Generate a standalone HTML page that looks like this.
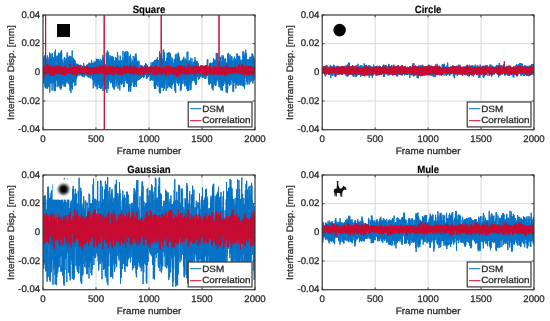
<!DOCTYPE html><html><head><meta charset="utf-8"><style>html,body{margin:0;padding:0;background:#fff;width:550px;height:321px;overflow:hidden}svg{display:block}text{font-family:'Liberation Sans', Arial, Helvetica, sans-serif;stroke-width:0.28px;paint-order:stroke;text-rendering:geometricPrecision}</style></head><body>
<svg width="550" height="321" viewBox="0 0 550 321">
<rect width="550" height="321" fill="#fff"/>
<defs>
<clipPath id="cS1"><rect x="43.0" y="15.0" width="212.0" height="114.7"/></clipPath>
<clipPath id="cS2"><rect x="322.2" y="15.0" width="211.8" height="114.7"/></clipPath>
<clipPath id="cS3"><rect x="43.0" y="175.0" width="212.0" height="114.7"/></clipPath>
<clipPath id="cS4"><rect x="322.2" y="175.0" width="211.8" height="114.7"/></clipPath>
<radialGradient id="gblob"><stop offset="0" stop-color="#000"/><stop offset="0.3" stop-color="#030303"/><stop offset="0.55" stop-color="#5a5a5a"/><stop offset="0.8" stop-color="#dedede"/><stop offset="1" stop-color="#fff"/></radialGradient>
</defs>
<line x1="96.00" y1="15.00" x2="96.00" y2="129.70" stroke="#d9d9d9" stroke-width="1.0"/><line x1="149.00" y1="15.00" x2="149.00" y2="129.70" stroke="#d9d9d9" stroke-width="1.0"/><line x1="202.00" y1="15.00" x2="202.00" y2="129.70" stroke="#d9d9d9" stroke-width="1.0"/><line x1="43.00" y1="101.02" x2="255.00" y2="101.02" stroke="#d9d9d9" stroke-width="1.0"/><line x1="43.00" y1="72.35" x2="255.00" y2="72.35" stroke="#d9d9d9" stroke-width="1.0"/><line x1="43.00" y1="43.67" x2="255.00" y2="43.67" stroke="#d9d9d9" stroke-width="1.0"/>
<g clip-path="url(#cS1)"><g fill="none" stroke-width="1.0" stroke-linejoin="round">
<path stroke="#0873c6" d="M43.0 57.1L43.1 68.9 43.2 82.7 43.3 83.5 43.4 59.8 43.5 79.1 43.6 80.4 43.7 79.5 43.8 79.2 44.0 56.5 44.1 82.9 44.2 79.5 44.3 57.7 44.4 57.2 44.5 60.0 44.6 78.7 44.7 55.4 44.8 70.0 44.9 83.5 45.0 86.7 45.1 79.2 45.2 84.2 45.3 88.2 45.4 80.7 45.5 59.3 45.6 82.3 45.8 61.2 45.9 58.1 46.0 83.9 46.1 80.3 46.2 86.0 46.3 59.9 46.4 80.8 46.5 59.5 46.6 88.6 46.7 76.4 46.8 64.6 46.9 61.5 47.0 81.3 47.1 86.4 47.2 67.7 47.3 55.4 47.5 88.5 47.6 60.6 47.7 64.9 47.8 76.4 47.9 57.0 48.0 58.8 48.1 60.9 48.2 81.0 48.3 67.6 48.4 86.3 48.5 79.2 48.6 80.2 48.7 79.6 48.8 59.2 48.9 80.6 49.0 77.0 49.1 87.4 49.3 80.5 49.4 61.1 49.5 52.4 49.6 56.5 49.7 92.6 49.8 92.2 49.9 87.8 50.0 80.3 50.1 59.2 50.2 53.4 50.3 78.2 50.4 80.4 50.5 75.8 50.6 58.9 50.7 83.6 50.8 58.2 51.0 62.4 51.1 75.6 51.2 81.1 51.3 59.0 51.4 82.3 51.5 71.9 51.6 79.9 51.7 57.1 51.8 57.6 51.9 56.1 52.0 54.2 52.1 90.6 52.2 57.1 52.3 53.2 52.4 84.1 52.5 77.6 52.6 77.9 52.8 59.1 52.9 75.7 53.0 61.5 53.1 62.3 53.2 75.7 53.3 82.9 53.4 57.3 53.5 77.7 53.6 66.8 53.7 81.4 53.8 77.1 53.9 59.6 54.0 57.7 54.1 90.6 54.2 82.9 54.3 86.3 54.4 77.3 54.6 58.2 54.7 91.1 54.8 63.0 54.9 52.4 55.0 56.7 55.1 87.0 55.2 50.7 55.3 91.1 55.4 85.1 55.5 49.6 55.6 59.7 55.7 67.0 55.8 64.1 55.9 64.2 56.0 80.2 56.1 66.2 56.2 65.2 56.4 80.4 56.5 69.8 56.6 74.5 56.7 68.0 56.8 55.7 56.9 57.9 57.0 61.8 57.1 58.4 57.2 87.2 57.3 66.0 57.4 78.8 57.5 61.6 57.6 59.8 57.7 61.1 57.8 55.6 57.9 83.8 58.1 76.0 58.2 80.0 58.3 83.4 58.4 86.1 58.5 56.5 58.6 52.7 58.7 80.3 58.8 56.6 58.9 53.0 59.0 81.9 59.1 77.7 59.2 62.4 59.3 59.5 59.4 64.7 59.5 58.4 59.6 86.8 59.7 53.8 59.9 62.4 60.0 88.4 60.1 85.3 60.2 68.1 60.3 62.0 60.4 62.5 60.5 62.0 60.6 65.4 60.7 52.5 60.8 55.3 60.9 89.7 61.0 63.5 61.1 55.4 61.2 51.0 61.3 62.4 61.4 87.8 61.5 50.1 61.7 52.4 61.8 53.6 61.9 78.2 62.0 85.5 62.1 67.1 62.2 80.2 62.3 67.8 62.4 61.1 62.5 84.0 62.6 60.8 62.7 64.1 62.8 59.5 62.9 84.0 63.0 63.8 63.1 62.8 63.2 64.6 63.4 81.2 63.5 74.9 63.6 81.2 63.7 67.0 63.8 79.1 63.9 86.5 64.0 75.4 64.1 79.6 64.2 62.2 64.3 57.8 64.4 66.3 64.5 86.0 64.6 58.7 64.7 57.2 64.8 57.9 64.9 62.3 65.0 68.6 65.2 87.0 65.3 83.9 65.4 78.1 65.5 59.8 65.6 66.6 65.7 66.1 65.8 84.2 65.9 61.2 66.0 64.3 66.1 59.2 66.2 58.4 66.3 58.3 66.4 79.1 66.5 58.4 66.6 68.8 66.7 82.2 66.8 79.8 67.0 55.1 67.1 55.6 67.2 52.5 67.3 57.0 67.4 78.0 67.5 81.1 67.6 64.4 67.7 58.7 67.8 57.3 67.9 81.1 68.0 83.2 68.1 65.1 68.2 56.6 68.3 83.9 68.4 83.3 68.5 77.7 68.7 75.4 68.8 61.0 68.9 76.6 69.0 60.2 69.1 77.2 69.2 60.0 69.3 61.1 69.4 82.1 69.5 55.7 69.6 61.0 69.7 67.6 69.8 86.6 69.9 64.7 70.0 62.5 70.1 90.6 70.2 71.8 70.3 90.5 70.5 86.8 70.6 56.3 70.7 84.1 70.8 83.5 70.9 92.9 71.0 92.2 71.1 56.6 71.2 82.4 71.3 64.7 71.4 76.2 71.5 60.4 71.6 87.3 71.7 60.7 71.8 60.7 71.9 84.9 72.0 87.7 72.2 50.5 72.3 89.6 72.4 85.4 72.5 58.2 72.6 78.6 72.7 76.2 72.8 58.4 72.9 76.2 73.0 83.1 73.1 76.1 73.2 58.0 73.3 67.5 73.4 61.3 73.5 65.9 73.6 81.9 73.7 60.2 73.8 73.4 74.0 79.0 74.1 67.0 74.2 65.0 74.3 64.2 74.4 59.5 74.5 79.1 74.6 81.9 74.7 77.9 74.8 77.5 74.9 79.1 75.0 85.9 75.1 61.8 75.2 82.7 75.3 66.2 75.4 60.6 75.5 84.1 75.6 62.6 75.8 85.3 75.9 66.3 76.0 64.6 76.1 65.4 76.2 65.5 76.3 65.8 76.4 68.5 76.5 79.1 76.6 75.9 76.7 77.9 76.8 63.6 76.9 76.0 77.0 69.4 77.1 76.5 77.2 64.2 77.3 65.1 77.5 75.8 77.6 73.0 77.7 66.4 77.8 72.6 77.9 65.8 78.0 75.7 78.1 63.9 78.2 66.4 78.3 74.4 78.4 73.5 78.5 69.7 78.6 65.2 78.7 66.5 78.8 74.9 78.9 75.2 79.0 67.1 79.1 75.6 79.3 74.5 79.4 66.4 79.5 65.3 79.6 73.9 79.7 65.6 79.8 67.8 79.9 65.5 80.0 66.1 80.1 64.8 80.2 66.7 80.3 65.6 80.4 72.5 80.5 75.2 80.6 67.1 80.7 68.5 80.8 66.1 80.9 68.8 81.1 74.7 81.2 75.1 81.3 72.7 81.4 74.8 81.5 72.9 81.6 75.8 81.7 73.6 81.8 74.9 81.9 75.9 82.0 67.7 82.1 72.1 82.2 75.7 82.3 76.8 82.4 76.6 82.5 65.9 82.6 69.7 82.8 69.5 82.9 68.0 83.0 76.0 83.1 66.4 83.2 69.1 83.3 72.4 83.4 66.7 83.5 76.1 83.6 72.8 83.7 63.1 83.8 69.5 83.9 65.5 84.0 75.0 84.1 77.3 84.2 65.8 84.3 74.2 84.4 77.0 84.6 75.8 84.7 67.9 84.8 73.6 84.9 76.1 85.0 72.9 85.1 74.9 85.2 66.0 85.3 74.8 85.4 74.7 85.5 68.9 85.6 70.5 85.7 66.2 85.8 67.4 85.9 74.4 86.0 69.1 86.1 68.9 86.2 73.0 86.4 65.9 86.5 73.2 86.6 68.4 86.7 65.4 86.8 66.6 86.9 76.2 87.0 75.2 87.1 75.5 87.2 66.6 87.3 75.2 87.4 66.2 87.5 75.5 87.6 76.8 87.7 64.8 87.8 64.9 87.9 64.6 88.0 72.1 88.2 74.3 88.3 75.3 88.4 77.5 88.5 63.5 88.6 76.6 88.7 75.5 88.8 63.6 88.9 65.6 89.0 76.9 89.1 62.7 89.2 64.2 89.3 65.2 89.4 63.7 89.5 77.4 89.6 75.7 89.7 63.5 89.9 69.8 90.0 65.7 90.1 67.2 90.2 77.2 90.3 75.0 90.4 76.7 90.5 65.7 90.6 78.4 90.7 63.7 90.8 73.5 90.9 63.3 91.0 63.9 91.1 68.5 91.2 63.7 91.3 62.8 91.4 75.7 91.5 59.9 91.7 74.3 91.8 76.0 91.9 76.8 92.0 76.5 92.1 74.8 92.2 79.3 92.3 72.4 92.4 64.3 92.5 75.9 92.6 62.7 92.7 67.1 92.8 65.6 92.9 80.1 93.0 66.0 93.1 68.3 93.2 88.4 93.3 87.8 93.5 73.6 93.6 69.6 93.7 63.3 93.8 66.2 93.9 65.3 94.0 80.2 94.1 61.4 94.2 75.8 94.3 79.2 94.4 82.8 94.5 63.2 94.6 79.4 94.7 63.7 94.8 73.9 94.9 79.3 95.0 85.5 95.2 69.6 95.3 62.0 95.4 78.5 95.5 65.5 95.6 63.9 95.7 65.0 95.8 77.2 95.9 80.7 96.0 86.8 96.1 60.8 96.2 86.9 96.3 58.7 96.4 60.5 96.5 65.5 96.6 83.2 96.7 81.9 96.8 60.2 97.0 86.5 97.1 86.6 97.2 89.3 97.3 65.1 97.4 81.4 97.5 82.8 97.6 58.9 97.7 69.9 97.8 84.8 97.9 64.4 98.0 79.4 98.1 60.5 98.2 84.8 98.3 67.9 98.4 62.1 98.5 59.2 98.7 81.3 98.8 82.3 98.9 59.9 99.0 60.7 99.1 73.0 99.2 88.1 99.3 64.7 99.4 62.6 99.5 87.6 99.6 81.8 99.7 83.1 99.8 61.0 99.9 63.5 100.0 80.7 100.1 84.1 100.2 78.9 100.3 58.9 100.5 62.2 100.6 64.4 100.7 88.8 100.8 87.5 100.9 88.7 101.0 82.8 101.1 61.2 101.2 88.2 101.3 63.4 101.4 61.1 101.5 84.3 101.6 64.1 101.7 60.4 101.8 85.9 101.9 84.0 102.0 62.3 102.1 77.5 102.3 86.1 102.4 59.8 102.5 82.9 102.6 85.1 102.7 84.9 102.8 65.7 102.9 55.3 103.0 91.0 103.1 58.2 103.2 82.5 103.3 63.6 103.4 81.4 103.5 66.6 103.6 80.2 103.7 63.4 103.8 65.6 104.0 84.7 104.1 84.9 104.2 83.9 104.3 59.6 104.4 59.6 104.5 84.1 104.6 81.6 104.7 65.5 104.8 74.8 104.9 80.4 105.0 67.1 105.1 76.4 105.2 64.5 105.3 79.9 105.4 89.4 105.5 78.2 105.6 85.7 105.8 67.8 105.9 88.1 106.0 64.6 106.1 82.7 106.2 84.1 106.3 53.3 106.4 57.3 106.5 65.3 106.6 91.0 106.7 66.2 106.8 93.0 106.9 62.1 107.0 74.8 107.1 60.1 107.2 52.0 107.3 62.0 107.4 50.7 107.6 84.2 107.7 50.8 107.8 56.4 107.9 58.1 108.0 83.5 108.1 88.5 108.2 53.1 108.3 52.5 108.4 88.8 108.5 63.4 108.6 74.5 108.7 78.9 108.8 79.3 108.9 63.9 109.0 81.7 109.1 78.5 109.2 59.5 109.4 79.8 109.5 77.2 109.6 60.8 109.7 79.7 109.8 59.0 109.9 76.8 110.0 60.2 110.1 55.2 110.2 75.9 110.3 56.4 110.4 63.1 110.5 64.2 110.6 82.9 110.7 79.7 110.8 83.2 110.9 69.9 111.1 62.0 111.2 67.9 111.3 80.1 111.4 60.4 111.5 76.0 111.6 65.5 111.7 56.4 111.8 82.7 111.9 81.3 112.0 58.9 112.1 64.1 112.2 80.8 112.3 55.9 112.4 60.6 112.5 68.1 112.6 59.3 112.7 86.4 112.9 76.0 113.0 63.3 113.1 66.5 113.2 87.4 113.3 61.3 113.4 87.8 113.5 84.5 113.6 56.9 113.7 76.6 113.8 80.6 113.9 88.6 114.0 60.2 114.1 89.7 114.2 62.5 114.3 70.7 114.4 84.5 114.5 78.5 114.7 65.6 114.8 61.2 114.9 75.3 115.0 77.1 115.1 78.0 115.2 79.3 115.3 67.6 115.4 73.5 115.5 58.4 115.6 57.1 115.7 64.4 115.8 79.1 115.9 79.1 116.0 86.7 116.1 59.9 116.2 67.7 116.4 57.9 116.5 61.9 116.6 58.7 116.7 84.5 116.8 63.8 116.9 61.4 117.0 66.4 117.1 67.0 117.2 58.6 117.3 82.6 117.4 52.5 117.5 52.1 117.6 79.0 117.7 82.9 117.8 54.8 117.9 60.6 118.0 88.7 118.2 80.3 118.3 80.0 118.4 85.0 118.5 84.9 118.6 60.3 118.7 66.9 118.8 64.0 118.9 64.3 119.0 63.3 119.1 62.5 119.2 84.1 119.3 60.5 119.4 83.8 119.5 85.6 119.6 78.1 119.7 85.1 119.8 90.4 120.0 83.4 120.1 69.6 120.2 55.7 120.3 59.6 120.4 82.9 120.5 63.7 120.6 67.3 120.7 83.4 120.8 80.3 120.9 63.3 121.0 63.3 121.1 61.6 121.2 77.9 121.3 64.4 121.4 60.5 121.5 84.7 121.7 60.1 121.8 61.1 121.9 76.9 122.0 70.2 122.1 84.2 122.2 82.7 122.3 82.8 122.4 76.5 122.5 67.8 122.6 79.8 122.7 56.5 122.8 55.6 122.9 52.7 123.0 50.9 123.1 55.9 123.2 82.1 123.3 72.6 123.5 62.5 123.6 61.8 123.7 59.4 123.8 87.2 123.9 63.3 124.0 87.0 124.1 78.2 124.2 78.1 124.3 59.8 124.4 57.0 124.5 52.0 124.6 55.3 124.7 76.9 124.8 75.4 124.9 55.6 125.0 53.1 125.2 57.5 125.3 76.3 125.4 77.0 125.5 78.3 125.6 81.0 125.7 51.5 125.8 64.6 125.9 65.8 126.0 77.6 126.1 70.6 126.2 58.2 126.3 82.8 126.4 55.5 126.5 61.2 126.6 73.0 126.7 56.7 126.8 82.6 127.0 50.9 127.1 83.5 127.2 82.5 127.3 55.0 127.4 79.4 127.5 78.8 127.6 51.8 127.7 81.5 127.8 83.9 127.9 52.1 128.0 60.7 128.1 63.8 128.2 72.6 128.3 65.2 128.4 79.2 128.5 91.6 128.6 83.4 128.8 75.0 128.9 90.7 129.0 58.6 129.1 57.6 129.2 56.2 129.3 65.4 129.4 87.2 129.5 61.8 129.6 62.6 129.7 68.4 129.8 59.0 129.9 76.0 130.0 66.1 130.1 57.7 130.2 88.8 130.3 91.8 130.4 54.4 130.6 58.9 130.7 91.3 130.8 80.7 130.9 58.3 131.0 59.2 131.1 75.3 131.2 85.2 131.3 77.6 131.4 68.7 131.5 62.1 131.6 85.9 131.7 64.1 131.8 78.8 131.9 80.1 132.0 65.3 132.1 82.6 132.3 67.2 132.4 76.2 132.5 60.5 132.6 76.7 132.7 61.2 132.8 63.1 132.9 75.1 133.0 63.9 133.1 76.7 133.2 57.1 133.3 56.0 133.4 84.4 133.5 82.5 133.6 86.9 133.7 64.2 133.8 66.7 133.9 78.6 134.1 82.4 134.2 85.0 134.3 76.2 134.4 86.7 134.5 82.5 134.6 85.5 134.7 57.8 134.8 65.4 134.9 82.7 135.0 78.6 135.1 56.7 135.2 55.7 135.3 59.7 135.4 61.4 135.5 58.7 135.6 54.6 135.8 85.1 135.9 57.4 136.0 53.4 136.1 62.7 136.2 87.0 136.3 81.7 136.4 68.5 136.5 57.4 136.6 78.8 136.7 65.5 136.8 63.3 136.9 62.3 137.0 61.0 137.1 69.4 137.2 79.0 137.3 81.0 137.4 77.1 137.6 61.8 137.7 65.7 137.8 63.1 137.9 65.3 138.0 60.6 138.1 80.0 138.2 66.4 138.3 75.7 138.4 62.4 138.5 75.3 138.6 80.1 138.7 61.9 138.8 74.0 138.9 60.9 139.0 79.2 139.1 79.3 139.2 72.1 139.4 74.1 139.5 74.8 139.6 73.9 139.7 78.1 139.8 79.4 139.9 78.2 140.0 69.3 140.1 78.6 140.2 75.8 140.3 76.4 140.4 64.9 140.5 76.8 140.6 78.7 140.7 74.8 140.8 68.9 140.9 69.5 141.1 68.9 141.2 67.9 141.3 69.8 141.4 78.0 141.5 65.1 141.6 76.6 141.7 77.2 141.8 75.8 141.9 76.3 142.0 67.7 142.1 77.0 142.2 76.8 142.3 65.9 142.4 68.4 142.5 68.8 142.6 69.3 142.7 69.8 142.9 77.0 143.0 68.7 143.1 68.2 143.2 69.2 143.3 75.0 143.4 75.9 143.5 68.8 143.6 77.9 143.7 69.4 143.8 68.2 143.9 75.4 144.0 66.6 144.1 65.6 144.2 77.2 144.3 75.6 144.4 72.5 144.5 65.8 144.7 73.8 144.8 64.9 144.9 75.0 145.0 74.3 145.1 74.9 145.2 65.8 145.3 72.6 145.4 65.8 145.5 74.8 145.6 73.3 145.7 63.0 145.8 68.1 145.9 64.2 146.0 74.8 146.1 67.2 146.2 64.0 146.3 78.6 146.5 68.7 146.6 69.0 146.7 75.6 146.8 76.7 146.9 78.5 147.0 75.7 147.1 66.8 147.2 67.3 147.3 67.8 147.4 77.6 147.5 65.4 147.6 73.3 147.7 67.1 147.8 74.5 147.9 76.7 148.0 67.0 148.2 67.8 148.3 73.2 148.4 76.6 148.5 73.4 148.6 75.5 148.7 76.5 148.8 76.0 148.9 76.1 149.0 68.4 149.1 76.0 149.2 68.3 149.3 68.6 149.4 67.7 149.5 74.5 149.6 73.7 149.7 69.9 149.8 70.0 150.0 66.5 150.1 68.3 150.2 81.0 150.3 69.0 150.4 67.0 150.5 80.8 150.6 66.1 150.7 73.0 150.8 65.7 150.9 77.4 151.0 66.7 151.1 62.3 151.2 63.8 151.3 66.4 151.4 78.0 151.5 79.9 151.7 65.2 151.8 71.8 151.9 79.0 152.0 77.7 152.1 67.6 152.2 80.4 152.3 68.3 152.4 74.9 152.5 63.6 152.6 63.3 152.7 62.3 152.8 76.1 152.9 78.6 153.0 62.2 153.1 80.3 153.2 80.6 153.3 79.5 153.5 65.3 153.6 77.8 153.7 76.3 153.8 64.1 153.9 75.3 154.0 61.3 154.1 75.4 154.2 86.7 154.3 82.7 154.4 83.2 154.5 89.0 154.6 61.4 154.7 75.3 154.8 60.3 154.9 85.8 155.0 60.3 155.1 85.1 155.3 85.7 155.4 60.2 155.5 61.4 155.6 66.6 155.7 89.0 155.8 82.8 155.9 80.5 156.0 61.4 156.1 78.7 156.2 59.3 156.3 83.3 156.4 84.7 156.5 75.5 156.6 59.8 156.7 63.5 156.8 84.4 156.9 68.6 157.1 79.8 157.2 81.7 157.3 57.8 157.4 78.1 157.5 57.3 157.6 76.2 157.7 83.4 157.8 86.7 157.9 84.1 158.0 84.7 158.1 85.5 158.2 61.6 158.3 60.1 158.4 79.7 158.5 78.0 158.6 77.5 158.8 82.2 158.9 71.8 159.0 77.1 159.1 75.6 159.2 78.4 159.3 92.0 159.4 54.6 159.5 51.0 159.6 78.0 159.7 93.2 159.8 91.5 159.9 92.1 160.0 86.1 160.1 64.6 160.2 53.4 160.3 64.7 160.4 93.3 160.6 79.8 160.7 86.6 160.8 86.2 160.9 63.5 161.0 64.0 161.1 58.7 161.2 78.2 161.3 80.1 161.4 56.9 161.5 55.0 161.6 80.7 161.7 58.4 161.8 85.9 161.9 87.3 162.0 81.2 162.1 88.0 162.2 87.3 162.4 60.5 162.5 64.4 162.6 63.9 162.7 60.4 162.8 75.9 162.9 58.7 163.0 84.0 163.1 63.5 163.2 53.9 163.3 49.5 163.4 91.0 163.5 65.6 163.6 55.3 163.7 83.3 163.8 50.4 163.9 88.3 164.1 52.4 164.2 67.7 164.3 55.4 164.4 61.1 164.5 84.5 164.6 86.0 164.7 88.6 164.8 85.1 164.9 61.8 165.0 84.6 165.1 66.1 165.2 64.0 165.3 61.5 165.4 61.0 165.5 78.9 165.6 80.3 165.7 68.5 165.9 79.8 166.0 61.5 166.1 90.0 166.2 90.9 166.3 90.6 166.4 78.0 166.5 59.8 166.6 60.6 166.7 58.1 166.8 66.1 166.9 79.7 167.0 79.0 167.1 80.1 167.2 53.1 167.3 52.9 167.4 82.3 167.6 65.5 167.7 88.3 167.8 78.3 167.9 53.2 168.0 77.2 168.1 58.6 168.2 61.1 168.3 61.6 168.4 57.7 168.5 57.6 168.6 85.5 168.7 56.9 168.8 52.0 168.9 55.2 169.0 56.8 169.1 86.0 169.2 87.0 169.4 62.6 169.5 86.8 169.6 52.7 169.7 84.6 169.8 84.0 169.9 59.2 170.0 56.2 170.1 57.6 170.2 58.0 170.3 87.7 170.4 54.5 170.5 53.6 170.6 59.8 170.7 56.4 170.8 66.1 170.9 60.2 171.0 63.4 171.2 64.7 171.3 62.0 171.4 84.7 171.5 62.9 171.6 86.1 171.7 88.9 171.8 85.0 171.9 68.8 172.0 57.4 172.1 57.8 172.2 62.3 172.3 84.3 172.4 59.4 172.5 84.2 172.6 85.1 172.7 77.0 172.8 79.7 173.0 83.9 173.1 82.9 173.2 81.9 173.3 67.4 173.4 66.8 173.5 81.6 173.6 62.9 173.7 64.4 173.8 65.2 173.9 67.6 174.0 76.2 174.1 79.8 174.2 58.8 174.3 77.6 174.4 61.6 174.5 86.2 174.7 85.0 174.8 85.7 174.9 88.2 175.0 90.7 175.1 87.0 175.2 85.2 175.3 90.6 175.4 54.9 175.5 83.9 175.6 88.8 175.7 92.9 175.8 77.4 175.9 57.8 176.0 80.3 176.1 53.8 176.2 78.6 176.3 63.3 176.5 63.7 176.6 79.2 176.7 78.1 176.8 67.2 176.9 62.2 177.0 82.7 177.1 59.5 177.2 59.4 177.3 76.8 177.4 59.9 177.5 57.6 177.6 76.3 177.7 83.5 177.8 53.8 177.9 58.6 178.0 62.8 178.2 60.1 178.3 52.6 178.4 83.6 178.5 85.8 178.6 53.4 178.7 83.2 178.8 55.7 178.9 81.4 179.0 60.1 179.1 82.3 179.2 81.2 179.3 57.1 179.4 57.8 179.5 82.2 179.6 82.8 179.7 77.6 179.8 63.6 180.0 83.3 180.1 78.9 180.2 62.4 180.3 69.0 180.4 90.7 180.5 60.7 180.6 89.5 180.7 78.5 180.8 79.1 180.9 63.6 181.0 90.5 181.1 76.8 181.2 76.7 181.3 89.1 181.4 60.7 181.5 62.8 181.6 63.0 181.8 66.4 181.9 75.8 182.0 66.8 182.1 76.5 182.2 60.3 182.3 79.2 182.4 79.4 182.5 81.5 182.6 64.6 182.7 81.3 182.8 84.2 182.9 58.7 183.0 78.9 183.1 64.4 183.2 79.9 183.3 62.3 183.4 65.8 183.6 62.3 183.7 78.4 183.8 56.8 183.9 77.1 184.0 81.5 184.1 83.8 184.2 79.2 184.3 77.8 184.4 61.4 184.5 80.9 184.6 81.9 184.7 67.5 184.8 86.3 184.9 65.4 185.0 84.5 185.1 58.8 185.3 64.3 185.4 58.7 185.5 80.2 185.6 62.6 185.7 62.6 185.8 63.9 185.9 79.2 186.0 78.0 186.1 85.7 186.2 79.7 186.3 81.4 186.4 63.1 186.5 60.7 186.6 66.1 186.7 85.9 186.8 63.5 186.9 89.1 187.1 52.0 187.2 83.1 187.3 60.4 187.4 91.1 187.5 89.4 187.6 80.1 187.7 80.8 187.8 51.5 187.9 61.8 188.0 63.8 188.1 62.2 188.2 85.2 188.3 70.3 188.4 65.9 188.5 66.5 188.6 91.0 188.8 67.3 188.9 85.3 189.0 60.3 189.1 65.5 189.2 80.9 189.3 62.1 189.4 82.8 189.5 83.1 189.6 82.9 189.7 62.8 189.8 83.1 189.9 68.5 190.0 69.4 190.1 90.1 190.2 60.7 190.3 85.2 190.4 60.1 190.6 58.9 190.7 57.8 190.8 89.5 190.9 89.9 191.0 89.1 191.1 86.2 191.2 86.3 191.3 65.0 191.4 80.5 191.5 62.4 191.6 72.9 191.7 82.4 191.8 80.1 191.9 80.5 192.0 58.4 192.1 63.5 192.2 77.4 192.4 81.0 192.5 76.2 192.6 77.3 192.7 80.6 192.8 63.7 192.9 65.7 193.0 65.1 193.1 64.9 193.2 66.2 193.3 70.1 193.4 69.2 193.5 80.0 193.6 80.3 193.7 62.2 193.8 78.7 193.9 63.9 194.1 61.7 194.2 79.6 194.3 80.3 194.4 61.5 194.5 63.6 194.6 81.1 194.7 63.8 194.8 62.1 194.9 59.5 195.0 57.0 195.1 82.8 195.2 77.8 195.3 60.2 195.4 78.3 195.5 84.1 195.6 85.1 195.7 84.7 195.9 62.7 196.0 63.3 196.1 84.5 196.2 67.2 196.3 61.6 196.4 77.6 196.5 67.5 196.6 83.7 196.7 67.5 196.8 65.3 196.9 63.2 197.0 74.4 197.1 60.9 197.2 77.3 197.3 69.2 197.4 61.0 197.5 64.4 197.7 75.8 197.8 75.1 197.9 74.8 198.0 74.8 198.1 62.9 198.2 75.9 198.3 65.0 198.4 79.7 198.5 68.9 198.6 72.5 198.7 76.4 198.8 68.6 198.9 74.3 199.0 66.4 199.1 73.8 199.2 75.9 199.3 75.6 199.5 66.7 199.6 78.7 199.7 75.8 199.8 75.2 199.9 74.8 200.0 75.7 200.1 74.6 200.2 76.3 200.3 69.9 200.4 76.7 200.5 65.5 200.6 74.2 200.7 71.9 200.8 65.9 200.9 73.9 201.0 67.1 201.2 67.6 201.3 75.5 201.4 65.3 201.5 75.7 201.6 65.9 201.7 66.5 201.8 73.7 201.9 77.4 202.0 65.6 202.1 76.2 202.2 67.3 202.3 65.8 202.4 77.3 202.5 68.2 202.6 65.4 202.7 78.1 202.8 77.7 203.0 68.8 203.1 66.4 203.2 67.0 203.3 72.3 203.4 66.7 203.5 75.2 203.6 71.9 203.7 69.3 203.8 74.0 203.9 77.5 204.0 74.0 204.1 68.6 204.2 73.7 204.3 76.8 204.4 68.9 204.5 75.0 204.7 65.9 204.8 78.3 204.9 68.4 205.0 78.9 205.1 76.0 205.2 69.0 205.3 66.3 205.4 66.9 205.5 76.8 205.6 78.9 205.7 75.8 205.8 66.7 205.9 68.6 206.0 78.1 206.1 66.3 206.2 67.6 206.3 71.7 206.5 65.3 206.6 73.7 206.7 75.9 206.8 65.9 206.9 66.8 207.0 75.3 207.1 75.9 207.2 68.4 207.3 59.9 207.4 65.9 207.5 75.4 207.6 75.0 207.7 59.0 207.8 59.5 207.9 66.0 208.0 67.3 208.1 68.0 208.3 79.2 208.4 66.9 208.5 83.6 208.6 77.9 208.7 66.7 208.8 67.5 208.9 83.6 209.0 81.8 209.1 68.2 209.2 72.7 209.3 85.2 209.4 80.7 209.5 81.6 209.6 66.3 209.7 64.2 209.8 68.2 209.9 62.9 210.1 82.7 210.2 66.1 210.3 64.3 210.4 76.5 210.5 64.4 210.6 62.7 210.7 83.3 210.8 83.5 210.9 83.7 211.0 67.6 211.1 79.0 211.2 63.8 211.3 77.1 211.4 66.3 211.5 69.5 211.6 67.3 211.8 63.7 211.9 62.8 212.0 88.6 212.1 87.8 212.2 63.0 212.3 87.7 212.4 88.0 212.5 63.6 212.6 84.2 212.7 63.2 212.8 62.9 212.9 76.9 213.0 90.5 213.1 61.7 213.2 87.0 213.3 85.1 213.4 66.2 213.6 58.3 213.7 60.9 213.8 64.9 213.9 63.5 214.0 79.8 214.1 76.7 214.2 61.3 214.3 62.5 214.4 59.8 214.5 59.7 214.6 84.3 214.7 81.9 214.8 60.9 214.9 79.6 215.0 63.4 215.1 67.0 215.2 85.7 215.4 80.4 215.5 62.5 215.6 61.8 215.7 86.0 215.8 59.8 215.9 85.1 216.0 65.4 216.1 65.3 216.2 66.5 216.3 52.9 216.4 81.5 216.5 79.9 216.6 58.0 216.7 56.0 216.8 54.5 216.9 81.4 217.1 55.1 217.2 68.5 217.3 63.8 217.4 53.1 217.5 54.1 217.6 79.6 217.7 64.9 217.8 76.1 217.9 75.5 218.0 64.5 218.1 75.5 218.2 62.1 218.3 63.4 218.4 65.1 218.5 82.9 218.6 66.7 218.7 77.2 218.9 65.8 219.0 87.0 219.1 77.7 219.2 75.9 219.3 61.2 219.4 61.1 219.5 80.0 219.6 61.7 219.7 82.3 219.8 86.6 219.9 85.0 220.0 87.6 220.1 56.8 220.2 65.4 220.3 81.6 220.4 84.6 220.6 57.2 220.7 78.5 220.8 78.7 220.9 72.1 221.0 85.4 221.1 90.4 221.2 74.0 221.3 74.1 221.4 90.1 221.5 63.0 221.6 65.5 221.7 88.0 221.8 61.3 221.9 90.3 222.0 55.3 222.1 70.7 222.2 90.2 222.4 90.5 222.5 82.8 222.6 57.3 222.7 61.0 222.8 62.2 222.9 83.1 223.0 84.8 223.1 86.0 223.2 55.4 223.3 77.0 223.4 57.2 223.5 58.7 223.6 84.8 223.7 85.4 223.8 76.4 223.9 84.2 224.0 63.5 224.2 81.1 224.3 75.3 224.4 58.7 224.5 81.0 224.6 81.5 224.7 62.9 224.8 63.8 224.9 77.4 225.0 64.9 225.1 79.3 225.2 59.5 225.3 76.0 225.4 83.5 225.5 73.3 225.6 58.4 225.7 82.7 225.8 62.4 226.0 62.5 226.1 62.8 226.2 92.5 226.3 67.6 226.4 90.1 226.5 76.4 226.6 84.5 226.7 62.9 226.8 63.8 226.9 87.0 227.0 69.0 227.1 62.9 227.2 66.8 227.3 64.2 227.4 93.1 227.5 56.1 227.7 89.5 227.8 84.9 227.9 53.8 228.0 64.1 228.1 78.4 228.2 63.0 228.3 52.9 228.4 61.5 228.5 61.6 228.6 53.8 228.7 84.0 228.8 57.6 228.9 77.4 229.0 76.6 229.1 58.9 229.2 78.8 229.3 64.2 229.5 67.8 229.6 86.0 229.7 58.3 229.8 81.5 229.9 83.1 230.0 54.5 230.1 57.2 230.2 83.5 230.3 80.1 230.4 60.4 230.5 76.4 230.6 79.2 230.7 80.8 230.8 61.3 230.9 84.9 231.0 75.9 231.2 56.2 231.3 59.5 231.4 79.7 231.5 78.0 231.6 76.1 231.7 66.1 231.8 74.1 231.9 63.4 232.0 56.6 232.1 66.1 232.2 74.1 232.3 60.4 232.4 81.0 232.5 62.0 232.6 74.7 232.7 82.4 232.8 81.7 233.0 91.8 233.1 91.5 233.2 84.4 233.3 91.1 233.4 87.0 233.5 79.8 233.6 91.7 233.7 84.3 233.8 85.8 233.9 58.4 234.0 80.8 234.1 60.6 234.2 63.8 234.3 63.7 234.4 83.1 234.5 56.6 234.6 58.9 234.8 61.7 234.9 81.4 235.0 62.8 235.1 66.3 235.2 58.9 235.3 81.9 235.4 62.1 235.5 67.1 235.6 58.7 235.7 83.7 235.8 88.6 235.9 67.0 236.0 64.6 236.1 61.0 236.2 82.4 236.3 59.5 236.4 84.7 236.6 84.9 236.7 84.4 236.8 73.6 236.9 53.4 237.0 64.3 237.1 79.9 237.2 82.1 237.3 53.9 237.4 79.4 237.5 68.2 237.6 76.2 237.7 84.4 237.8 63.0 237.9 56.2 238.0 56.0 238.1 85.6 238.3 85.9 238.4 63.7 238.5 56.9 238.6 61.5 238.7 78.9 238.8 62.2 238.9 64.2 239.0 55.6 239.1 73.2 239.2 56.8 239.3 84.9 239.4 83.5 239.5 63.9 239.6 62.4 239.7 56.0 239.8 59.8 239.9 66.9 240.1 62.9 240.2 85.3 240.3 73.9 240.4 62.0 240.5 60.4 240.6 78.7 240.7 80.5 240.8 85.2 240.9 82.6 241.0 59.6 241.1 83.3 241.2 78.2 241.3 66.5 241.4 83.7 241.5 64.3 241.6 75.5 241.8 68.4 241.9 85.5 242.0 60.8 242.1 60.0 242.2 73.2 242.3 83.6 242.4 77.5 242.5 59.7 242.6 83.8 242.7 74.5 242.8 86.1 242.9 78.9 243.0 51.1 243.1 80.1 243.2 53.0 243.3 56.6 243.4 57.1 243.6 79.6 243.7 86.4 243.8 51.9 243.9 86.4 244.0 65.1 244.1 55.2 244.2 58.5 244.3 61.5 244.4 57.1 244.5 88.7 244.6 55.7 244.7 56.8 244.8 82.0 244.9 84.8 245.0 69.8 245.1 60.2 245.2 53.7 245.4 53.6 245.5 74.8 245.6 77.1 245.7 49.7 245.8 75.9 245.9 75.2 246.0 55.7 246.1 77.2 246.2 78.3 246.3 65.7 246.4 53.2 246.5 77.5 246.6 74.3 246.7 81.6 246.8 82.2 246.9 79.3 247.1 78.2 247.2 84.7 247.3 60.6 247.4 63.8 247.5 59.4 247.6 62.8 247.7 81.1 247.8 66.2 247.9 79.1 248.0 79.8 248.1 59.2 248.2 65.0 248.3 62.2 248.4 78.3 248.5 60.5 248.6 66.5 248.7 62.6 248.9 78.5 249.0 83.1 249.1 84.5 249.2 59.0 249.3 61.0 249.4 72.4 249.5 83.2 249.6 60.8 249.7 83.8 249.8 57.3 249.9 65.0 250.0 82.0 250.1 63.1 250.2 56.8 250.3 65.6 250.4 74.5 250.5 62.8 250.7 66.3 250.8 77.5 250.9 75.6 251.0 81.4 251.1 80.8 251.2 56.7 251.3 79.5 251.4 63.8 251.5 68.2 251.6 75.5 251.7 61.1 251.8 61.0 251.9 78.5 252.0 53.5 252.1 54.8 252.2 81.3 252.3 79.9 252.5 61.9 252.6 56.6 252.7 61.6 252.8 54.3 252.9 83.6 253.0 57.5 253.1 73.9 253.2 55.9 253.3 62.8 253.4 81.0 253.5 67.1 253.6 58.7 253.7 80.0 253.8 68.2 253.9 57.8 254.0 64.3 254.2 58.3 254.3 58.0 254.4 78.5 254.5 78.8 254.6 58.0 254.7 65.9 254.8 78.8 254.9 63.1 255.0 69.4"/>
<path stroke="#c80d33" d="M43.0 75.9L43.1 66.7 43.2 68.9 43.3 74.5 43.4 67.1 43.5 68.4 43.6 69.0 43.7 75.9 43.8 66.6 44.0 72.5 44.1 76.4 44.2 67.2 44.3 68.6 44.4 68.2 44.5 66.5 44.6 66.8 44.7 68.7 44.8 67.1 44.9 68.7 45.0 67.3 45.1 67.6 45.2 67.8 45.3 71.7 45.4 67.2 45.5 66.2 45.6 -7.7 45.8 74.1 45.9 68.8 46.0 65.9 46.1 72.2 46.2 74.3 46.3 67.1 46.4 69.1 46.5 68.2 46.6 74.1 46.7 71.5 46.8 68.1 46.9 70.6 47.0 73.0 47.1 66.5 47.2 64.2 47.3 70.8 47.5 73.4 47.6 73.5 47.7 73.4 47.8 64.1 47.9 64.9 48.0 73.8 48.1 71.4 48.2 67.8 48.3 65.7 48.4 65.2 48.5 68.0 48.6 71.9 48.7 72.2 48.8 71.4 48.9 70.6 49.0 66.6 49.1 67.3 49.3 67.1 49.4 68.4 49.5 65.6 49.6 68.7 49.7 72.1 49.8 66.2 49.9 72.8 50.0 66.9 50.1 71.0 50.2 75.8 50.3 66.5 50.4 75.9 50.5 69.8 50.6 72.8 50.7 66.3 50.8 72.1 51.0 73.1 51.1 68.4 51.2 74.2 51.3 67.1 51.4 65.9 51.5 71.1 51.6 73.3 51.7 65.4 51.8 67.6 51.9 72.6 52.0 68.1 52.1 73.3 52.2 72.0 52.3 75.6 52.4 73.2 52.5 73.9 52.6 73.2 52.8 73.9 52.9 68.2 53.0 66.4 53.1 73.2 53.2 68.3 53.3 75.4 53.4 75.9 53.5 73.1 53.6 75.6 53.7 68.9 53.8 71.0 53.9 67.1 54.0 75.8 54.1 67.9 54.2 75.4 54.3 68.2 54.4 71.0 54.6 72.2 54.7 67.0 54.8 72.9 54.9 72.2 55.0 66.4 55.1 67.5 55.2 68.6 55.3 71.1 55.4 69.8 55.5 72.6 55.6 71.4 55.7 72.4 55.8 68.0 55.9 67.0 56.0 66.0 56.1 66.2 56.2 73.4 56.4 67.4 56.5 66.7 56.6 74.0 56.7 73.3 56.8 73.2 56.9 68.0 57.0 74.1 57.1 69.7 57.2 70.8 57.3 74.1 57.4 68.3 57.5 72.7 57.6 67.1 57.7 66.7 57.8 67.8 57.9 66.9 58.1 65.9 58.2 72.2 58.3 65.9 58.4 68.0 58.5 72.5 58.6 67.1 58.7 73.8 58.8 71.5 58.9 73.7 59.0 67.5 59.1 68.8 59.2 69.2 59.3 69.4 59.4 72.1 59.5 69.8 59.6 66.5 59.7 68.5 59.9 72.5 60.0 65.9 60.1 73.1 60.2 73.4 60.3 73.1 60.4 67.3 60.5 73.9 60.6 68.1 60.7 66.0 60.8 68.6 60.9 69.2 61.0 68.5 61.1 73.7 61.2 74.6 61.3 73.5 61.4 67.4 61.5 72.6 61.7 74.8 61.8 68.5 61.9 73.3 62.0 74.1 62.1 74.8 62.2 67.5 62.3 72.5 62.4 71.2 62.5 72.9 62.6 73.1 62.7 67.6 62.8 69.2 62.9 66.8 63.0 68.1 63.1 71.2 63.2 66.9 63.4 67.2 63.5 73.4 63.6 73.9 63.7 72.5 63.8 74.2 63.9 68.0 64.0 72.4 64.1 74.7 64.2 68.0 64.3 66.5 64.4 73.3 64.5 66.2 64.6 74.4 64.7 69.0 64.8 66.6 64.9 74.8 65.0 74.7 65.2 73.2 65.3 66.2 65.4 69.3 65.5 67.1 65.6 76.1 65.7 68.3 65.8 67.5 65.9 73.5 66.0 67.4 66.1 69.4 66.2 68.6 66.3 67.3 66.4 74.8 66.5 69.9 66.6 68.0 66.7 68.0 66.8 72.2 67.0 69.3 67.1 68.1 67.2 71.6 67.3 68.5 67.4 73.2 67.5 69.5 67.6 68.1 67.7 72.1 67.8 73.2 67.9 69.2 68.0 68.7 68.1 68.7 68.2 68.6 68.3 68.8 68.4 72.2 68.5 69.3 68.7 71.4 68.8 68.3 68.9 69.9 69.0 68.3 69.1 72.4 69.2 68.6 69.3 69.0 69.4 72.8 69.5 72.3 69.6 73.6 69.7 68.9 69.8 64.0 69.9 73.5 70.0 72.9 70.1 64.6 70.2 71.4 70.3 65.7 70.5 68.0 70.6 67.9 70.7 68.0 70.8 72.9 70.9 68.9 71.0 69.1 71.1 68.2 71.2 69.8 71.3 69.9 71.4 71.5 71.5 71.6 71.6 68.5 71.7 68.3 71.8 73.4 71.9 73.0 72.0 67.9 72.2 74.5 72.3 72.9 72.4 67.9 72.5 67.2 72.6 73.1 72.7 72.9 72.8 73.6 72.9 74.5 73.0 71.9 73.1 73.0 73.2 68.7 73.3 68.4 73.4 68.9 73.5 73.6 73.6 74.0 73.7 74.5 73.8 67.9 74.0 65.6 74.1 73.1 74.2 64.9 74.3 69.4 74.4 66.8 74.5 64.9 74.6 66.9 74.7 66.9 74.8 74.1 74.9 74.3 75.0 66.9 75.1 73.1 75.2 75.1 75.3 67.0 75.4 74.5 75.5 70.2 75.6 67.7 75.8 73.2 75.9 66.2 76.0 75.5 76.1 67.3 76.2 74.7 76.3 75.5 76.4 68.3 76.5 74.7 76.6 67.5 76.7 73.6 76.8 67.6 76.9 74.0 77.0 71.8 77.1 73.9 77.2 71.4 77.3 68.0 77.5 73.6 77.6 72.2 77.7 68.2 77.8 67.7 77.9 67.5 78.0 73.3 78.1 68.9 78.2 68.5 78.3 70.7 78.4 65.4 78.5 72.6 78.6 65.5 78.7 67.4 78.8 72.1 78.9 71.6 79.0 65.1 79.1 66.2 79.3 72.7 79.4 68.6 79.5 67.4 79.6 72.9 79.7 71.0 79.8 73.2 79.9 72.1 80.0 72.5 80.1 67.9 80.2 73.7 80.3 71.6 80.4 72.5 80.5 73.3 80.6 67.6 80.7 72.0 80.8 68.8 80.9 64.9 81.1 67.2 81.2 71.4 81.3 72.5 81.4 67.7 81.5 68.3 81.6 73.1 81.7 74.1 81.8 68.7 81.9 70.7 82.0 68.8 82.1 72.3 82.2 71.6 82.3 72.9 82.4 73.7 82.5 68.4 82.6 68.7 82.8 74.1 82.9 73.6 83.0 74.0 83.1 67.7 83.2 69.1 83.3 67.2 83.4 73.9 83.5 67.0 83.6 72.7 83.7 68.8 83.8 74.1 83.9 73.5 84.0 71.5 84.1 73.7 84.2 66.6 84.3 71.4 84.4 71.9 84.6 68.8 84.7 72.2 84.8 67.6 84.9 71.6 85.0 71.5 85.1 72.0 85.2 72.6 85.3 67.8 85.4 72.2 85.5 69.8 85.6 71.9 85.7 71.5 85.8 70.6 85.9 71.8 86.0 73.1 86.1 73.2 86.2 71.9 86.4 73.4 86.5 74.2 86.6 65.9 86.7 73.0 86.8 67.5 86.9 69.1 87.0 64.6 87.1 64.7 87.2 73.0 87.3 72.1 87.4 67.6 87.5 72.2 87.6 74.8 87.7 73.7 87.8 72.1 87.9 68.1 88.0 67.7 88.2 68.5 88.3 74.1 88.4 74.2 88.5 69.1 88.6 69.1 88.7 72.1 88.8 74.5 88.9 74.5 89.0 72.3 89.1 67.0 89.2 74.1 89.3 71.3 89.4 66.9 89.5 69.6 89.6 71.6 89.7 67.1 89.9 72.1 90.0 73.7 90.1 68.4 90.2 73.7 90.3 73.7 90.4 73.4 90.5 67.4 90.6 68.0 90.7 73.5 90.8 68.4 90.9 74.4 91.0 74.5 91.1 74.3 91.2 68.6 91.3 67.4 91.4 68.3 91.5 68.3 91.7 75.0 91.8 69.1 91.9 71.8 92.0 71.5 92.1 72.1 92.2 72.8 92.3 67.2 92.4 72.7 92.5 67.4 92.6 72.2 92.7 73.7 92.8 68.6 92.9 67.1 93.0 72.9 93.1 67.7 93.2 73.3 93.3 67.5 93.5 71.3 93.6 74.7 93.7 67.5 93.8 74.0 93.9 71.6 94.0 72.1 94.1 73.3 94.2 68.3 94.3 67.9 94.4 67.1 94.5 73.1 94.6 70.2 94.7 69.1 94.8 67.1 94.9 73.8 95.0 72.2 95.2 67.3 95.3 67.2 95.4 73.3 95.5 74.0 95.6 67.8 95.7 68.8 95.8 72.8 95.9 67.1 96.0 66.8 96.1 73.4 96.2 73.1 96.3 73.9 96.4 69.6 96.5 67.2 96.6 66.4 96.7 73.1 96.8 73.6 97.0 67.5 97.1 68.4 97.2 74.0 97.3 74.1 97.4 69.8 97.5 71.7 97.6 69.2 97.7 73.7 97.8 72.7 97.9 68.1 98.0 73.6 98.1 68.3 98.2 68.3 98.3 69.7 98.4 67.5 98.5 67.6 98.7 68.0 98.8 71.1 98.9 73.1 99.0 67.5 99.1 67.6 99.2 70.8 99.3 68.4 99.4 73.4 99.5 73.8 99.6 70.3 99.7 66.7 99.8 71.1 99.9 66.3 100.0 72.9 100.1 73.0 100.2 68.0 100.3 67.7 100.5 74.2 100.6 66.4 100.7 66.4 100.8 72.1 100.9 65.5 101.0 67.3 101.1 73.0 101.2 66.2 101.3 72.4 101.4 67.6 101.5 67.5 101.6 69.8 101.7 72.4 101.8 72.4 101.9 73.1 102.0 68.2 102.1 65.9 102.3 66.3 102.4 68.1 102.5 73.6 102.6 73.7 102.7 71.4 102.8 72.6 102.9 71.7 103.0 67.0 103.1 70.2 103.2 67.8 103.3 66.4 103.4 73.5 103.5 73.5 103.6 69.3 103.7 66.8 103.8 65.5 104.0 67.3 104.1 66.6 104.2 -7.7 104.3 152.3 104.4 66.3 104.5 65.8 104.6 73.0 104.7 69.4 104.8 67.6 104.9 71.0 105.0 67.4 105.1 69.8 105.2 68.5 105.3 73.4 105.4 67.2 105.5 72.9 105.6 73.1 105.8 67.3 105.9 73.6 106.0 74.9 106.1 65.3 106.2 74.0 106.3 74.7 106.4 73.1 106.5 70.0 106.6 73.7 106.7 75.0 106.8 72.8 106.9 73.7 107.0 67.0 107.1 74.6 107.2 74.7 107.3 73.9 107.4 73.4 107.6 69.7 107.7 71.7 107.8 67.4 107.9 68.2 108.0 67.5 108.1 67.7 108.2 73.6 108.3 74.3 108.4 74.2 108.5 71.4 108.6 68.0 108.7 67.7 108.8 65.8 108.9 73.2 109.0 72.1 109.1 67.5 109.2 68.0 109.4 66.8 109.5 67.0 109.6 66.0 109.7 72.9 109.8 74.4 109.9 66.0 110.0 67.9 110.1 66.9 110.2 73.3 110.3 67.6 110.4 72.6 110.5 73.5 110.6 73.4 110.7 68.3 110.8 68.4 110.9 72.3 111.1 73.1 111.2 67.6 111.3 67.8 111.4 68.8 111.5 68.1 111.6 73.3 111.7 66.5 111.8 74.3 111.9 72.4 112.0 68.4 112.1 66.0 112.2 74.1 112.3 73.2 112.4 66.1 112.5 74.2 112.6 74.0 112.7 73.3 112.9 72.3 113.0 66.9 113.1 72.7 113.2 67.1 113.3 68.3 113.4 68.0 113.5 72.3 113.6 66.7 113.7 68.4 113.8 67.6 113.9 75.3 114.0 67.0 114.1 67.5 114.2 74.7 114.3 73.9 114.4 74.2 114.5 67.3 114.7 75.0 114.8 67.1 114.9 70.7 115.0 68.6 115.1 72.6 115.2 67.3 115.3 67.0 115.4 66.9 115.5 68.8 115.6 68.5 115.7 73.5 115.8 73.6 115.9 69.3 116.0 68.6 116.1 73.2 116.2 67.3 116.4 67.3 116.5 68.6 116.6 68.3 116.7 68.0 116.8 67.3 116.9 71.8 117.0 67.8 117.1 65.5 117.2 67.2 117.3 68.2 117.4 72.3 117.5 69.7 117.6 65.2 117.7 72.6 117.8 73.6 117.9 74.6 118.0 68.6 118.2 73.7 118.3 69.2 118.4 73.9 118.5 73.4 118.6 67.3 118.7 67.2 118.8 74.7 118.9 68.2 119.0 74.1 119.1 69.2 119.2 74.6 119.3 71.4 119.4 68.4 119.5 74.4 119.6 74.2 119.7 67.0 119.8 72.1 120.0 70.0 120.1 72.0 120.2 73.7 120.3 67.3 120.4 73.7 120.5 68.5 120.6 67.5 120.7 73.4 120.8 67.0 120.9 74.2 121.0 72.3 121.1 72.6 121.2 72.4 121.3 71.9 121.4 66.3 121.5 69.6 121.7 72.3 121.8 72.2 121.9 72.3 122.0 74.7 122.1 68.5 122.2 75.3 122.3 68.9 122.4 75.2 122.5 73.3 122.6 68.1 122.7 69.0 122.8 74.6 122.9 68.3 123.0 72.9 123.1 68.9 123.2 68.1 123.3 73.6 123.5 65.5 123.6 73.6 123.7 74.1 123.8 70.5 123.9 66.8 124.0 74.1 124.1 66.2 124.2 71.4 124.3 66.9 124.4 72.2 124.5 71.9 124.6 66.9 124.7 66.7 124.8 72.2 124.9 69.5 125.0 68.0 125.2 66.9 125.3 67.7 125.4 72.6 125.5 73.6 125.6 72.6 125.7 73.3 125.8 67.8 125.9 73.5 126.0 67.9 126.1 72.2 126.2 67.2 126.3 73.3 126.4 67.0 126.5 72.4 126.6 66.4 126.7 66.6 126.8 68.7 127.0 71.5 127.1 67.8 127.2 72.9 127.3 67.7 127.4 66.2 127.5 72.6 127.6 73.0 127.7 68.6 127.8 67.2 127.9 67.6 128.0 66.8 128.1 67.8 128.2 72.4 128.3 67.8 128.4 67.7 128.5 72.6 128.6 71.8 128.8 72.6 128.9 68.2 129.0 67.9 129.1 68.8 129.2 71.6 129.3 71.8 129.4 68.2 129.5 74.4 129.6 73.9 129.7 64.5 129.8 65.3 129.9 65.1 130.0 72.2 130.1 67.6 130.2 67.6 130.3 73.4 130.4 73.4 130.6 71.8 130.7 72.6 130.8 66.3 130.9 67.0 131.0 67.4 131.1 65.9 131.2 73.5 131.3 73.8 131.4 69.9 131.5 66.3 131.6 67.3 131.7 72.9 131.8 69.5 131.9 66.9 132.0 73.7 132.1 73.4 132.3 73.1 132.4 72.2 132.5 72.9 132.6 73.7 132.7 67.6 132.8 73.2 132.9 72.8 133.0 73.9 133.1 72.2 133.2 74.5 133.3 74.7 133.4 73.7 133.5 71.8 133.6 75.0 133.7 66.9 133.8 68.1 133.9 66.2 134.1 71.7 134.2 65.9 134.3 72.8 134.4 72.1 134.5 68.5 134.6 73.1 134.7 67.2 134.8 66.9 134.9 74.4 135.0 65.4 135.1 65.8 135.2 67.2 135.3 66.1 135.4 72.5 135.5 72.4 135.6 68.7 135.8 72.0 135.9 73.4 136.0 72.3 136.1 71.5 136.2 67.1 136.3 72.7 136.4 68.0 136.5 73.2 136.6 70.8 136.7 72.5 136.8 73.4 136.9 67.9 137.0 73.0 137.1 73.8 137.2 68.4 137.3 67.6 137.4 68.9 137.6 68.6 137.7 72.7 137.8 69.9 137.9 72.2 138.0 72.2 138.1 74.1 138.2 68.2 138.3 73.8 138.4 68.4 138.5 68.0 138.6 74.8 138.7 73.1 138.8 72.2 138.9 69.3 139.0 69.1 139.1 71.7 139.2 69.8 139.4 69.2 139.5 72.5 139.6 73.1 139.7 69.2 139.8 72.5 139.9 72.0 140.0 67.9 140.1 69.5 140.2 74.1 140.3 67.3 140.4 75.2 140.5 75.4 140.6 68.7 140.7 69.7 140.8 67.7 140.9 67.4 141.1 67.5 141.2 68.6 141.3 67.1 141.4 70.6 141.5 73.2 141.6 68.1 141.7 68.5 141.8 71.6 141.9 73.3 142.0 72.0 142.1 66.5 142.2 72.6 142.3 73.7 142.4 66.0 142.5 72.4 142.6 71.8 142.7 68.6 142.9 71.3 143.0 67.4 143.1 73.5 143.2 71.0 143.3 72.3 143.4 74.2 143.5 74.7 143.6 76.1 143.7 67.5 143.8 75.4 143.9 73.2 144.0 68.2 144.1 68.3 144.2 68.0 144.3 67.7 144.4 73.3 144.5 72.3 144.7 73.7 144.8 68.2 144.9 73.8 145.0 74.4 145.1 74.4 145.2 72.2 145.3 72.5 145.4 68.1 145.5 67.4 145.6 72.2 145.7 73.0 145.8 73.0 145.9 65.9 146.0 67.9 146.1 72.4 146.2 66.6 146.3 72.7 146.5 73.0 146.6 72.0 146.7 67.8 146.8 67.6 146.9 67.0 147.0 67.2 147.1 68.2 147.2 67.9 147.3 67.7 147.4 73.6 147.5 72.7 147.6 66.8 147.7 74.3 147.8 66.8 147.9 67.5 148.0 68.7 148.2 71.6 148.3 68.3 148.4 71.8 148.5 73.6 148.6 67.3 148.7 66.9 148.8 67.7 148.9 74.2 149.0 68.2 149.1 67.8 149.2 72.7 149.3 67.3 149.4 72.5 149.5 67.8 149.6 67.4 149.7 67.4 149.8 72.4 150.0 71.5 150.1 73.5 150.2 72.5 150.3 71.2 150.4 66.4 150.5 73.2 150.6 67.8 150.7 68.0 150.8 72.6 150.9 66.8 151.0 72.5 151.1 73.0 151.2 67.9 151.3 68.6 151.4 67.1 151.5 72.6 151.7 73.3 151.8 69.7 151.9 72.0 152.0 68.2 152.1 68.3 152.2 69.3 152.3 68.4 152.4 68.2 152.5 67.8 152.6 68.7 152.7 68.6 152.8 67.4 152.9 68.4 153.0 71.9 153.1 74.1 153.2 74.5 153.3 70.9 153.5 68.2 153.6 73.9 153.7 74.8 153.8 69.4 153.9 67.0 154.0 67.4 154.1 67.3 154.2 70.1 154.3 74.8 154.4 67.7 154.5 68.0 154.6 68.0 154.7 66.3 154.8 69.3 154.9 67.5 155.0 73.5 155.1 71.3 155.3 71.9 155.4 67.5 155.5 65.4 155.6 73.8 155.7 68.1 155.8 68.5 155.9 66.0 156.0 66.0 156.1 74.3 156.2 65.4 156.3 66.7 156.4 68.6 156.5 73.3 156.6 69.7 156.7 73.9 156.8 74.4 156.9 68.6 157.1 69.3 157.2 69.2 157.3 74.4 157.4 68.7 157.5 73.6 157.6 68.4 157.7 73.9 157.8 73.1 157.9 72.8 158.0 67.2 158.1 73.9 158.2 72.6 158.3 70.0 158.4 74.2 158.5 67.3 158.6 66.6 158.8 72.1 158.9 69.1 159.0 73.6 159.1 67.0 159.2 67.4 159.3 73.8 159.4 68.5 159.5 69.5 159.6 67.4 159.7 67.8 159.8 69.0 159.9 68.5 160.0 72.6 160.1 69.2 160.2 72.0 160.3 71.5 160.4 69.3 160.6 68.3 160.7 69.0 160.8 68.0 160.9 71.9 161.0 74.6 161.1 69.4 161.2 -7.7 161.3 73.5 161.4 71.7 161.5 67.6 161.6 73.5 161.7 73.7 161.8 73.8 161.9 73.1 162.0 73.4 162.1 72.5 162.2 68.6 162.4 73.5 162.5 69.5 162.6 74.2 162.7 73.3 162.8 72.1 162.9 68.4 163.0 68.4 163.1 69.6 163.2 68.4 163.3 73.6 163.4 67.8 163.5 73.5 163.6 66.7 163.7 69.0 163.8 72.8 163.9 67.7 164.1 69.3 164.2 73.2 164.3 72.2 164.4 73.0 164.5 66.6 164.6 73.6 164.7 66.8 164.8 72.5 164.9 73.4 165.0 73.6 165.1 73.0 165.2 72.9 165.3 73.3 165.4 69.3 165.5 71.5 165.6 68.8 165.7 73.2 165.9 69.0 166.0 76.2 166.1 67.3 166.2 76.0 166.3 65.1 166.4 65.9 166.5 75.5 166.6 73.0 166.7 68.6 166.8 69.9 166.9 71.4 167.0 72.7 167.1 69.4 167.2 71.3 167.3 66.6 167.4 66.3 167.6 71.7 167.7 65.9 167.8 71.4 167.9 66.3 168.0 68.0 168.1 73.2 168.2 65.9 168.3 73.3 168.4 72.4 168.5 75.0 168.6 74.7 168.7 75.3 168.8 74.0 168.9 66.2 169.0 72.1 169.1 71.3 169.2 69.7 169.4 71.3 169.5 71.5 169.6 68.3 169.7 68.3 169.8 72.7 169.9 69.4 170.0 72.5 170.1 68.5 170.2 72.3 170.3 69.4 170.4 71.1 170.5 72.2 170.6 66.1 170.7 67.1 170.8 67.0 170.9 73.7 171.0 68.2 171.2 74.2 171.3 68.3 171.4 67.5 171.5 67.5 171.6 74.3 171.7 74.2 171.8 73.3 171.9 69.2 172.0 71.7 172.1 69.0 172.2 67.3 172.3 73.4 172.4 72.4 172.5 68.8 172.6 67.0 172.7 73.9 172.8 71.5 173.0 67.6 173.1 67.1 173.2 73.2 173.3 73.8 173.4 71.0 173.5 73.0 173.6 68.5 173.7 74.9 173.8 67.9 173.9 74.7 174.0 74.0 174.1 67.6 174.2 67.5 174.3 74.7 174.4 68.6 174.5 67.5 174.7 73.0 174.8 72.0 174.9 73.8 175.0 74.4 175.1 74.9 175.2 67.6 175.3 72.7 175.4 72.4 175.5 73.8 175.6 72.7 175.7 66.5 175.8 73.5 175.9 68.3 176.0 68.0 176.1 67.7 176.2 68.5 176.3 69.4 176.5 68.5 176.6 76.7 176.7 67.9 176.8 68.0 176.9 73.1 177.0 73.5 177.1 67.8 177.2 74.6 177.3 75.6 177.4 74.6 177.5 74.8 177.6 65.7 177.7 66.5 177.8 73.6 177.9 66.5 178.0 75.2 178.2 74.8 178.3 68.4 178.4 76.4 178.5 74.3 178.6 67.3 178.7 72.2 178.8 65.8 178.9 75.3 179.0 65.8 179.1 65.7 179.2 73.1 179.3 68.5 179.4 66.8 179.5 73.4 179.6 72.5 179.7 73.6 179.8 72.0 180.0 67.8 180.1 66.9 180.2 74.6 180.3 71.6 180.4 65.5 180.5 71.4 180.6 74.4 180.7 73.2 180.8 73.4 180.9 69.1 181.0 73.7 181.1 65.3 181.2 73.1 181.3 68.5 181.4 73.4 181.5 65.8 181.6 66.9 181.8 72.6 181.9 72.9 182.0 65.2 182.1 65.8 182.2 70.0 182.3 71.4 182.4 71.7 182.5 73.4 182.6 72.6 182.7 73.0 182.8 72.4 182.9 72.3 183.0 68.0 183.1 73.9 183.2 67.1 183.3 73.9 183.4 72.2 183.6 73.8 183.7 73.9 183.8 72.7 183.9 68.8 184.0 68.7 184.1 68.6 184.2 67.8 184.3 66.7 184.4 73.3 184.5 67.2 184.6 73.7 184.7 74.1 184.8 66.8 184.9 67.7 185.0 68.0 185.1 72.2 185.3 68.5 185.4 74.8 185.5 66.8 185.6 72.6 185.7 68.1 185.8 68.3 185.9 68.2 186.0 67.6 186.1 69.7 186.2 74.5 186.3 71.3 186.4 68.5 186.5 67.5 186.6 68.3 186.7 74.2 186.8 73.8 186.9 72.4 187.1 73.5 187.2 73.9 187.3 71.8 187.4 72.9 187.5 65.9 187.6 72.6 187.7 72.7 187.8 73.3 187.9 73.9 188.0 66.3 188.1 66.2 188.2 71.5 188.3 74.0 188.4 72.8 188.5 68.3 188.6 64.1 188.8 74.3 188.9 74.2 189.0 65.3 189.1 67.7 189.2 66.5 189.3 66.2 189.4 74.7 189.5 72.0 189.6 72.0 189.7 66.4 189.8 67.1 189.9 72.9 190.0 74.3 190.1 73.1 190.2 70.9 190.3 68.7 190.4 72.3 190.6 71.6 190.7 72.4 190.8 67.9 190.9 71.9 191.0 67.5 191.1 71.6 191.2 73.2 191.3 72.7 191.4 67.5 191.5 66.8 191.6 66.4 191.7 66.3 191.8 66.5 191.9 71.6 192.0 72.5 192.1 72.4 192.2 67.2 192.4 66.9 192.5 72.2 192.6 73.7 192.7 72.8 192.8 73.5 192.9 66.6 193.0 70.1 193.1 70.8 193.2 73.6 193.3 67.4 193.4 73.1 193.5 72.6 193.6 67.3 193.7 66.3 193.8 66.3 193.9 69.0 194.1 71.4 194.2 68.6 194.3 71.7 194.4 66.9 194.5 67.0 194.6 67.2 194.7 68.1 194.8 72.6 194.9 73.3 195.0 66.6 195.1 67.4 195.2 74.9 195.3 73.0 195.4 74.8 195.5 75.2 195.6 75.8 195.7 66.0 195.9 73.0 196.0 65.9 196.1 65.7 196.2 66.3 196.3 72.8 196.4 72.4 196.5 66.5 196.6 72.7 196.7 72.7 196.8 69.3 196.9 73.8 197.0 68.8 197.1 67.0 197.2 67.9 197.3 67.3 197.4 68.0 197.5 67.4 197.7 68.0 197.8 67.0 197.9 72.6 198.0 68.0 198.1 67.2 198.2 67.0 198.3 73.0 198.4 64.8 198.5 73.2 198.6 67.2 198.7 66.6 198.8 66.0 198.9 68.0 199.0 67.6 199.1 73.6 199.2 67.8 199.3 68.4 199.5 73.2 199.6 69.4 199.7 68.8 199.8 71.3 199.9 72.2 200.0 73.1 200.1 68.3 200.2 72.0 200.3 72.5 200.4 73.1 200.5 67.4 200.6 66.4 200.7 72.9 200.8 72.8 200.9 68.0 201.0 66.5 201.2 68.5 201.3 72.6 201.4 68.0 201.5 72.8 201.6 72.1 201.7 68.9 201.8 69.7 201.9 73.2 202.0 73.9 202.1 72.8 202.2 68.1 202.3 72.6 202.4 65.9 202.5 74.4 202.6 69.7 202.7 72.2 202.8 68.9 203.0 67.1 203.1 66.4 203.2 66.4 203.3 73.4 203.4 73.0 203.5 66.4 203.6 68.4 203.7 66.0 203.8 69.1 203.9 75.7 204.0 75.6 204.1 66.9 204.2 65.7 204.3 73.9 204.4 68.4 204.5 68.4 204.7 72.2 204.8 73.8 204.9 71.9 205.0 66.6 205.1 73.3 205.2 73.3 205.3 72.8 205.4 73.9 205.5 69.2 205.6 66.8 205.7 65.7 205.8 65.9 205.9 65.1 206.0 69.3 206.1 75.0 206.2 69.1 206.3 74.8 206.5 65.9 206.6 74.1 206.7 65.7 206.8 73.2 206.9 72.4 207.0 72.4 207.1 75.3 207.2 69.4 207.3 73.1 207.4 71.9 207.5 73.0 207.6 73.5 207.7 68.3 207.8 73.8 207.9 68.3 208.0 70.1 208.1 69.3 208.3 73.5 208.4 68.5 208.5 68.7 208.6 72.4 208.7 66.5 208.8 71.7 208.9 66.7 209.0 72.9 209.1 72.2 209.2 68.6 209.3 66.1 209.4 65.7 209.5 72.8 209.6 67.1 209.7 72.8 209.8 70.9 209.9 69.2 210.1 71.4 210.2 65.5 210.3 74.7 210.4 71.6 210.5 68.1 210.6 74.6 210.7 74.8 210.8 73.8 210.9 73.6 211.0 70.2 211.1 71.1 211.2 68.1 211.3 68.7 211.4 71.1 211.5 68.0 211.6 68.5 211.8 68.3 211.9 68.8 212.0 71.8 212.1 72.2 212.2 72.6 212.3 68.0 212.4 69.7 212.5 73.2 212.6 68.2 212.7 72.1 212.8 68.0 212.9 69.0 213.0 73.6 213.1 71.0 213.2 69.4 213.3 74.4 213.4 75.0 213.6 73.4 213.7 74.3 213.8 66.4 213.9 66.0 214.0 68.4 214.1 75.2 214.2 65.8 214.3 74.6 214.4 73.3 214.5 71.1 214.6 67.9 214.7 72.1 214.8 68.9 214.9 69.0 215.0 72.6 215.1 68.1 215.2 71.8 215.4 73.2 215.5 72.9 215.6 67.0 215.7 67.3 215.8 72.1 215.9 72.6 216.0 74.0 216.1 73.1 216.2 66.9 216.3 68.2 216.4 66.9 216.5 67.3 216.6 67.2 216.7 66.5 216.8 67.9 216.9 74.4 217.1 74.7 217.2 73.9 217.3 72.8 217.4 72.6 217.5 70.2 217.6 68.6 217.7 74.1 217.8 68.9 217.9 74.9 218.0 68.4 218.1 68.7 218.2 73.7 218.3 72.8 218.4 75.1 218.5 68.3 218.6 68.5 218.7 72.2 218.9 73.5 219.0 -7.7 219.1 73.7 219.2 68.3 219.3 67.9 219.4 68.8 219.5 68.1 219.6 73.5 219.7 67.6 219.8 73.2 219.9 74.1 220.0 73.1 220.1 73.1 220.2 71.3 220.3 68.1 220.4 74.6 220.6 66.8 220.7 73.6 220.8 66.7 220.9 68.3 221.0 67.6 221.1 67.0 221.2 67.7 221.3 67.8 221.4 68.3 221.5 74.4 221.6 71.3 221.7 74.3 221.8 74.4 221.9 67.6 222.0 68.1 222.1 68.7 222.2 67.1 222.4 74.6 222.5 67.1 222.6 67.1 222.7 71.2 222.8 69.2 222.9 69.1 223.0 68.3 223.1 68.7 223.2 72.6 223.3 71.2 223.4 67.5 223.5 66.6 223.6 68.2 223.7 66.5 223.8 67.7 223.9 71.3 224.0 73.3 224.2 73.3 224.3 70.3 224.4 72.7 224.5 69.7 224.6 72.9 224.7 75.3 224.8 67.5 224.9 72.4 225.0 66.9 225.1 66.6 225.2 66.6 225.3 73.1 225.4 74.4 225.5 66.9 225.6 73.1 225.7 74.8 225.8 75.4 226.0 73.6 226.1 75.3 226.2 72.6 226.3 72.3 226.4 72.6 226.5 72.4 226.6 73.2 226.7 66.4 226.8 64.8 226.9 64.6 227.0 71.2 227.1 72.6 227.2 66.1 227.3 66.8 227.4 72.4 227.5 73.9 227.7 71.5 227.8 67.5 227.9 66.5 228.0 72.2 228.1 72.5 228.2 73.9 228.3 69.0 228.4 74.3 228.5 72.4 228.6 69.1 228.7 73.2 228.8 69.2 228.9 72.0 229.0 67.5 229.1 68.3 229.2 71.6 229.3 66.8 229.5 73.1 229.6 67.4 229.7 72.1 229.8 68.8 229.9 72.5 230.0 67.8 230.1 73.3 230.2 73.3 230.3 72.5 230.4 73.4 230.5 67.5 230.6 67.9 230.7 67.8 230.8 72.4 230.9 71.7 231.0 74.0 231.2 72.5 231.3 71.9 231.4 73.1 231.5 67.3 231.6 73.2 231.7 74.2 231.8 72.8 231.9 73.3 232.0 68.2 232.1 66.8 232.2 72.4 232.3 67.8 232.4 68.7 232.5 69.1 232.6 72.7 232.7 67.9 232.8 73.1 233.0 68.4 233.1 68.2 233.2 71.7 233.3 67.6 233.4 72.8 233.5 68.9 233.6 73.0 233.7 67.9 233.8 74.1 233.9 68.2 234.0 68.3 234.1 73.2 234.2 73.2 234.3 66.8 234.4 69.2 234.5 66.4 234.6 68.9 234.8 69.6 234.9 67.9 235.0 71.7 235.1 68.5 235.2 69.2 235.3 69.0 235.4 71.8 235.5 72.0 235.6 73.0 235.7 67.7 235.8 72.9 235.9 67.2 236.0 67.9 236.1 71.2 236.2 72.8 236.3 67.8 236.4 67.8 236.6 71.6 236.7 72.2 236.8 72.1 236.9 67.2 237.0 67.0 237.1 72.4 237.2 72.3 237.3 67.3 237.4 73.2 237.5 73.3 237.6 67.8 237.7 73.1 237.8 68.8 237.9 68.6 238.0 68.4 238.1 67.2 238.3 68.3 238.4 71.8 238.5 67.4 238.6 71.8 238.7 73.4 238.8 64.6 238.9 73.6 239.0 73.2 239.1 66.2 239.2 67.8 239.3 65.8 239.4 71.7 239.5 65.3 239.6 68.9 239.7 72.8 239.8 73.0 239.9 72.8 240.1 67.3 240.2 66.9 240.3 66.8 240.4 72.1 240.5 73.2 240.6 67.0 240.7 73.5 240.8 68.9 240.9 73.6 241.0 66.8 241.1 66.3 241.2 72.1 241.3 71.3 241.4 73.7 241.5 72.9 241.6 67.3 241.8 64.8 241.9 68.6 242.0 64.3 242.1 71.8 242.2 64.7 242.3 64.5 242.4 64.5 242.5 67.0 242.6 72.8 242.7 70.3 242.8 69.0 242.9 67.0 243.0 68.5 243.1 68.2 243.2 75.2 243.3 66.5 243.4 66.7 243.6 72.4 243.7 75.2 243.8 67.0 243.9 67.8 244.0 66.9 244.1 66.4 244.2 66.9 244.3 72.1 244.4 67.8 244.5 74.5 244.6 68.8 244.7 67.9 244.8 67.5 244.9 66.8 245.0 67.7 245.1 67.0 245.2 70.1 245.4 73.3 245.5 66.4 245.6 67.7 245.7 73.4 245.8 72.2 245.9 73.1 246.0 71.8 246.1 73.6 246.2 68.3 246.3 72.2 246.4 74.4 246.5 70.9 246.6 69.2 246.7 65.7 246.8 67.7 246.9 68.1 247.1 75.1 247.2 69.6 247.3 68.6 247.4 68.1 247.5 74.5 247.6 74.7 247.7 74.5 247.8 68.0 247.9 67.7 248.0 72.9 248.1 68.2 248.2 68.8 248.3 67.5 248.4 67.7 248.5 67.6 248.6 73.8 248.7 71.7 248.9 74.9 249.0 73.1 249.1 66.1 249.2 74.2 249.3 65.8 249.4 74.0 249.5 65.7 249.6 72.9 249.7 73.7 249.8 72.7 249.9 72.1 250.0 68.1 250.1 67.1 250.2 66.4 250.3 72.8 250.4 73.9 250.5 66.3 250.7 68.7 250.8 74.6 250.9 66.4 251.0 71.6 251.1 66.6 251.2 68.5 251.3 68.8 251.4 68.0 251.5 70.7 251.6 67.9 251.7 75.6 251.8 68.8 251.9 75.0 252.0 69.9 252.1 72.8 252.2 68.1 252.3 69.4 252.5 69.3 252.6 67.6 252.7 73.6 252.8 68.6 252.9 68.7 253.0 71.7 253.1 67.8 253.2 67.1 253.3 74.7 253.4 73.7 253.5 69.4 253.6 67.1 253.7 68.0 253.8 72.8 253.9 67.8 254.0 73.6 254.2 68.2 254.3 67.3 254.4 69.3 254.5 67.8 254.6 68.4 254.7 68.6 254.8 67.1 254.9 67.3 255.0 73.7"/>
</g></g>
<path d="M43.00 129.70v-2.30M43.00 15.00v2.30M96.00 129.70v-2.30M96.00 15.00v2.30M149.00 129.70v-2.30M149.00 15.00v2.30M202.00 129.70v-2.30M202.00 15.00v2.30M255.00 129.70v-2.30M255.00 15.00v2.30M43.00 129.70h2.30M255.00 129.70h-2.30M43.00 101.02h2.30M255.00 101.02h-2.30M43.00 72.35h2.30M255.00 72.35h-2.30M43.00 43.67h2.30M255.00 43.67h-2.30M43.00 15.00h2.30M255.00 15.00h-2.30" stroke="#3a3a3a" stroke-width="1.0" fill="none"/>
<rect x="43.00" y="15.00" width="212.00" height="114.70" fill="none" stroke="#3a3a3a" stroke-width="1.2"/>
<g fill="#2a2a2a" stroke="#2a2a2a"><text transform="translate(43.00 142.20) scale(1.000 1)" text-anchor="middle" font-size="9.65">0</text><text transform="translate(96.00 142.20) scale(1.000 1)" text-anchor="middle" font-size="9.65">500</text><text transform="translate(149.00 142.20) scale(1.000 1)" text-anchor="middle" font-size="9.65">1000</text><text transform="translate(202.00 142.20) scale(1.000 1)" text-anchor="middle" font-size="9.65">1500</text><text transform="translate(255.00 142.20) scale(1.000 1)" text-anchor="middle" font-size="9.65">2000</text><text transform="translate(40.20 132.40) scale(1.000 1)" text-anchor="end" font-size="9.65">-0.04</text><text transform="translate(40.20 103.72) scale(1.000 1)" text-anchor="end" font-size="9.65">-0.02</text><text transform="translate(40.20 75.05) scale(1.000 1)" text-anchor="end" font-size="9.65">0</text><text transform="translate(40.20 46.38) scale(1.000 1)" text-anchor="end" font-size="9.65">0.02</text><text transform="translate(40.20 17.70) scale(1.000 1)" text-anchor="end" font-size="9.65">0.04</text></g>
<text transform="translate(149.00 153.70) scale(1.060 1)" text-anchor="middle" font-size="9.30" fill="#2a2a2a" stroke="#2a2a2a">Frame number</text>
<text transform="translate(13.70 72.65) rotate(-90) scale(1.060 1)" text-anchor="middle" font-size="9.30" fill="#2a2a2a" stroke="#2a2a2a">Interframe Disp. [mm]</text>
<text transform="translate(149.00 13.00) scale(0.915 1)" text-anchor="middle" font-size="10.50" font-weight="bold" fill="#000" stroke="#000" style="stroke-width:0.15px">Square</text>
<rect x="188.20" y="102.00" width="63.80" height="24.90" fill="#fff" stroke="#3a3a3a" stroke-width="1.2"/><line x1="190.00" y1="108.60" x2="201.40" y2="108.60" stroke="#2e8ad0" stroke-width="1.3"/><line x1="190.00" y1="120.60" x2="201.40" y2="120.60" stroke="#d23a5a" stroke-width="1.3"/><text transform="translate(202.20 111.60) scale(1.100 1)" font-size="9.00" fill="#2a2a2a" stroke="#2a2a2a">DSM</text><text transform="translate(202.20 123.30) scale(1.100 1)" font-size="9.00" fill="#2a2a2a" stroke="#2a2a2a">Correlation</text>
<line x1="375.15" y1="15.00" x2="375.15" y2="129.70" stroke="#d9d9d9" stroke-width="1.0"/><line x1="428.10" y1="15.00" x2="428.10" y2="129.70" stroke="#d9d9d9" stroke-width="1.0"/><line x1="481.05" y1="15.00" x2="481.05" y2="129.70" stroke="#d9d9d9" stroke-width="1.0"/><line x1="322.20" y1="101.02" x2="534.00" y2="101.02" stroke="#d9d9d9" stroke-width="1.0"/><line x1="322.20" y1="72.35" x2="534.00" y2="72.35" stroke="#d9d9d9" stroke-width="1.0"/><line x1="322.20" y1="43.67" x2="534.00" y2="43.67" stroke="#d9d9d9" stroke-width="1.0"/>
<g clip-path="url(#cS2)"><g fill="none" stroke-width="1.0" stroke-linejoin="round">
<path stroke="#0873c6" d="M322.2 67.5L322.3 72.5 322.4 72.1 322.5 69.3 322.6 73.5 322.7 73.0 322.8 66.7 322.9 72.1 323.0 72.2 323.2 67.7 323.3 66.6 323.4 67.8 323.5 73.6 323.6 72.6 323.7 66.5 323.8 72.0 323.9 67.1 324.0 66.4 324.1 72.6 324.2 71.8 324.3 66.7 324.4 72.9 324.5 66.5 324.6 66.8 324.7 72.3 324.8 68.2 325.0 67.5 325.1 67.8 325.2 76.4 325.3 72.9 325.4 69.1 325.5 66.5 325.6 68.0 325.7 73.2 325.8 65.9 325.9 65.7 326.0 74.4 326.1 68.4 326.2 74.9 326.3 65.8 326.4 65.1 326.5 74.3 326.6 72.6 326.8 65.5 326.9 64.9 327.0 73.6 327.1 72.9 327.2 65.8 327.3 74.0 327.4 73.7 327.5 72.0 327.6 67.2 327.7 67.2 327.8 72.6 327.9 71.4 328.0 73.1 328.1 67.0 328.2 71.6 328.3 73.3 328.4 73.5 328.6 72.9 328.7 74.5 328.8 68.1 328.9 74.9 329.0 67.1 329.1 67.8 329.2 66.8 329.3 69.0 329.4 74.0 329.5 67.3 329.6 67.0 329.7 67.3 329.8 73.9 329.9 67.3 330.0 74.9 330.1 66.4 330.2 67.3 330.4 65.1 330.5 68.8 330.6 67.0 330.7 74.4 330.8 76.2 330.9 78.1 331.0 65.9 331.1 68.6 331.2 69.2 331.3 67.2 331.4 75.1 331.5 69.0 331.6 71.5 331.7 68.8 331.8 66.6 331.9 67.3 332.0 74.9 332.2 67.6 332.3 67.0 332.4 75.6 332.5 67.9 332.6 76.0 332.7 69.1 332.8 74.9 332.9 75.6 333.0 74.0 333.1 66.0 333.2 68.3 333.3 65.8 333.4 67.3 333.5 67.3 333.6 64.8 333.7 65.5 333.8 72.7 334.0 66.8 334.1 65.4 334.2 72.4 334.3 65.0 334.4 65.9 334.5 66.5 334.6 74.9 334.7 74.8 334.8 76.4 334.9 76.8 335.0 76.6 335.1 66.5 335.2 70.7 335.3 74.7 335.4 68.3 335.5 75.0 335.6 73.7 335.8 74.4 335.9 70.2 336.0 73.4 336.1 66.5 336.2 66.4 336.3 75.2 336.4 73.1 336.5 68.6 336.6 66.2 336.7 74.3 336.8 68.2 336.9 65.8 337.0 73.9 337.1 70.8 337.2 69.9 337.3 73.6 337.4 72.5 337.6 69.1 337.7 71.9 337.8 74.4 337.9 73.3 338.0 66.8 338.1 68.3 338.2 71.7 338.3 66.3 338.4 69.8 338.5 68.5 338.6 67.6 338.7 74.9 338.8 67.8 338.9 71.3 339.0 72.6 339.1 66.4 339.2 66.9 339.4 72.9 339.5 74.7 339.6 68.5 339.7 67.0 339.8 73.7 339.9 67.7 340.0 73.3 340.1 74.0 340.2 74.2 340.3 68.3 340.4 66.7 340.5 67.1 340.6 67.6 340.7 67.9 340.8 69.6 340.9 68.0 341.1 68.1 341.2 68.5 341.3 71.4 341.4 73.4 341.5 73.3 341.6 74.0 341.7 73.6 341.8 71.8 341.9 66.7 342.0 74.4 342.1 73.3 342.2 74.5 342.3 73.7 342.4 72.4 342.5 71.6 342.6 74.6 342.7 74.0 342.9 74.1 343.0 74.2 343.1 68.7 343.2 68.9 343.3 68.4 343.4 69.1 343.5 68.3 343.6 68.9 343.7 70.9 343.8 71.7 343.9 74.1 344.0 73.3 344.1 73.7 344.2 68.6 344.3 67.3 344.4 65.9 344.5 72.2 344.7 73.2 344.8 70.9 344.9 72.9 345.0 72.1 345.1 68.5 345.2 73.8 345.3 67.3 345.4 72.0 345.5 73.2 345.6 73.2 345.7 67.5 345.8 74.8 345.9 65.4 346.0 72.4 346.1 72.7 346.2 72.0 346.3 66.7 346.5 68.0 346.6 65.4 346.7 76.3 346.8 75.7 346.9 74.1 347.0 74.6 347.1 73.2 347.2 76.3 347.3 76.0 347.4 74.5 347.5 72.5 347.6 75.6 347.7 76.4 347.8 64.4 347.9 74.3 348.0 65.4 348.1 75.2 348.3 74.7 348.4 63.6 348.5 73.0 348.6 62.6 348.7 64.6 348.8 62.7 348.9 69.3 349.0 74.1 349.1 74.0 349.2 75.0 349.3 62.9 349.4 74.3 349.5 73.3 349.6 68.0 349.7 69.0 349.8 67.9 349.9 73.7 350.1 68.7 350.2 74.2 350.3 74.0 350.4 72.2 350.5 67.5 350.6 72.9 350.7 66.3 350.8 74.5 350.9 67.2 351.0 74.5 351.1 66.0 351.2 71.3 351.3 67.3 351.4 66.7 351.5 66.0 351.6 74.2 351.7 66.0 351.9 67.3 352.0 74.0 352.1 68.6 352.2 73.2 352.3 72.8 352.4 75.5 352.5 75.0 352.6 65.0 352.7 73.5 352.8 65.5 352.9 72.8 353.0 66.2 353.1 74.5 353.2 67.0 353.3 76.9 353.4 68.3 353.5 66.6 353.7 75.6 353.8 74.2 353.9 76.9 354.0 68.4 354.1 73.4 354.2 73.3 354.3 74.7 354.4 68.9 354.5 66.3 354.6 67.8 354.7 68.5 354.8 72.7 354.9 74.5 355.0 74.1 355.1 73.6 355.2 66.3 355.3 74.6 355.5 69.3 355.6 73.5 355.7 65.8 355.8 76.7 355.9 66.1 356.0 66.1 356.1 76.4 356.2 76.4 356.3 67.3 356.4 74.1 356.5 67.4 356.6 76.8 356.7 72.5 356.8 67.9 356.9 74.0 357.0 67.6 357.1 75.7 357.3 72.6 357.4 67.8 357.5 69.5 357.6 70.4 357.7 69.8 357.8 73.5 357.9 67.7 358.0 63.8 358.1 65.7 358.2 71.9 358.3 73.4 358.4 72.7 358.5 72.0 358.6 66.8 358.7 67.9 358.8 74.3 358.9 67.4 359.1 74.5 359.2 68.8 359.3 74.4 359.4 66.9 359.5 69.7 359.6 73.4 359.7 74.6 359.8 70.0 359.9 68.7 360.0 65.8 360.1 75.2 360.2 67.4 360.3 65.6 360.4 73.3 360.5 76.2 360.6 75.5 360.7 75.3 360.9 76.7 361.0 65.7 361.1 65.5 361.2 74.6 361.3 67.5 361.4 72.6 361.5 71.3 361.6 74.0 361.7 65.3 361.8 67.6 361.9 71.4 362.0 65.8 362.1 66.4 362.2 68.4 362.3 68.6 362.4 68.6 362.5 67.7 362.7 70.2 362.8 68.9 362.9 68.1 363.0 68.2 363.1 73.0 363.2 68.1 363.3 68.0 363.4 67.9 363.5 72.8 363.6 75.4 363.7 69.5 363.8 74.2 363.9 66.4 364.0 74.5 364.1 63.4 364.2 63.4 364.3 65.6 364.5 64.6 364.6 75.0 364.7 72.3 364.8 71.6 364.9 66.9 365.0 67.0 365.1 73.6 365.2 69.7 365.3 72.4 365.4 66.4 365.5 65.3 365.6 71.8 365.7 72.6 365.8 65.4 365.9 71.9 366.0 66.4 366.1 66.4 366.3 64.9 366.4 74.0 366.5 75.2 366.6 65.9 366.7 67.8 366.8 65.8 366.9 75.1 367.0 67.0 367.1 74.4 367.2 72.1 367.3 72.8 367.4 67.9 367.5 66.4 367.6 74.2 367.7 68.2 367.8 67.8 367.9 67.7 368.1 66.4 368.2 66.4 368.3 75.4 368.4 66.6 368.5 69.5 368.6 73.6 368.7 65.3 368.8 66.6 368.9 75.3 369.0 65.1 369.1 65.9 369.2 65.6 369.3 77.8 369.4 65.6 369.5 75.9 369.6 66.2 369.7 70.0 369.9 75.0 370.0 73.8 370.1 67.5 370.2 67.6 370.3 72.4 370.4 72.4 370.5 72.5 370.6 65.8 370.7 68.9 370.8 74.7 370.9 75.7 371.0 74.9 371.1 67.9 371.2 73.6 371.3 75.5 371.4 74.0 371.5 69.4 371.7 75.6 371.8 67.9 371.9 68.3 372.0 69.1 372.1 74.8 372.2 68.9 372.3 77.6 372.4 70.0 372.5 69.9 372.6 77.1 372.7 67.4 372.8 74.5 372.9 72.6 373.0 66.7 373.1 66.6 373.2 69.7 373.3 74.5 373.5 70.6 373.6 64.6 373.7 71.3 373.8 67.2 373.9 67.4 374.0 72.2 374.1 72.1 374.2 68.1 374.3 72.8 374.4 74.1 374.5 72.5 374.6 71.2 374.7 68.7 374.8 69.7 374.9 73.6 375.0 66.4 375.1 68.3 375.3 75.3 375.4 75.1 375.5 73.0 375.6 72.8 375.7 68.4 375.8 72.9 375.9 66.3 376.0 66.8 376.1 75.6 376.2 74.7 376.3 66.2 376.4 66.1 376.5 67.0 376.6 69.8 376.7 67.1 376.8 68.0 377.0 75.0 377.1 65.6 377.2 71.9 377.3 75.3 377.4 74.6 377.5 73.6 377.6 69.6 377.7 75.1 377.8 72.5 377.9 67.3 378.0 71.9 378.1 73.6 378.2 75.3 378.3 74.7 378.4 68.9 378.5 68.2 378.6 74.7 378.8 68.2 378.9 67.9 379.0 75.1 379.1 68.5 379.2 69.6 379.3 65.7 379.4 74.0 379.5 68.2 379.6 72.8 379.7 68.2 379.8 74.0 379.9 72.5 380.0 72.7 380.1 73.2 380.2 69.2 380.3 69.4 380.4 66.3 380.6 72.7 380.7 67.2 380.8 72.8 380.9 71.7 381.0 66.9 381.1 67.1 381.2 68.0 381.3 74.5 381.4 67.4 381.5 72.0 381.6 71.7 381.7 74.5 381.8 71.5 381.9 67.8 382.0 72.7 382.1 67.0 382.2 72.0 382.4 73.7 382.5 66.0 382.6 66.3 382.7 73.5 382.8 72.9 382.9 73.0 383.0 73.1 383.1 69.4 383.2 72.7 383.3 66.1 383.4 66.7 383.5 76.0 383.6 76.9 383.7 66.9 383.8 67.4 383.9 76.0 384.0 69.2 384.2 76.4 384.3 73.2 384.4 76.7 384.5 73.0 384.6 73.6 384.7 68.4 384.8 65.8 384.9 66.4 385.0 72.9 385.1 73.2 385.2 65.5 385.3 69.0 385.4 72.1 385.5 65.5 385.6 72.4 385.7 74.3 385.8 72.3 386.0 67.2 386.1 68.0 386.2 66.6 386.3 66.9 386.4 65.2 386.5 70.6 386.6 74.3 386.7 66.8 386.8 66.7 386.9 67.3 387.0 72.0 387.1 68.6 387.2 67.1 387.3 69.7 387.4 68.1 387.5 67.7 387.6 66.5 387.8 68.6 387.9 75.6 388.0 74.8 388.1 70.9 388.2 72.9 388.3 66.6 388.4 72.5 388.5 75.2 388.6 72.7 388.7 64.5 388.8 68.5 388.9 63.9 389.0 73.3 389.1 74.0 389.2 69.0 389.3 68.0 389.4 66.1 389.6 75.0 389.7 65.8 389.8 75.2 389.9 73.7 390.0 66.0 390.1 72.7 390.2 73.5 390.3 74.4 390.4 67.4 390.5 67.7 390.6 71.6 390.7 68.1 390.8 66.7 390.9 67.3 391.0 74.2 391.1 66.9 391.2 67.5 391.4 67.2 391.5 65.1 391.6 73.5 391.7 65.0 391.8 66.4 391.9 68.7 392.0 68.3 392.1 74.7 392.2 69.4 392.3 67.7 392.4 68.9 392.5 68.7 392.6 68.8 392.7 73.3 392.8 72.1 392.9 69.8 393.0 68.4 393.2 72.5 393.3 73.7 393.4 69.0 393.5 74.2 393.6 65.1 393.7 73.6 393.8 74.5 393.9 68.3 394.0 72.2 394.1 66.5 394.2 73.6 394.3 71.7 394.4 72.7 394.5 67.0 394.6 72.8 394.7 73.3 394.8 67.3 395.0 73.6 395.1 66.0 395.2 73.1 395.3 65.8 395.4 74.9 395.5 74.1 395.6 72.4 395.7 67.1 395.8 72.1 395.9 73.3 396.0 66.8 396.1 69.3 396.2 74.6 396.3 71.7 396.4 75.6 396.5 66.2 396.6 76.3 396.8 66.0 396.9 75.0 397.0 66.0 397.1 74.0 397.2 68.3 397.3 66.7 397.4 67.4 397.5 76.3 397.6 66.8 397.7 67.1 397.8 76.1 397.9 67.1 398.0 71.1 398.1 66.2 398.2 67.6 398.3 68.6 398.4 72.9 398.6 65.5 398.7 67.8 398.8 73.9 398.9 73.2 399.0 72.7 399.1 67.2 399.2 66.7 399.3 72.5 399.4 74.3 399.5 73.7 399.6 66.9 399.7 73.5 399.8 67.7 399.9 68.1 400.0 67.1 400.1 72.7 400.2 66.6 400.4 67.2 400.5 74.2 400.6 71.7 400.7 67.1 400.8 69.0 400.9 72.3 401.0 66.6 401.1 74.4 401.2 73.4 401.3 72.7 401.4 66.4 401.5 72.8 401.6 65.7 401.7 71.9 401.8 65.6 401.9 73.2 402.0 75.8 402.2 65.5 402.3 73.8 402.4 75.0 402.5 74.7 402.6 65.7 402.7 66.3 402.8 68.0 402.9 74.7 403.0 72.6 403.1 66.9 403.2 69.0 403.3 72.9 403.4 73.2 403.5 69.0 403.6 72.1 403.7 68.1 403.8 71.4 404.0 66.6 404.1 73.2 404.2 72.7 404.3 72.4 404.4 73.0 404.5 75.4 404.6 74.8 404.7 73.3 404.8 67.0 404.9 65.9 405.0 74.8 405.1 66.0 405.2 71.6 405.3 72.4 405.4 66.6 405.5 70.9 405.6 72.1 405.8 73.8 405.9 68.1 406.0 73.6 406.1 74.3 406.2 68.0 406.3 75.0 406.4 67.0 406.5 75.0 406.6 71.1 406.7 72.4 406.8 73.0 406.9 74.0 407.0 69.1 407.1 67.3 407.2 66.8 407.3 73.5 407.4 74.2 407.6 67.1 407.7 66.9 407.8 67.2 407.9 68.4 408.0 67.1 408.1 72.1 408.2 72.5 408.3 72.4 408.4 67.6 408.5 72.4 408.6 70.8 408.7 69.9 408.8 68.2 408.9 70.2 409.0 68.8 409.1 73.7 409.2 74.8 409.4 74.7 409.5 68.9 409.6 74.9 409.7 73.9 409.8 78.0 409.9 70.0 410.0 68.2 410.1 68.5 410.2 68.7 410.3 67.7 410.4 68.5 410.5 68.9 410.6 69.1 410.7 69.4 410.8 75.2 410.9 75.1 411.1 74.4 411.2 75.4 411.3 67.2 411.4 67.3 411.5 73.5 411.6 72.8 411.7 67.2 411.8 74.9 411.9 67.5 412.0 69.3 412.1 67.4 412.2 73.1 412.3 69.7 412.4 73.0 412.5 73.9 412.6 67.4 412.7 74.7 412.9 65.5 413.0 63.1 413.1 64.0 413.2 74.8 413.3 66.2 413.4 76.3 413.5 67.8 413.6 73.2 413.7 74.2 413.8 65.3 413.9 63.3 414.0 73.9 414.1 72.0 414.2 70.1 414.3 66.0 414.4 71.9 414.5 66.6 414.7 67.5 414.8 76.1 414.9 68.3 415.0 68.4 415.1 67.0 415.2 73.2 415.3 68.5 415.4 68.6 415.5 66.8 415.6 65.2 415.7 72.4 415.8 74.9 415.9 73.5 416.0 67.8 416.1 67.9 416.2 67.8 416.3 73.1 416.5 68.8 416.6 67.7 416.7 74.8 416.8 72.5 416.9 68.4 417.0 73.0 417.1 77.6 417.2 76.0 417.3 72.0 417.4 66.9 417.5 66.2 417.6 75.9 417.7 68.5 417.8 78.1 417.9 66.0 418.0 69.1 418.1 66.3 418.3 67.7 418.4 78.3 418.5 66.8 418.6 66.2 418.7 75.5 418.8 70.2 418.9 69.0 419.0 65.2 419.1 75.2 419.2 75.3 419.3 72.0 419.4 67.1 419.5 68.3 419.6 74.6 419.7 74.0 419.8 73.9 419.9 67.6 420.1 67.2 420.2 66.1 420.3 71.0 420.4 65.7 420.5 66.4 420.6 74.3 420.7 65.7 420.8 73.1 420.9 65.7 421.0 74.4 421.1 73.9 421.2 72.4 421.3 67.7 421.4 74.1 421.5 73.5 421.6 75.2 421.7 67.2 421.9 76.0 422.0 67.9 422.1 68.2 422.2 76.1 422.3 75.0 422.4 74.8 422.5 72.4 422.6 66.5 422.7 67.7 422.8 64.7 422.9 65.7 423.0 65.9 423.1 76.1 423.2 71.3 423.3 71.3 423.4 71.9 423.5 73.4 423.7 72.1 423.8 66.9 423.9 66.9 424.0 69.7 424.1 67.8 424.2 73.2 424.3 67.6 424.4 67.3 424.5 67.6 424.6 71.9 424.7 72.4 424.8 72.6 424.9 72.0 425.0 73.2 425.1 73.3 425.2 71.8 425.3 66.0 425.5 67.0 425.6 66.8 425.7 66.5 425.8 73.8 425.9 75.4 426.0 75.1 426.1 74.3 426.2 72.0 426.3 66.4 426.4 73.3 426.5 68.4 426.6 73.4 426.7 73.0 426.8 73.8 426.9 66.4 427.0 74.1 427.1 66.2 427.3 74.2 427.4 68.2 427.5 66.5 427.6 75.2 427.7 74.6 427.8 72.5 427.9 67.6 428.0 66.7 428.1 75.3 428.2 66.7 428.3 74.7 428.4 69.3 428.5 74.0 428.6 75.3 428.7 64.6 428.8 74.5 428.9 74.4 429.1 75.0 429.2 72.8 429.3 71.1 429.4 70.1 429.5 75.2 429.6 65.5 429.7 65.9 429.8 73.3 429.9 65.1 430.0 68.6 430.1 75.1 430.2 68.5 430.3 68.4 430.4 71.5 430.5 75.4 430.6 73.6 430.7 72.5 430.9 74.8 431.0 71.8 431.1 69.9 431.2 68.5 431.3 74.0 431.4 72.8 431.5 67.7 431.6 75.4 431.7 75.9 431.8 75.4 431.9 75.3 432.0 72.4 432.1 74.5 432.2 66.2 432.3 71.8 432.4 73.8 432.5 66.9 432.7 75.1 432.8 75.7 432.9 74.2 433.0 67.8 433.1 73.9 433.2 69.7 433.3 76.9 433.4 75.2 433.5 72.9 433.6 74.6 433.7 69.0 433.8 68.1 433.9 75.1 434.0 71.2 434.1 69.3 434.2 76.4 434.3 67.6 434.5 76.2 434.6 66.5 434.7 75.5 434.8 67.4 434.9 69.3 435.0 68.0 435.1 66.6 435.2 66.7 435.3 77.2 435.4 66.3 435.5 75.2 435.6 64.8 435.7 74.6 435.8 74.7 435.9 64.3 436.0 68.0 436.1 73.4 436.3 66.7 436.4 73.2 436.5 74.4 436.6 72.7 436.7 75.1 436.8 72.6 436.9 66.2 437.0 71.8 437.1 63.8 437.2 64.2 437.3 71.9 437.4 75.0 437.5 68.9 437.6 72.6 437.7 65.1 437.8 73.6 437.9 68.3 438.1 71.0 438.2 73.6 438.3 73.2 438.4 71.7 438.5 67.0 438.6 73.8 438.7 67.8 438.8 68.7 438.9 70.9 439.0 67.6 439.1 75.1 439.2 75.2 439.3 73.1 439.4 65.8 439.5 73.1 439.6 65.8 439.7 72.3 439.9 68.0 440.0 71.6 440.1 73.0 440.2 72.1 440.3 67.1 440.4 73.6 440.5 67.2 440.6 67.2 440.7 69.0 440.8 72.4 440.9 73.5 441.0 69.6 441.1 73.4 441.2 71.6 441.3 72.7 441.4 71.6 441.5 68.5 441.7 74.3 441.8 74.4 441.9 74.9 442.0 73.9 442.1 72.4 442.2 64.9 442.3 74.9 442.4 73.4 442.5 64.7 442.6 64.0 442.7 67.3 442.8 65.5 442.9 68.6 443.0 74.6 443.1 67.8 443.2 74.2 443.3 64.5 443.5 72.1 443.6 73.8 443.7 68.0 443.8 73.1 443.9 74.6 444.0 75.6 444.1 74.4 444.2 63.8 444.3 67.1 444.4 71.9 444.5 65.6 444.6 74.1 444.7 72.3 444.8 68.9 444.9 72.5 445.0 68.8 445.1 67.4 445.3 71.0 445.4 74.1 445.5 73.2 445.6 74.3 445.7 74.2 445.8 73.4 445.9 66.6 446.0 68.0 446.1 75.3 446.2 67.8 446.3 75.8 446.4 69.8 446.5 73.4 446.6 74.9 446.7 69.4 446.8 73.1 447.0 65.3 447.1 75.1 447.2 74.9 447.3 71.2 447.4 72.8 447.5 73.8 447.6 62.6 447.7 63.5 447.8 66.0 447.9 72.6 448.0 67.6 448.1 72.5 448.2 68.0 448.3 67.4 448.4 74.2 448.5 69.0 448.6 74.4 448.8 67.2 448.9 66.7 449.0 73.6 449.1 68.4 449.2 73.0 449.3 67.6 449.4 67.2 449.5 72.5 449.6 75.9 449.7 73.2 449.8 72.9 449.9 71.8 450.0 68.1 450.1 68.8 450.2 74.8 450.3 67.8 450.4 71.3 450.6 70.0 450.7 67.9 450.8 70.1 450.9 73.2 451.0 72.3 451.1 72.9 451.2 73.0 451.3 72.6 451.4 72.7 451.5 71.2 451.6 72.6 451.7 73.3 451.8 67.2 451.9 66.7 452.0 71.3 452.1 66.3 452.2 70.7 452.4 72.0 452.5 65.0 452.6 71.0 452.7 68.3 452.8 72.4 452.9 73.0 453.0 72.7 453.1 71.5 453.2 65.5 453.3 69.2 453.4 76.2 453.5 69.1 453.6 74.5 453.7 76.0 453.8 68.1 453.9 69.1 454.0 71.4 454.2 76.4 454.3 78.1 454.4 76.4 454.5 66.4 454.6 78.1 454.7 74.6 454.8 73.1 454.9 73.9 455.0 72.2 455.1 73.5 455.2 74.6 455.3 68.2 455.4 67.6 455.5 73.7 455.6 72.8 455.7 67.8 455.8 73.2 456.0 71.3 456.1 72.4 456.2 67.9 456.3 69.2 456.4 67.9 456.5 72.9 456.6 67.4 456.7 65.7 456.8 67.6 456.9 68.7 457.0 73.0 457.1 72.6 457.2 67.5 457.3 75.9 457.4 74.6 457.5 70.1 457.6 68.0 457.8 68.6 457.9 73.7 458.0 69.4 458.1 66.8 458.2 68.2 458.3 73.4 458.4 69.0 458.5 67.2 458.6 65.5 458.7 66.8 458.8 74.4 458.9 64.6 459.0 72.0 459.1 65.8 459.2 73.1 459.3 72.1 459.4 65.0 459.6 65.0 459.7 71.3 459.8 68.1 459.9 71.7 460.0 65.9 460.1 64.9 460.2 71.7 460.3 73.0 460.4 66.9 460.5 69.1 460.6 71.2 460.7 68.2 460.8 68.5 460.9 70.8 461.0 74.8 461.1 66.8 461.2 66.8 461.4 68.5 461.5 74.6 461.6 74.8 461.7 74.8 461.8 68.5 461.9 74.0 462.0 75.2 462.1 67.0 462.2 67.3 462.3 69.7 462.4 67.6 462.5 69.1 462.6 67.9 462.7 67.4 462.8 72.0 462.9 68.3 463.0 68.1 463.2 73.5 463.3 67.2 463.4 71.9 463.5 73.3 463.6 74.0 463.7 68.8 463.8 72.9 463.9 67.8 464.0 67.5 464.1 68.0 464.2 74.4 464.3 71.5 464.4 71.4 464.5 67.8 464.6 67.8 464.7 66.6 464.8 66.7 465.0 75.0 465.1 74.4 465.2 67.3 465.3 73.8 465.4 71.2 465.5 72.7 465.6 67.9 465.7 73.9 465.8 68.8 465.9 66.5 466.0 74.5 466.1 67.3 466.2 66.0 466.3 74.6 466.4 65.7 466.5 71.9 466.6 72.1 466.8 65.2 466.9 65.8 467.0 67.9 467.1 66.6 467.2 73.6 467.3 68.0 467.4 64.7 467.5 65.4 467.6 73.8 467.7 67.2 467.8 75.9 467.9 66.6 468.0 67.3 468.1 66.5 468.2 68.4 468.3 68.0 468.4 67.1 468.6 69.8 468.7 76.4 468.8 67.9 468.9 68.2 469.0 68.2 469.1 72.2 469.2 65.5 469.3 65.8 469.4 64.8 469.5 72.7 469.6 75.0 469.7 73.4 469.8 65.8 469.9 65.7 470.0 72.1 470.1 74.5 470.2 73.8 470.4 72.6 470.5 69.1 470.6 68.1 470.7 73.2 470.8 75.2 470.9 68.2 471.0 66.3 471.1 67.8 471.2 67.2 471.3 69.0 471.4 74.4 471.5 68.0 471.6 73.5 471.7 65.9 471.8 73.0 471.9 72.9 472.0 68.5 472.2 67.2 472.3 74.6 472.4 67.6 472.5 73.9 472.6 65.1 472.7 66.6 472.8 65.9 472.9 67.9 473.0 69.3 473.1 66.6 473.2 69.2 473.3 76.3 473.4 69.2 473.5 76.3 473.6 76.2 473.7 68.2 473.8 67.2 474.0 67.5 474.1 66.8 474.2 67.8 474.3 65.8 474.4 67.6 474.5 74.3 474.6 73.5 474.7 69.1 474.8 67.7 474.9 66.4 475.0 67.6 475.1 72.6 475.2 73.9 475.3 64.7 475.4 73.8 475.5 68.1 475.6 66.6 475.8 65.4 475.9 68.6 476.0 67.8 476.1 69.5 476.2 73.8 476.3 70.3 476.4 68.1 476.5 73.7 476.6 74.4 476.7 66.6 476.8 74.4 476.9 67.3 477.0 71.0 477.1 73.7 477.2 74.6 477.3 72.4 477.4 65.7 477.6 74.3 477.7 74.3 477.8 67.2 477.9 68.3 478.0 65.5 478.1 72.5 478.2 72.4 478.3 68.6 478.4 72.5 478.5 73.7 478.6 73.7 478.7 75.3 478.8 77.8 478.9 67.2 479.0 76.7 479.1 69.1 479.2 70.0 479.4 69.9 479.5 70.3 479.6 77.4 479.7 68.0 479.8 77.9 479.9 75.3 480.0 69.2 480.1 68.3 480.2 64.6 480.3 74.3 480.4 65.6 480.5 74.9 480.6 69.1 480.7 72.8 480.8 67.5 480.9 72.6 481.0 68.8 481.2 72.3 481.3 75.0 481.4 68.8 481.5 74.8 481.6 72.9 481.7 66.4 481.8 68.4 481.9 72.4 482.0 73.1 482.1 70.9 482.2 71.5 482.3 73.2 482.4 73.0 482.5 68.3 482.6 71.7 482.7 66.3 482.9 69.0 483.0 75.2 483.1 76.6 483.2 74.6 483.3 74.0 483.4 69.5 483.5 73.2 483.6 68.9 483.7 77.8 483.8 76.9 483.9 66.1 484.0 71.7 484.1 66.8 484.2 74.4 484.3 68.1 484.4 76.5 484.5 69.5 484.7 75.8 484.8 66.5 484.9 66.7 485.0 71.2 485.1 71.9 485.2 72.5 485.3 65.2 485.4 74.0 485.5 74.2 485.6 65.1 485.7 74.5 485.8 73.8 485.9 74.0 486.0 68.5 486.1 67.0 486.2 66.5 486.3 66.5 486.5 66.3 486.6 71.8 486.7 72.0 486.8 65.4 486.9 67.1 487.0 66.4 487.1 65.0 487.2 66.9 487.3 65.9 487.4 66.5 487.5 67.3 487.6 71.5 487.7 71.2 487.8 66.4 487.9 74.9 488.0 76.0 488.1 67.9 488.3 68.4 488.4 73.6 488.5 72.1 488.6 73.5 488.7 69.5 488.8 66.8 488.9 69.6 489.0 67.2 489.1 73.4 489.2 68.6 489.3 66.1 489.4 67.8 489.5 75.5 489.6 75.2 489.7 65.6 489.8 65.8 489.9 64.7 490.1 67.7 490.2 72.4 490.3 72.4 490.4 68.9 490.5 70.9 490.6 64.9 490.7 64.6 490.8 71.3 490.9 69.8 491.0 69.8 491.1 69.0 491.2 65.4 491.3 66.8 491.4 74.2 491.5 66.7 491.6 76.6 491.7 66.1 491.9 65.3 492.0 76.0 492.1 71.7 492.2 66.3 492.3 72.6 492.4 73.9 492.5 68.1 492.6 67.8 492.7 66.2 492.8 72.8 492.9 73.5 493.0 66.2 493.1 74.7 493.2 67.5 493.3 74.0 493.4 69.0 493.5 73.7 493.7 69.1 493.8 72.2 493.9 68.4 494.0 69.6 494.1 74.7 494.2 67.7 494.3 67.3 494.4 68.3 494.5 67.7 494.6 68.3 494.7 68.1 494.8 67.3 494.9 69.0 495.0 66.8 495.1 67.2 495.2 67.7 495.3 66.7 495.5 69.5 495.6 68.8 495.7 66.9 495.8 68.1 495.9 68.7 496.0 71.2 496.1 66.8 496.2 67.8 496.3 71.0 496.4 64.9 496.5 68.2 496.6 73.5 496.7 72.3 496.8 72.4 496.9 65.2 497.0 65.3 497.1 74.1 497.3 73.3 497.4 67.0 497.5 65.3 497.6 68.5 497.7 71.8 497.8 72.1 497.9 73.3 498.0 67.3 498.1 67.0 498.2 73.5 498.3 72.6 498.4 68.6 498.5 76.2 498.6 77.3 498.7 65.1 498.8 76.3 498.9 67.8 499.1 73.1 499.2 63.0 499.3 66.8 499.4 65.4 499.5 75.3 499.6 63.5 499.7 65.1 499.8 66.7 499.9 65.5 500.0 73.6 500.1 65.4 500.2 74.2 500.3 67.8 500.4 66.0 500.5 72.5 500.6 65.4 500.7 67.8 500.9 67.4 501.0 73.7 501.1 74.0 501.2 65.3 501.3 65.6 501.4 67.9 501.5 70.8 501.6 71.3 501.7 73.6 501.8 65.9 501.9 74.2 502.0 73.3 502.1 73.9 502.2 69.3 502.3 66.5 502.4 74.6 502.5 71.9 502.7 67.9 502.8 73.7 502.9 67.9 503.0 65.3 503.1 72.2 503.2 74.1 503.3 65.0 503.4 68.4 503.5 72.0 503.6 64.3 503.7 73.6 503.8 66.5 503.9 67.5 504.0 73.9 504.1 69.5 504.2 73.2 504.3 69.2 504.5 72.2 504.6 68.3 504.7 74.8 504.8 75.8 504.9 69.1 505.0 72.1 505.1 69.8 505.2 67.1 505.3 68.6 505.4 66.9 505.5 72.8 505.6 74.7 505.7 68.2 505.8 75.2 505.9 74.8 506.0 73.7 506.1 73.9 506.3 66.0 506.4 65.9 506.5 67.5 506.6 72.8 506.7 67.1 506.8 71.4 506.9 66.8 507.0 73.2 507.1 67.1 507.2 66.5 507.3 69.4 507.4 66.7 507.5 67.0 507.6 74.7 507.7 75.5 507.8 73.7 507.9 74.4 508.1 72.6 508.2 66.9 508.3 75.3 508.4 68.8 508.5 74.4 508.6 74.3 508.7 74.9 508.8 73.4 508.9 75.9 509.0 66.4 509.1 65.7 509.2 67.4 509.3 74.4 509.4 67.0 509.5 76.0 509.6 65.9 509.7 74.5 509.9 73.8 510.0 65.6 510.1 68.4 510.2 73.6 510.3 72.3 510.4 73.2 510.5 71.3 510.6 68.0 510.7 66.9 510.8 74.4 510.9 66.9 511.0 68.5 511.1 67.3 511.2 69.3 511.3 67.5 511.4 73.5 511.5 71.2 511.7 70.4 511.8 72.2 511.9 72.9 512.0 69.7 512.1 67.3 512.2 73.7 512.3 68.0 512.4 68.4 512.5 74.4 512.6 68.2 512.7 72.6 512.8 67.1 512.9 74.4 513.0 75.1 513.1 77.2 513.2 68.5 513.3 67.3 513.5 75.9 513.6 68.0 513.7 76.2 513.8 77.4 513.9 77.4 514.0 77.0 514.1 74.4 514.2 69.9 514.3 73.7 514.4 68.0 514.5 68.4 514.6 68.7 514.7 67.1 514.8 72.6 514.9 73.2 515.0 68.8 515.1 72.6 515.3 73.9 515.4 68.0 515.5 68.5 515.6 72.1 515.7 65.4 515.8 66.6 515.9 67.0 516.0 75.1 516.1 68.0 516.2 72.9 516.3 75.2 516.4 65.7 516.5 74.1 516.6 74.1 516.7 73.8 516.8 64.1 517.0 74.4 517.1 72.7 517.2 67.3 517.3 74.0 517.4 69.0 517.5 67.4 517.6 68.4 517.7 70.4 517.8 68.9 517.9 75.4 518.0 75.3 518.1 74.1 518.2 70.1 518.3 68.5 518.4 72.4 518.5 65.3 518.6 64.3 518.8 64.8 518.9 73.5 519.0 64.6 519.1 73.2 519.2 65.5 519.3 66.9 519.4 67.1 519.5 73.5 519.6 73.5 519.7 68.3 519.8 64.5 519.9 63.0 520.0 71.8 520.1 63.2 520.2 64.2 520.3 63.8 520.4 63.3 520.6 69.7 520.7 74.7 520.8 67.5 520.9 72.3 521.0 72.9 521.1 75.8 521.2 74.8 521.3 75.9 521.4 71.5 521.5 73.1 521.6 72.5 521.7 63.5 521.8 72.7 521.9 71.5 522.0 67.8 522.1 63.7 522.2 64.6 522.4 74.9 522.5 72.7 522.6 66.7 522.7 68.2 522.8 65.8 522.9 72.6 523.0 68.3 523.1 71.7 523.2 67.5 523.3 67.5 523.4 67.4 523.5 75.7 523.6 68.4 523.7 68.3 523.8 67.9 523.9 72.6 524.0 74.2 524.2 66.1 524.3 74.3 524.4 75.9 524.5 67.7 524.6 75.1 524.7 73.0 524.8 65.4 524.9 72.9 525.0 73.0 525.1 67.4 525.2 67.2 525.3 65.7 525.4 75.1 525.5 67.0 525.6 65.6 525.7 68.0 525.8 73.3 526.0 66.6 526.1 68.7 526.2 65.8 526.3 75.7 526.4 73.5 526.5 68.0 526.6 74.9 526.7 75.9 526.8 75.5 526.9 73.6 527.0 73.7 527.1 74.9 527.2 74.2 527.3 66.0 527.4 75.4 527.5 76.0 527.6 66.0 527.8 66.7 527.9 73.3 528.0 67.8 528.1 66.6 528.2 65.8 528.3 68.1 528.4 68.5 528.5 72.7 528.6 74.2 528.7 69.1 528.8 76.3 528.9 68.3 529.0 66.6 529.1 75.1 529.2 75.6 529.3 73.5 529.4 68.2 529.6 68.1 529.7 67.9 529.8 73.4 529.9 65.8 530.0 74.0 530.1 73.1 530.2 74.2 530.3 68.3 530.4 67.9 530.5 72.9 530.6 67.6 530.7 71.8 530.8 67.9 530.9 68.0 531.0 68.8 531.1 68.6 531.2 65.3 531.4 64.6 531.5 73.4 531.6 74.6 531.7 64.0 531.8 74.3 531.9 73.2 532.0 66.3 532.1 66.7 532.2 64.0 532.3 73.4 532.4 65.1 532.5 73.9 532.6 74.1 532.7 72.9 532.8 73.6 532.9 66.2 533.0 74.5 533.2 73.8 533.3 74.8 533.4 63.8 533.5 66.5 533.6 64.6 533.7 64.9 533.8 64.3 533.9 65.9 534.0 75.9"/>
<path stroke="#c80d33" d="M322.2 67.2L322.3 73.7 322.4 73.7 322.5 67.1 322.6 67.9 322.7 66.9 322.8 72.8 322.9 67.1 323.0 73.0 323.2 69.3 323.3 72.3 323.4 72.8 323.5 67.4 323.6 71.5 323.7 67.0 323.8 68.6 323.9 72.2 324.0 72.8 324.1 68.8 324.2 71.7 324.3 71.1 324.4 66.7 324.5 74.4 324.6 72.1 324.7 71.0 324.8 66.6 325.0 66.2 325.1 67.0 325.2 66.0 325.3 66.3 325.4 68.7 325.5 66.4 325.6 68.5 325.7 72.4 325.8 66.5 325.9 66.2 326.0 66.8 326.1 72.3 326.2 69.6 326.3 68.7 326.4 73.7 326.5 74.3 326.6 74.3 326.8 72.4 326.9 68.3 327.0 68.4 327.1 68.8 327.2 68.2 327.3 73.6 327.4 68.5 327.5 69.0 327.6 73.9 327.7 68.1 327.8 72.9 327.9 72.9 328.0 68.1 328.1 73.3 328.2 74.0 328.3 74.1 328.4 72.5 328.6 72.3 328.7 74.6 328.8 73.2 328.9 71.5 329.0 73.3 329.1 66.8 329.2 72.7 329.3 73.1 329.4 71.8 329.5 71.9 329.6 68.6 329.7 69.2 329.8 73.1 329.9 68.4 330.0 72.0 330.1 71.4 330.2 72.8 330.4 68.1 330.5 67.6 330.6 67.6 330.7 68.9 330.8 72.5 330.9 73.3 331.0 68.4 331.1 73.1 331.2 68.2 331.3 69.5 331.4 72.9 331.5 67.5 331.6 73.4 331.7 67.5 331.8 68.7 331.9 67.8 332.0 69.7 332.2 67.6 332.3 69.2 332.4 72.8 332.5 66.7 332.6 68.2 332.7 68.0 332.8 71.5 332.9 72.5 333.0 68.0 333.1 68.8 333.2 73.7 333.3 67.5 333.4 68.2 333.5 67.5 333.6 72.8 333.7 72.6 333.8 68.8 334.0 67.2 334.1 73.0 334.2 67.1 334.3 68.6 334.4 70.3 334.5 72.9 334.6 71.0 334.7 68.9 334.8 69.5 334.9 68.1 335.0 69.0 335.1 73.6 335.2 68.3 335.3 68.9 335.4 76.2 335.5 75.8 335.6 75.2 335.8 76.5 335.9 75.9 336.0 71.6 336.1 74.3 336.2 74.0 336.3 68.9 336.4 69.0 336.5 68.7 336.6 67.3 336.7 68.6 336.8 74.7 336.9 68.1 337.0 68.5 337.1 68.9 337.2 67.4 337.3 67.4 337.4 67.0 337.6 74.1 337.7 71.9 337.8 71.9 337.9 71.5 338.0 66.7 338.1 73.8 338.2 66.6 338.3 66.5 338.4 74.1 338.5 66.0 338.6 65.9 338.7 72.7 338.8 69.0 338.9 67.0 339.0 71.6 339.1 70.0 339.2 72.2 339.4 71.2 339.5 67.0 339.6 73.6 339.7 68.2 339.8 67.5 339.9 68.9 340.0 67.6 340.1 73.5 340.2 66.9 340.3 67.6 340.4 73.9 340.5 67.7 340.6 73.3 340.7 72.0 340.8 68.5 340.9 66.9 341.1 66.8 341.2 74.6 341.3 67.5 341.4 66.8 341.5 66.2 341.6 74.5 341.7 73.6 341.8 73.5 341.9 67.2 342.0 68.1 342.1 69.9 342.2 74.8 342.3 73.0 342.4 65.9 342.5 69.0 342.6 71.4 342.7 73.6 342.9 73.5 343.0 66.0 343.1 72.2 343.2 66.1 343.3 68.7 343.4 72.8 343.5 66.6 343.6 67.1 343.7 66.1 343.8 72.5 343.9 69.0 344.0 69.7 344.1 67.6 344.2 67.4 344.3 67.7 344.4 69.0 344.5 73.3 344.7 72.6 344.8 69.5 344.9 68.9 345.0 67.8 345.1 74.4 345.2 73.2 345.3 68.4 345.4 68.1 345.5 71.1 345.6 70.5 345.7 72.1 345.8 75.3 345.9 74.7 346.0 74.6 346.1 68.1 346.2 73.9 346.3 73.0 346.5 66.6 346.6 72.5 346.7 67.3 346.8 70.1 346.9 71.1 347.0 66.8 347.1 69.1 347.2 71.9 347.3 73.8 347.4 72.4 347.5 66.6 347.6 66.0 347.7 67.7 347.8 75.1 347.9 68.4 348.0 76.1 348.1 67.5 348.3 72.8 348.4 66.2 348.5 67.5 348.6 72.6 348.7 73.2 348.8 72.5 348.9 73.5 349.0 72.7 349.1 68.1 349.2 73.8 349.3 68.4 349.4 69.7 349.5 74.0 349.6 72.9 349.7 71.6 349.8 68.6 349.9 66.1 350.1 67.6 350.2 69.4 350.3 67.6 350.4 69.3 350.5 74.4 350.6 72.3 350.7 74.2 350.8 69.1 350.9 72.3 351.0 72.7 351.1 72.0 351.2 73.4 351.3 73.6 351.4 66.8 351.5 73.2 351.6 74.1 351.7 68.6 351.9 66.4 352.0 74.1 352.1 71.1 352.2 72.1 352.3 74.2 352.4 67.7 352.5 66.6 352.6 72.4 352.7 72.7 352.8 65.7 352.9 66.2 353.0 69.8 353.1 67.6 353.2 74.2 353.3 72.8 353.4 72.0 353.5 73.1 353.7 68.9 353.8 73.9 353.9 68.0 354.0 67.5 354.1 68.6 354.2 74.3 354.3 71.8 354.4 72.4 354.5 72.6 354.6 71.8 354.7 73.5 354.8 72.1 354.9 66.6 355.0 68.5 355.1 66.6 355.2 72.6 355.3 74.5 355.5 73.5 355.6 74.5 355.7 68.1 355.8 69.9 355.9 68.0 356.0 71.1 356.1 66.9 356.2 67.8 356.3 67.9 356.4 71.7 356.5 68.3 356.6 72.3 356.7 67.9 356.8 74.5 356.9 73.0 357.0 65.1 357.1 72.7 357.3 69.3 357.4 66.8 357.5 69.1 357.6 69.8 357.7 69.7 357.8 69.5 357.9 68.9 358.0 68.4 358.1 74.7 358.2 68.1 358.3 74.1 358.4 68.5 358.5 68.3 358.6 68.1 358.7 69.1 358.8 67.8 358.9 73.6 359.1 74.2 359.2 70.0 359.3 67.3 359.4 69.5 359.5 72.5 359.6 67.8 359.7 72.2 359.8 68.1 359.9 69.9 360.0 68.3 360.1 70.0 360.2 74.0 360.3 69.4 360.4 69.1 360.5 68.7 360.6 69.3 360.7 69.6 360.9 73.9 361.0 69.8 361.1 70.1 361.2 68.6 361.3 73.1 361.4 74.2 361.5 72.7 361.6 74.6 361.7 74.2 361.8 68.6 361.9 68.8 362.0 74.8 362.1 75.3 362.2 73.6 362.3 68.1 362.4 74.1 362.5 67.7 362.7 67.9 362.8 75.5 362.9 74.5 363.0 68.1 363.1 67.7 363.2 75.9 363.3 67.0 363.4 67.4 363.5 74.0 363.6 72.4 363.7 74.1 363.8 67.0 363.9 66.8 364.0 68.1 364.1 67.0 364.2 68.1 364.3 69.8 364.5 68.8 364.6 76.2 364.7 69.4 364.8 69.2 364.9 76.2 365.0 67.0 365.1 66.9 365.2 71.6 365.3 69.9 365.4 73.1 365.5 73.3 365.6 67.9 365.7 73.4 365.8 69.1 365.9 75.1 366.0 66.1 366.1 68.0 366.3 67.1 366.4 65.9 366.5 66.8 366.6 68.5 366.7 65.9 366.8 66.7 366.9 74.9 367.0 66.8 367.1 75.6 367.2 74.9 367.3 69.7 367.4 72.2 367.5 72.6 367.6 71.3 367.7 68.5 367.8 74.1 367.9 73.6 368.1 69.5 368.2 66.6 368.3 71.4 368.4 72.9 368.5 73.9 368.6 73.9 368.7 68.8 368.8 67.5 368.9 72.7 369.0 68.0 369.1 67.6 369.2 68.3 369.3 67.7 369.4 74.5 369.5 67.6 369.6 73.0 369.7 68.8 369.9 74.9 370.0 72.5 370.1 67.3 370.2 74.6 370.3 74.1 370.4 73.9 370.5 71.9 370.6 68.8 370.7 68.8 370.8 71.8 370.9 73.5 371.0 72.6 371.1 72.7 371.2 68.5 371.3 67.4 371.4 69.0 371.5 71.3 371.7 74.8 371.8 66.6 371.9 67.5 372.0 72.7 372.1 72.5 372.2 73.2 372.3 72.7 372.4 74.6 372.5 74.5 372.6 74.4 372.7 68.6 372.8 72.9 372.9 74.2 373.0 67.8 373.1 75.1 373.2 68.0 373.3 67.7 373.5 74.8 373.6 69.4 373.7 67.5 373.8 69.2 373.9 67.1 374.0 66.5 374.1 73.0 374.2 69.0 374.3 69.2 374.4 73.0 374.5 72.2 374.6 71.9 374.7 72.9 374.8 68.6 374.9 68.2 375.0 71.8 375.1 67.1 375.3 66.8 375.4 67.5 375.5 73.1 375.6 66.8 375.7 69.3 375.8 72.8 375.9 66.7 376.0 67.1 376.1 69.1 376.2 72.5 376.3 68.9 376.4 75.2 376.5 75.3 376.6 67.6 376.7 72.5 376.8 71.9 377.0 68.4 377.1 72.2 377.2 74.0 377.3 67.7 377.4 73.9 377.5 75.0 377.6 67.4 377.7 68.4 377.8 73.3 377.9 72.8 378.0 72.1 378.1 68.8 378.2 68.5 378.3 72.4 378.4 68.3 378.5 66.4 378.6 66.5 378.8 72.7 378.9 74.7 379.0 74.8 379.1 73.9 379.2 66.4 379.3 74.8 379.4 73.3 379.5 67.1 379.6 72.5 379.7 69.7 379.8 66.7 379.9 67.4 380.0 74.5 380.1 74.3 380.2 74.3 380.3 71.4 380.4 68.7 380.6 68.7 380.7 73.6 380.8 67.8 380.9 74.4 381.0 67.6 381.1 67.4 381.2 74.5 381.3 73.2 381.4 68.7 381.5 67.4 381.6 68.4 381.7 71.8 381.8 73.2 381.9 67.0 382.0 73.9 382.1 72.3 382.2 73.8 382.4 73.7 382.5 73.5 382.6 74.1 382.7 73.2 382.8 69.2 382.9 67.0 383.0 66.8 383.1 72.7 383.2 67.7 383.3 65.2 383.4 73.6 383.5 67.0 383.6 68.3 383.7 64.7 383.8 73.7 383.9 65.6 384.0 71.6 384.2 73.7 384.3 74.1 384.4 72.5 384.5 71.1 384.6 71.8 384.7 71.9 384.8 73.3 384.9 69.3 385.0 73.1 385.1 73.7 385.2 65.7 385.3 73.6 385.4 67.1 385.5 73.2 385.6 72.0 385.7 68.3 385.8 71.5 386.0 74.2 386.1 67.8 386.2 73.6 386.3 72.0 386.4 68.1 386.5 71.5 386.6 67.7 386.7 68.8 386.8 72.5 386.9 68.4 387.0 69.1 387.1 68.5 387.2 70.0 387.3 72.3 387.4 70.1 387.5 68.2 387.6 71.2 387.8 68.5 387.9 73.6 388.0 73.7 388.1 68.1 388.2 73.2 388.3 68.2 388.4 69.8 388.5 73.2 388.6 67.9 388.7 66.4 388.8 74.6 388.9 74.3 389.0 74.0 389.1 71.6 389.2 74.8 389.3 66.4 389.4 67.3 389.6 67.5 389.7 66.0 389.8 72.4 389.9 74.4 390.0 72.9 390.1 73.0 390.2 72.5 390.3 72.6 390.4 72.8 390.5 67.7 390.6 68.5 390.7 68.1 390.8 69.7 390.9 72.4 391.0 69.1 391.1 67.3 391.2 74.2 391.4 74.0 391.5 66.3 391.6 66.0 391.7 73.3 391.8 65.8 391.9 67.3 392.0 67.2 392.1 74.0 392.2 74.5 392.3 72.6 392.4 68.3 392.5 68.3 392.6 75.0 392.7 68.7 392.8 75.6 392.9 68.5 393.0 71.9 393.2 72.6 393.3 72.6 393.4 72.1 393.5 72.5 393.6 71.9 393.7 66.6 393.8 64.6 393.9 74.6 394.0 73.2 394.1 67.0 394.2 74.9 394.3 66.6 394.4 74.1 394.5 73.5 394.6 71.8 394.7 74.3 394.8 67.0 395.0 73.4 395.1 69.5 395.2 69.4 395.3 68.9 395.4 73.0 395.5 73.5 395.6 68.8 395.7 68.0 395.8 67.7 395.9 72.3 396.0 71.6 396.1 66.8 396.2 72.1 396.3 74.1 396.4 74.2 396.5 74.4 396.6 74.1 396.8 71.5 396.9 67.0 397.0 66.6 397.1 72.4 397.2 67.2 397.3 67.6 397.4 73.8 397.5 67.3 397.6 74.1 397.7 74.2 397.8 68.9 397.9 72.2 398.0 66.2 398.1 65.1 398.2 73.9 398.3 65.3 398.4 72.4 398.6 73.5 398.7 67.9 398.8 73.9 398.9 72.7 399.0 73.7 399.1 72.9 399.2 67.5 399.3 71.7 399.4 73.4 399.5 72.7 399.6 67.7 399.7 74.1 399.8 75.0 399.9 66.9 400.0 75.0 400.1 74.7 400.2 66.5 400.4 67.2 400.5 73.2 400.6 73.4 400.7 74.6 400.8 69.2 400.9 74.5 401.0 68.8 401.1 67.9 401.2 72.7 401.3 72.2 401.4 72.7 401.5 69.8 401.6 70.3 401.7 72.7 401.8 73.0 401.9 72.4 402.0 66.5 402.2 65.8 402.3 65.6 402.4 73.8 402.5 65.8 402.6 65.8 402.7 66.5 402.8 73.5 402.9 73.6 403.0 68.2 403.1 66.7 403.2 72.5 403.3 73.3 403.4 73.1 403.5 69.6 403.6 73.4 403.7 71.2 403.8 69.4 404.0 67.6 404.1 71.8 404.2 73.5 404.3 67.7 404.4 72.7 404.5 69.5 404.6 66.4 404.7 66.9 404.8 68.5 404.9 68.5 405.0 69.0 405.1 68.4 405.2 69.9 405.3 74.1 405.4 72.1 405.5 72.1 405.6 68.2 405.8 69.2 405.9 67.6 406.0 69.1 406.1 68.0 406.2 72.0 406.3 69.2 406.4 68.0 406.5 73.9 406.6 73.6 406.7 72.8 406.8 72.3 406.9 67.8 407.0 74.0 407.1 69.4 407.2 74.4 407.3 73.1 407.4 74.3 407.6 73.5 407.7 74.6 407.8 67.3 407.9 67.4 408.0 69.4 408.1 73.3 408.2 73.4 408.3 73.8 408.4 73.0 408.5 69.1 408.6 73.7 408.7 73.7 408.8 68.1 408.9 67.9 409.0 74.0 409.1 73.5 409.2 74.3 409.4 72.7 409.5 68.7 409.6 67.3 409.7 73.0 409.8 66.3 409.9 67.1 410.0 74.0 410.1 68.2 410.2 66.4 410.3 66.5 410.4 66.2 410.5 69.5 410.6 68.7 410.7 73.4 410.8 73.5 410.9 69.0 411.1 67.5 411.2 73.7 411.3 73.8 411.4 73.7 411.5 69.3 411.6 67.1 411.7 73.7 411.8 72.8 411.9 72.8 412.0 71.2 412.1 66.4 412.2 71.2 412.3 73.3 412.4 72.2 412.5 71.9 412.6 64.9 412.7 72.0 412.9 69.1 413.0 65.5 413.1 73.0 413.2 72.6 413.3 75.7 413.4 69.5 413.5 76.2 413.6 75.2 413.7 67.6 413.8 74.9 413.9 67.6 414.0 73.1 414.1 67.6 414.2 68.3 414.3 71.6 414.4 69.4 414.5 67.0 414.7 67.5 414.8 66.1 414.9 75.0 415.0 75.2 415.1 66.7 415.2 74.6 415.3 68.6 415.4 67.9 415.5 67.8 415.6 68.8 415.7 73.2 415.8 67.9 415.9 67.8 416.0 73.8 416.1 67.8 416.2 73.5 416.3 73.8 416.5 71.7 416.6 73.2 416.7 66.4 416.8 69.7 416.9 67.7 417.0 67.3 417.1 67.1 417.2 75.3 417.3 72.7 417.4 72.3 417.5 73.2 417.6 66.5 417.7 66.7 417.8 67.7 417.9 73.3 418.0 73.5 418.1 75.3 418.3 75.7 418.4 67.9 418.5 73.9 418.6 72.6 418.7 73.1 418.8 67.7 418.9 66.6 419.0 72.9 419.1 72.9 419.2 73.0 419.3 73.0 419.4 71.8 419.5 67.8 419.6 71.0 419.7 71.9 419.8 72.8 419.9 75.5 420.1 72.7 420.2 69.6 420.3 69.0 420.4 74.9 420.5 67.2 420.6 76.4 420.7 67.5 420.8 74.5 420.9 74.2 421.0 67.7 421.1 72.9 421.2 67.8 421.3 68.3 421.4 67.4 421.5 66.8 421.6 73.7 421.7 74.8 421.9 68.0 422.0 65.2 422.1 66.4 422.2 74.3 422.3 75.7 422.4 67.9 422.5 69.4 422.6 70.3 422.7 69.6 422.8 68.6 422.9 69.0 423.0 69.7 423.1 69.8 423.2 69.5 423.3 72.1 423.4 68.3 423.5 74.7 423.7 68.3 423.8 68.6 423.9 74.8 424.0 73.5 424.1 66.3 424.2 74.0 424.3 69.8 424.4 69.1 424.5 74.1 424.6 67.1 424.7 66.8 424.8 75.7 424.9 67.6 425.0 74.5 425.1 71.8 425.2 74.1 425.3 67.3 425.5 72.9 425.6 68.5 425.7 66.2 425.8 74.5 425.9 66.2 426.0 74.6 426.1 66.3 426.2 73.9 426.3 74.1 426.4 75.0 426.5 71.7 426.6 75.1 426.7 72.8 426.8 69.6 426.9 73.5 427.0 67.0 427.1 67.6 427.3 73.4 427.4 67.8 427.5 73.2 427.6 74.5 427.7 73.9 427.8 74.6 427.9 65.4 428.0 67.0 428.1 68.0 428.2 67.3 428.3 72.4 428.4 68.1 428.5 72.1 428.6 74.6 428.7 67.5 428.8 73.6 428.9 68.2 429.1 66.8 429.2 74.6 429.3 72.8 429.4 68.5 429.5 74.5 429.6 72.8 429.7 73.3 429.8 68.3 429.9 67.4 430.0 70.0 430.1 72.8 430.2 73.6 430.3 72.9 430.4 66.4 430.5 73.3 430.6 67.5 430.7 67.9 430.9 73.7 431.0 72.8 431.1 66.6 431.2 74.5 431.3 66.5 431.4 68.0 431.5 73.7 431.6 65.7 431.7 67.8 431.8 69.2 431.9 71.3 432.0 67.0 432.1 72.2 432.2 74.1 432.3 66.8 432.4 74.1 432.5 68.2 432.7 67.8 432.8 74.5 432.9 66.7 433.0 67.2 433.1 68.2 433.2 66.8 433.3 73.4 433.4 71.2 433.5 66.9 433.6 66.2 433.7 73.1 433.8 69.2 433.9 73.1 434.0 67.0 434.1 71.5 434.2 73.3 434.3 72.6 434.5 71.5 434.6 65.9 434.7 72.8 434.8 72.6 434.9 67.5 435.0 72.6 435.1 67.0 435.2 72.8 435.3 69.7 435.4 74.4 435.5 72.4 435.6 68.5 435.7 73.4 435.8 73.8 435.9 70.3 436.0 72.0 436.1 67.9 436.3 66.8 436.4 71.3 436.5 66.5 436.6 72.8 436.7 75.2 436.8 73.1 436.9 66.3 437.0 74.8 437.1 73.8 437.2 66.2 437.3 66.8 437.4 67.5 437.5 67.9 437.6 74.6 437.7 66.0 437.8 73.8 437.9 71.4 438.1 67.6 438.2 73.3 438.3 68.5 438.4 68.8 438.5 68.9 438.6 69.2 438.7 73.1 438.8 68.9 438.9 67.1 439.0 66.5 439.1 75.1 439.2 73.7 439.3 67.1 439.4 69.5 439.5 67.3 439.6 75.1 439.7 72.1 439.9 68.5 440.0 67.4 440.1 68.6 440.2 66.7 440.3 67.4 440.4 74.7 440.5 68.9 440.6 75.0 440.7 72.8 440.8 74.6 440.9 75.3 441.0 74.1 441.1 68.0 441.2 74.5 441.3 71.2 441.4 75.5 441.5 68.6 441.7 74.5 441.8 68.8 441.9 73.9 442.0 68.3 442.1 67.5 442.2 67.6 442.3 74.3 442.4 67.8 442.5 74.8 442.6 73.8 442.7 67.3 442.8 67.1 442.9 72.1 443.0 71.0 443.1 67.3 443.2 68.7 443.3 66.5 443.5 67.9 443.6 67.6 443.7 72.5 443.8 72.5 443.9 67.5 444.0 69.5 444.1 72.0 444.2 68.3 444.3 71.0 444.4 72.0 444.5 71.5 444.6 73.1 444.7 67.9 444.8 67.8 444.9 73.0 445.0 72.9 445.1 71.6 445.3 72.7 445.4 67.2 445.5 69.7 445.6 67.6 445.7 67.9 445.8 69.7 445.9 71.5 446.0 69.7 446.1 69.5 446.2 69.5 446.3 67.8 446.4 71.5 446.5 67.4 446.6 68.2 446.7 73.6 446.8 73.6 447.0 71.3 447.1 73.9 447.2 67.6 447.3 74.0 447.4 67.3 447.5 66.9 447.6 69.9 447.7 72.6 447.8 67.4 447.9 70.0 448.0 67.1 448.1 68.4 448.2 73.0 448.3 73.4 448.4 73.8 448.5 70.4 448.6 74.0 448.8 73.2 448.9 73.3 449.0 72.1 449.1 73.9 449.2 68.6 449.3 69.1 449.4 73.4 449.5 67.2 449.6 67.5 449.7 72.9 449.8 69.1 449.9 73.7 450.0 74.0 450.1 73.7 450.2 73.6 450.3 74.0 450.4 72.9 450.6 66.6 450.7 67.4 450.8 71.1 450.9 72.4 451.0 66.9 451.1 72.0 451.2 68.1 451.3 73.8 451.4 69.0 451.5 72.9 451.6 70.1 451.7 68.7 451.8 74.2 451.9 72.0 452.0 68.1 452.1 68.4 452.2 66.6 452.4 71.8 452.5 72.7 452.6 69.9 452.7 66.6 452.8 67.0 452.9 72.4 453.0 67.6 453.1 72.3 453.2 72.0 453.3 73.5 453.4 71.5 453.5 67.5 453.6 71.8 453.7 66.4 453.8 73.3 453.9 72.5 454.0 70.8 454.2 73.6 454.3 73.0 454.4 67.9 454.5 66.7 454.6 73.0 454.7 74.4 454.8 73.1 454.9 72.6 455.0 66.9 455.1 73.8 455.2 73.2 455.3 66.6 455.4 71.6 455.5 72.6 455.6 66.5 455.7 72.2 455.8 66.6 456.0 67.2 456.1 66.5 456.2 68.6 456.3 68.0 456.4 69.5 456.5 72.2 456.6 68.4 456.7 74.4 456.8 68.3 456.9 67.5 457.0 73.5 457.1 68.6 457.2 72.5 457.3 74.3 457.4 67.7 457.5 71.2 457.6 71.9 457.8 71.9 457.9 66.1 458.0 72.5 458.1 65.7 458.2 73.7 458.3 72.9 458.4 72.3 458.5 73.2 458.6 69.4 458.7 71.8 458.8 74.0 458.9 67.9 459.0 71.8 459.1 74.7 459.2 69.4 459.3 67.0 459.4 67.1 459.6 67.6 459.7 69.2 459.8 66.8 459.9 74.2 460.0 74.0 460.1 74.3 460.2 68.2 460.3 68.1 460.4 71.8 460.5 73.7 460.6 73.4 460.7 66.3 460.8 68.5 460.9 68.5 461.0 73.0 461.1 72.4 461.2 72.3 461.4 73.1 461.5 69.9 461.6 74.0 461.7 73.6 461.8 72.2 461.9 67.0 462.0 69.2 462.1 72.5 462.2 72.2 462.3 67.0 462.4 67.0 462.5 68.5 462.6 67.0 462.7 68.6 462.8 75.7 462.9 66.9 463.0 66.4 463.2 66.4 463.3 67.3 463.4 74.0 463.5 71.3 463.6 68.0 463.7 74.0 463.8 72.4 463.9 69.9 464.0 74.0 464.1 73.9 464.2 68.6 464.3 73.3 464.4 74.9 464.5 72.2 464.6 66.7 464.7 74.2 464.8 67.9 465.0 74.4 465.1 72.9 465.2 67.6 465.3 69.4 465.4 68.6 465.5 68.5 465.6 73.1 465.7 72.1 465.8 74.7 465.9 75.3 466.0 73.8 466.1 67.6 466.2 67.4 466.3 72.2 466.4 73.4 466.5 67.8 466.6 66.9 466.8 68.0 466.9 73.0 467.0 72.9 467.1 68.8 467.2 71.9 467.3 73.5 467.4 74.3 467.5 73.6 467.6 65.3 467.7 71.6 467.8 65.9 467.9 65.8 468.0 66.4 468.1 66.6 468.2 72.1 468.3 67.8 468.4 74.1 468.6 73.9 468.7 71.5 468.8 67.4 468.9 67.2 469.0 67.3 469.1 68.8 469.2 71.0 469.3 67.5 469.4 76.3 469.5 71.7 469.6 74.3 469.7 72.7 469.8 68.3 469.9 74.8 470.0 72.5 470.1 68.6 470.2 67.8 470.4 73.4 470.5 71.9 470.6 66.9 470.7 72.1 470.8 66.6 470.9 68.6 471.0 72.5 471.1 72.3 471.2 67.8 471.3 65.6 471.4 68.1 471.5 69.0 471.6 73.4 471.7 68.9 471.8 73.7 471.9 75.5 472.0 73.2 472.2 75.2 472.3 75.2 472.4 75.1 472.5 74.0 472.6 72.7 472.7 73.9 472.8 67.5 472.9 72.4 473.0 67.7 473.1 73.6 473.2 69.4 473.3 67.2 473.4 72.0 473.5 67.7 473.6 67.9 473.7 73.6 473.8 73.6 474.0 70.9 474.1 68.1 474.2 72.1 474.3 72.9 474.4 68.8 474.5 74.4 474.6 67.6 474.7 70.0 474.8 72.4 474.9 73.2 475.0 67.3 475.1 67.5 475.2 67.2 475.3 72.9 475.4 68.3 475.5 69.1 475.6 72.8 475.8 68.6 475.9 74.1 476.0 74.0 476.1 67.3 476.2 67.7 476.3 69.3 476.4 68.1 476.5 74.4 476.6 67.4 476.7 72.8 476.8 70.2 476.9 74.7 477.0 74.2 477.1 68.6 477.2 68.7 477.3 74.5 477.4 74.8 477.6 74.9 477.7 74.9 477.8 68.3 477.9 74.8 478.0 73.9 478.1 73.5 478.2 73.5 478.3 73.6 478.4 72.2 478.5 68.3 478.6 70.7 478.7 72.1 478.8 66.3 478.9 66.9 479.0 72.5 479.1 67.0 479.2 74.3 479.4 72.9 479.5 73.2 479.6 68.7 479.7 74.6 479.8 73.6 479.9 66.8 480.0 72.7 480.1 74.7 480.2 67.1 480.3 71.4 480.4 67.0 480.5 74.1 480.6 74.5 480.7 68.5 480.8 67.8 480.9 69.4 481.0 71.4 481.2 67.8 481.3 68.3 481.4 74.8 481.5 72.3 481.6 68.1 481.7 69.2 481.8 67.8 481.9 67.2 482.0 67.5 482.1 74.3 482.2 73.9 482.3 70.7 482.4 68.9 482.5 68.1 482.6 73.4 482.7 67.3 482.9 66.1 483.0 71.9 483.1 73.3 483.2 65.5 483.3 73.8 483.4 66.2 483.5 72.9 483.6 73.7 483.7 74.2 483.8 66.7 483.9 68.2 484.0 68.5 484.1 73.3 484.2 67.8 484.3 67.8 484.4 69.3 484.5 73.0 484.7 70.3 484.8 73.6 484.9 69.6 485.0 72.5 485.1 74.9 485.2 75.2 485.3 74.2 485.4 67.1 485.5 73.8 485.6 72.4 485.7 73.4 485.8 74.8 485.9 73.9 486.0 74.2 486.1 66.3 486.2 74.7 486.3 74.3 486.5 66.5 486.6 72.0 486.7 66.9 486.8 68.2 486.9 67.4 487.0 67.1 487.1 67.8 487.2 71.5 487.3 67.4 487.4 72.3 487.5 67.0 487.6 67.2 487.7 66.9 487.8 67.4 487.9 67.2 488.0 67.9 488.1 72.2 488.3 68.0 488.4 72.3 488.5 67.2 488.6 71.3 488.7 67.6 488.8 69.8 488.9 71.6 489.0 67.7 489.1 73.9 489.2 72.0 489.3 69.4 489.4 69.4 489.5 68.5 489.6 67.7 489.7 67.8 489.8 73.9 489.9 73.5 490.1 66.1 490.2 75.2 490.3 67.7 490.4 66.0 490.5 73.9 490.6 65.9 490.7 66.0 490.8 74.1 490.9 74.3 491.0 69.4 491.1 72.2 491.2 74.1 491.3 69.1 491.4 68.6 491.5 73.7 491.6 69.4 491.7 74.5 491.9 73.9 492.0 69.1 492.1 73.1 492.2 73.4 492.3 72.0 492.4 74.0 492.5 73.5 492.6 67.7 492.7 68.5 492.8 67.9 492.9 67.4 493.0 68.8 493.1 70.8 493.2 73.4 493.3 73.7 493.4 67.0 493.5 67.4 493.7 73.0 493.8 68.0 493.9 67.6 494.0 74.0 494.1 68.1 494.2 67.7 494.3 72.5 494.4 68.8 494.5 67.6 494.6 73.1 494.7 72.3 494.8 73.3 494.9 72.6 495.0 70.3 495.1 72.5 495.2 68.2 495.3 68.8 495.5 68.0 495.6 72.4 495.7 73.1 495.8 68.2 495.9 72.9 496.0 69.7 496.1 67.1 496.2 67.2 496.3 67.6 496.4 67.3 496.5 72.7 496.6 69.9 496.7 72.1 496.8 72.0 496.9 73.1 497.0 72.2 497.1 67.9 497.3 68.5 497.4 68.9 497.5 73.0 497.6 68.8 497.7 74.7 497.8 74.1 497.9 74.3 498.0 66.6 498.1 69.8 498.2 66.4 498.3 73.9 498.4 73.6 498.5 73.9 498.6 73.9 498.7 66.8 498.8 74.1 498.9 66.4 499.1 74.2 499.2 67.1 499.3 66.3 499.4 66.7 499.5 73.2 499.6 74.9 499.7 67.6 499.8 67.0 499.9 67.4 500.0 74.8 500.1 74.2 500.2 66.9 500.3 72.1 500.4 74.4 500.5 75.3 500.6 66.4 500.7 67.2 500.9 72.2 501.0 74.4 501.1 73.6 501.2 68.8 501.3 68.7 501.4 68.0 501.5 73.5 501.6 73.3 501.7 67.1 501.8 67.4 501.9 66.8 502.0 69.5 502.1 73.7 502.2 73.8 502.3 73.6 502.4 68.0 502.5 67.3 502.7 67.5 502.8 71.3 502.9 73.2 503.0 72.4 503.1 68.4 503.2 68.9 503.3 73.7 503.4 67.5 503.5 69.8 503.6 67.9 503.7 70.9 503.8 71.8 503.9 67.9 504.0 72.5 504.1 67.3 504.2 66.6 504.3 61.3 504.5 72.8 504.6 72.3 504.7 69.2 504.8 67.5 504.9 68.1 505.0 74.5 505.1 67.0 505.2 72.9 505.3 69.0 505.4 73.1 505.5 67.8 505.6 69.6 505.7 72.6 505.8 68.4 505.9 68.0 506.0 74.2 506.1 67.7 506.3 72.8 506.4 74.0 506.5 70.0 506.6 72.5 506.7 67.2 506.8 72.7 506.9 73.6 507.0 68.2 507.1 71.9 507.2 73.5 507.3 69.3 507.4 73.1 507.5 67.5 507.6 69.4 507.7 66.3 507.8 72.7 507.9 67.9 508.1 71.6 508.2 65.7 508.3 74.3 508.4 73.5 508.5 73.8 508.6 67.9 508.7 73.7 508.8 68.7 508.9 69.8 509.0 68.5 509.1 69.0 509.2 69.1 509.3 74.1 509.4 66.5 509.5 65.9 509.6 65.9 509.7 67.0 509.9 74.6 510.0 66.1 510.1 67.5 510.2 66.8 510.3 66.5 510.4 66.7 510.5 72.6 510.6 66.2 510.7 72.7 510.8 67.5 510.9 75.1 511.0 74.0 511.1 74.8 511.2 74.0 511.3 74.6 511.4 75.1 511.5 70.9 511.7 71.6 511.8 72.9 511.9 68.1 512.0 67.2 512.1 73.8 512.2 72.6 512.3 73.1 512.4 67.4 512.5 73.4 512.6 68.5 512.7 67.9 512.8 73.5 512.9 74.0 513.0 73.4 513.1 72.6 513.2 71.8 513.3 72.7 513.5 74.1 513.6 67.2 513.7 72.7 513.8 67.7 513.9 71.3 514.0 66.4 514.1 68.0 514.2 66.4 514.3 66.3 514.4 73.0 514.5 74.1 514.6 67.4 514.7 67.6 514.8 67.3 514.9 74.8 515.0 73.8 515.1 73.9 515.3 74.1 515.4 69.9 515.5 74.0 515.6 67.6 515.7 67.4 515.8 73.6 515.9 75.0 516.0 68.8 516.1 74.4 516.2 69.2 516.3 71.2 516.4 74.8 516.5 74.0 516.6 69.2 516.7 68.0 516.8 68.7 517.0 76.4 517.1 70.0 517.2 76.3 517.3 65.5 517.4 66.8 517.5 66.2 517.6 66.1 517.7 71.7 517.8 71.7 517.9 74.1 518.0 71.5 518.1 72.9 518.2 68.0 518.3 66.3 518.4 67.0 518.5 65.8 518.6 71.1 518.8 65.0 518.9 65.5 519.0 67.2 519.1 70.8 519.2 73.2 519.3 72.9 519.4 68.8 519.5 71.6 519.6 67.9 519.7 69.1 519.8 68.1 519.9 67.9 520.0 72.6 520.1 68.5 520.2 73.3 520.3 68.0 520.4 69.3 520.6 66.6 520.7 68.1 520.8 72.5 520.9 66.2 521.0 72.6 521.1 72.9 521.2 72.3 521.3 67.1 521.4 66.1 521.5 73.5 521.6 70.1 521.7 73.3 521.8 72.0 521.9 72.3 522.0 67.4 522.1 69.4 522.2 71.7 522.4 72.7 522.5 72.1 522.6 67.3 522.7 74.0 522.8 67.8 522.9 66.6 523.0 72.2 523.1 66.9 523.2 67.6 523.3 68.2 523.4 68.6 523.5 73.0 523.6 71.5 523.7 67.8 523.8 70.6 523.9 66.2 524.0 72.1 524.2 69.3 524.3 73.8 524.4 67.4 524.5 72.9 524.6 73.7 524.7 72.6 524.8 68.4 524.9 66.3 525.0 66.9 525.1 67.4 525.2 71.8 525.3 72.5 525.4 67.8 525.5 67.8 525.6 73.5 525.7 68.7 525.8 73.5 526.0 70.4 526.1 71.8 526.2 73.3 526.3 72.5 526.4 74.3 526.5 74.2 526.6 68.1 526.7 67.7 526.8 69.7 526.9 67.4 527.0 74.4 527.1 67.3 527.2 68.0 527.3 72.2 527.4 72.5 527.5 66.5 527.6 73.7 527.8 73.9 527.9 73.4 528.0 67.4 528.1 72.9 528.2 72.1 528.3 67.0 528.4 73.9 528.5 68.9 528.6 70.0 528.7 72.9 528.8 71.9 528.9 71.6 529.0 72.5 529.1 74.2 529.2 71.6 529.3 68.5 529.4 73.6 529.6 75.0 529.7 75.4 529.8 73.5 529.9 75.3 530.0 67.8 530.1 65.6 530.2 66.7 530.3 74.6 530.4 72.3 530.5 72.4 530.6 75.1 530.7 66.1 530.8 67.2 530.9 67.7 531.0 66.2 531.1 67.5 531.2 72.2 531.4 70.1 531.5 73.2 531.6 73.5 531.7 72.9 531.8 67.3 531.9 67.4 532.0 68.0 532.1 68.9 532.2 71.6 532.3 70.1 532.4 72.2 532.5 72.3 532.6 67.3 532.7 67.4 532.8 66.7 532.9 67.2 533.0 66.9 533.2 72.1 533.3 67.5 533.4 69.4 533.5 72.0 533.6 68.6 533.7 68.3 533.8 72.4 533.9 67.3 534.0 66.1"/>
</g></g>
<path d="M322.20 129.70v-2.30M322.20 15.00v2.30M375.15 129.70v-2.30M375.15 15.00v2.30M428.10 129.70v-2.30M428.10 15.00v2.30M481.05 129.70v-2.30M481.05 15.00v2.30M534.00 129.70v-2.30M534.00 15.00v2.30M322.20 129.70h2.30M534.00 129.70h-2.30M322.20 101.02h2.30M534.00 101.02h-2.30M322.20 72.35h2.30M534.00 72.35h-2.30M322.20 43.67h2.30M534.00 43.67h-2.30M322.20 15.00h2.30M534.00 15.00h-2.30" stroke="#3a3a3a" stroke-width="1.0" fill="none"/>
<rect x="322.20" y="15.00" width="211.80" height="114.70" fill="none" stroke="#3a3a3a" stroke-width="1.2"/>
<g fill="#2a2a2a" stroke="#2a2a2a"><text transform="translate(322.20 142.20) scale(1.000 1)" text-anchor="middle" font-size="9.65">0</text><text transform="translate(375.15 142.20) scale(1.000 1)" text-anchor="middle" font-size="9.65">500</text><text transform="translate(428.10 142.20) scale(1.000 1)" text-anchor="middle" font-size="9.65">1000</text><text transform="translate(481.05 142.20) scale(1.000 1)" text-anchor="middle" font-size="9.65">1500</text><text transform="translate(534.00 142.20) scale(1.000 1)" text-anchor="middle" font-size="9.65">2000</text><text transform="translate(319.40 132.40) scale(1.000 1)" text-anchor="end" font-size="9.65">-0.04</text><text transform="translate(319.40 103.72) scale(1.000 1)" text-anchor="end" font-size="9.65">-0.02</text><text transform="translate(319.40 75.05) scale(1.000 1)" text-anchor="end" font-size="9.65">0</text><text transform="translate(319.40 46.38) scale(1.000 1)" text-anchor="end" font-size="9.65">0.02</text><text transform="translate(319.40 17.70) scale(1.000 1)" text-anchor="end" font-size="9.65">0.04</text></g>
<text transform="translate(428.10 153.70) scale(1.060 1)" text-anchor="middle" font-size="9.30" fill="#2a2a2a" stroke="#2a2a2a">Frame number</text>
<text transform="translate(292.90 72.65) rotate(-90) scale(1.060 1)" text-anchor="middle" font-size="9.30" fill="#2a2a2a" stroke="#2a2a2a">Interframe Disp. [mm]</text>
<text transform="translate(428.10 13.00) scale(0.915 1)" text-anchor="middle" font-size="10.50" font-weight="bold" fill="#000" stroke="#000" style="stroke-width:0.15px">Circle</text>
<rect x="467.20" y="102.00" width="63.80" height="24.90" fill="#fff" stroke="#3a3a3a" stroke-width="1.2"/><line x1="469.00" y1="108.60" x2="480.40" y2="108.60" stroke="#2e8ad0" stroke-width="1.3"/><line x1="469.00" y1="120.60" x2="480.40" y2="120.60" stroke="#d23a5a" stroke-width="1.3"/><text transform="translate(481.20 111.60) scale(1.100 1)" font-size="9.00" fill="#2a2a2a" stroke="#2a2a2a">DSM</text><text transform="translate(481.20 123.30) scale(1.100 1)" font-size="9.00" fill="#2a2a2a" stroke="#2a2a2a">Correlation</text>
<line x1="96.00" y1="175.00" x2="96.00" y2="289.70" stroke="#d9d9d9" stroke-width="1.0"/><line x1="149.00" y1="175.00" x2="149.00" y2="289.70" stroke="#d9d9d9" stroke-width="1.0"/><line x1="202.00" y1="175.00" x2="202.00" y2="289.70" stroke="#d9d9d9" stroke-width="1.0"/><line x1="43.00" y1="261.02" x2="255.00" y2="261.02" stroke="#d9d9d9" stroke-width="1.0"/><line x1="43.00" y1="232.35" x2="255.00" y2="232.35" stroke="#d9d9d9" stroke-width="1.0"/><line x1="43.00" y1="203.67" x2="255.00" y2="203.67" stroke="#d9d9d9" stroke-width="1.0"/>
<g clip-path="url(#cS3)"><g fill="none" stroke-width="1.0" stroke-linejoin="round">
<path stroke="#0873c6" d="M43.0 220.2L43.1 202.0 43.2 196.1 43.3 217.1 43.4 219.5 43.5 224.9 43.6 200.1 43.7 268.9 43.8 204.9 44.0 214.9 44.1 207.7 44.2 197.4 44.3 195.7 44.4 201.4 44.5 196.0 44.6 198.4 44.7 259.9 44.8 204.6 44.9 264.5 45.0 249.9 45.1 219.8 45.2 261.9 45.3 195.3 45.4 262.7 45.5 271.2 45.6 261.7 45.8 271.2 45.9 215.0 46.0 269.1 46.1 268.6 46.2 209.4 46.3 228.6 46.4 259.9 46.5 219.5 46.6 271.2 46.7 260.3 46.8 268.1 46.9 264.5 47.0 227.2 47.1 281.7 47.2 199.6 47.3 273.4 47.5 278.1 47.6 211.3 47.7 270.5 47.8 186.7 47.9 246.1 48.0 277.1 48.1 219.2 48.2 203.5 48.3 191.2 48.4 241.4 48.5 186.9 48.6 199.5 48.7 193.1 48.8 235.7 48.9 203.8 49.0 198.0 49.1 276.5 49.3 198.1 49.4 205.8 49.5 209.6 49.6 280.1 49.7 198.3 49.8 245.0 49.9 201.7 50.0 268.3 50.1 266.1 50.2 209.0 50.3 281.8 50.4 206.3 50.5 203.1 50.6 196.5 50.7 203.9 50.8 266.1 51.0 221.1 51.1 260.4 51.2 192.8 51.3 272.3 51.4 190.5 51.5 266.9 51.6 191.7 51.7 211.8 51.8 256.0 51.9 257.4 52.0 206.7 52.1 204.7 52.2 255.6 52.3 245.3 52.4 205.2 52.5 220.9 52.6 184.5 52.8 260.1 52.9 186.7 53.0 284.8 53.1 244.5 53.2 219.6 53.3 257.3 53.4 192.5 53.5 269.7 53.6 210.4 53.7 264.0 53.8 204.4 53.9 214.5 54.0 264.2 54.1 202.9 54.2 244.5 54.3 255.7 54.4 194.3 54.6 266.7 54.7 199.9 54.8 218.1 54.9 249.8 55.0 275.2 55.1 201.9 55.2 284.4 55.3 274.4 55.4 274.0 55.5 197.5 55.6 208.5 55.7 273.7 55.8 213.5 55.9 199.8 56.0 240.6 56.1 199.3 56.2 201.5 56.4 285.2 56.5 205.7 56.6 180.6 56.7 241.9 56.8 257.0 56.9 277.3 57.0 238.8 57.1 262.3 57.2 263.4 57.3 183.1 57.4 273.1 57.5 269.3 57.6 196.1 57.7 255.1 57.8 272.4 57.9 194.3 58.1 257.7 58.2 199.8 58.3 193.5 58.4 267.7 58.5 260.1 58.6 193.9 58.7 227.7 58.8 190.9 58.9 193.5 59.0 237.5 59.1 260.2 59.2 260.2 59.3 204.7 59.4 208.3 59.5 200.1 59.6 266.6 59.7 214.2 59.9 255.8 60.0 255.8 60.1 199.9 60.2 214.1 60.3 211.5 60.4 217.7 60.5 257.0 60.6 245.0 60.7 201.9 60.8 219.3 60.9 271.2 61.0 265.2 61.1 271.8 61.2 268.1 61.3 188.2 61.4 187.2 61.5 216.3 61.7 256.2 61.8 185.8 61.9 252.3 62.0 251.4 62.1 193.0 62.2 207.7 62.3 198.3 62.4 248.7 62.5 204.0 62.6 187.5 62.7 275.9 62.8 202.7 62.9 267.9 63.0 202.0 63.1 272.9 63.2 255.5 63.4 209.1 63.5 205.8 63.6 270.5 63.7 203.6 63.8 283.5 63.9 258.8 64.0 218.1 64.1 285.7 64.2 210.0 64.3 178.1 64.4 208.2 64.5 255.3 64.6 264.4 64.7 212.2 64.8 262.4 64.9 266.5 65.0 269.9 65.2 200.2 65.3 190.9 65.4 214.5 65.5 258.9 65.6 207.7 65.7 205.5 65.8 202.8 65.9 202.5 66.0 250.9 66.1 202.5 66.2 248.9 66.3 257.7 66.4 213.9 66.5 218.5 66.6 242.8 66.7 215.0 66.8 282.0 67.0 224.5 67.1 218.1 67.2 253.2 67.3 188.3 67.4 178.8 67.5 243.3 67.6 187.6 67.7 192.6 67.8 188.3 67.9 189.3 68.0 220.4 68.1 190.3 68.2 194.0 68.3 272.7 68.4 269.2 68.5 240.8 68.7 271.1 68.8 195.0 68.9 261.7 69.0 271.6 69.1 256.7 69.2 263.0 69.3 226.8 69.4 208.2 69.5 255.4 69.6 273.5 69.7 275.6 69.8 266.4 69.9 266.0 70.0 265.8 70.1 280.4 70.2 278.5 70.3 223.7 70.5 203.2 70.6 203.4 70.7 235.5 70.8 239.8 70.9 264.7 71.0 201.1 71.1 209.3 71.2 258.5 71.3 207.6 71.4 221.5 71.5 216.3 71.6 216.7 71.7 253.1 71.8 260.7 71.9 214.1 72.0 189.2 72.2 270.8 72.3 278.8 72.4 269.4 72.5 258.7 72.6 245.6 72.7 245.6 72.8 201.6 72.9 195.3 73.0 189.2 73.1 275.2 73.2 185.9 73.3 262.2 73.4 272.1 73.5 273.0 73.6 271.1 73.7 197.8 73.8 280.1 74.0 264.5 74.1 278.1 74.2 214.4 74.3 194.4 74.4 258.7 74.5 207.7 74.6 204.3 74.7 200.0 74.8 232.7 74.9 265.7 75.0 266.3 75.1 218.2 75.2 192.4 75.3 188.9 75.4 241.8 75.5 246.9 75.6 202.2 75.8 194.3 75.9 246.4 76.0 209.9 76.1 195.1 76.2 265.1 76.3 262.8 76.4 248.8 76.5 193.5 76.6 259.1 76.7 247.1 76.8 248.0 76.9 209.4 77.0 261.9 77.1 269.6 77.2 261.6 77.3 203.6 77.5 204.8 77.6 270.2 77.7 271.7 77.8 246.2 77.9 268.7 78.0 268.3 78.1 246.6 78.2 190.8 78.3 196.6 78.4 198.3 78.5 192.5 78.6 273.7 78.7 208.9 78.8 273.0 78.9 261.5 79.0 253.2 79.1 177.8 79.3 266.2 79.4 263.8 79.5 243.4 79.6 207.9 79.7 266.0 79.8 219.2 79.9 262.8 80.0 205.4 80.1 264.0 80.2 258.9 80.3 245.1 80.4 260.3 80.5 205.7 80.6 200.2 80.7 204.7 80.8 187.8 80.9 281.5 81.1 191.1 81.2 280.2 81.3 283.2 81.4 267.4 81.5 220.4 81.6 237.5 81.7 284.0 81.8 204.9 81.9 205.5 82.0 272.1 82.1 275.6 82.2 207.7 82.3 270.9 82.4 225.3 82.5 211.0 82.6 223.1 82.8 245.5 82.9 260.0 83.0 274.5 83.1 203.6 83.2 204.1 83.3 264.0 83.4 211.9 83.5 202.6 83.6 242.0 83.7 196.4 83.8 211.1 83.9 212.4 84.0 238.1 84.1 241.7 84.2 214.9 84.3 255.5 84.4 223.3 84.6 208.5 84.7 266.9 84.8 264.0 84.9 257.5 85.0 258.3 85.1 260.3 85.2 200.9 85.3 209.3 85.4 260.3 85.5 214.2 85.6 200.6 85.7 202.0 85.8 259.5 85.9 245.9 86.0 268.0 86.1 216.2 86.2 260.9 86.4 218.0 86.5 261.0 86.6 229.4 86.7 222.9 86.8 274.3 86.9 248.7 87.0 202.6 87.1 205.2 87.2 203.3 87.3 274.0 87.4 258.8 87.5 212.2 87.6 223.3 87.7 210.3 87.8 253.7 87.9 245.9 88.0 218.3 88.2 207.6 88.3 261.1 88.4 216.3 88.5 267.3 88.6 261.0 88.7 210.8 88.8 249.7 88.9 224.0 89.0 278.5 89.1 193.7 89.2 267.1 89.3 254.9 89.4 266.3 89.5 209.3 89.6 194.5 89.7 197.7 89.9 202.4 90.0 258.3 90.1 262.8 90.2 260.6 90.3 248.7 90.4 203.7 90.5 225.0 90.6 260.9 90.7 254.3 90.8 206.6 90.9 211.3 91.0 204.4 91.1 273.1 91.2 254.0 91.3 203.0 91.4 273.2 91.5 205.9 91.7 217.0 91.8 275.3 91.9 215.8 92.0 218.2 92.1 223.7 92.2 269.3 92.3 217.1 92.4 212.3 92.5 237.8 92.6 200.0 92.7 216.0 92.8 251.6 92.9 255.7 93.0 184.6 93.1 203.2 93.2 254.9 93.3 187.3 93.5 180.2 93.6 178.5 93.7 246.0 93.8 217.2 93.9 265.0 94.0 253.7 94.1 198.6 94.2 201.0 94.3 224.8 94.4 213.2 94.5 215.5 94.6 207.7 94.7 201.0 94.8 258.0 94.9 215.0 95.0 245.5 95.2 237.8 95.3 257.7 95.4 217.2 95.5 247.3 95.6 200.9 95.7 198.9 95.8 200.7 95.9 208.4 96.0 210.7 96.1 200.3 96.2 247.8 96.3 219.4 96.4 247.5 96.5 215.8 96.6 252.4 96.7 250.8 96.8 247.9 97.0 253.7 97.1 252.7 97.2 247.6 97.3 256.5 97.4 248.3 97.5 200.1 97.6 252.3 97.7 180.9 97.8 252.5 97.9 204.2 98.0 245.3 98.1 203.4 98.2 261.1 98.3 243.9 98.4 212.8 98.5 246.8 98.7 270.5 98.8 267.9 98.9 242.6 99.0 200.9 99.1 264.4 99.2 263.0 99.3 252.3 99.4 233.1 99.5 242.8 99.6 208.5 99.7 252.1 99.8 208.7 99.9 260.5 100.0 254.5 100.1 250.8 100.2 205.4 100.3 186.6 100.5 186.1 100.6 247.6 100.7 180.4 100.8 263.7 100.9 181.6 101.0 203.9 101.1 251.0 101.2 207.7 101.3 216.3 101.4 207.2 101.5 260.0 101.6 258.6 101.7 255.7 101.8 202.0 101.9 272.4 102.0 279.2 102.1 246.8 102.3 215.4 102.4 247.8 102.5 186.5 102.6 191.8 102.7 255.4 102.8 262.4 102.9 202.8 103.0 252.2 103.1 211.1 103.2 258.2 103.3 199.3 103.4 245.7 103.5 208.4 103.6 270.0 103.7 253.0 103.8 212.2 104.0 216.2 104.1 202.0 104.2 226.9 104.3 213.7 104.4 268.5 104.5 189.6 104.6 252.7 104.7 268.9 104.8 192.7 104.9 193.5 105.0 248.1 105.1 255.0 105.2 212.8 105.3 275.7 105.4 181.1 105.5 253.9 105.6 274.9 105.8 262.5 105.9 245.0 106.0 268.4 106.1 277.7 106.2 203.4 106.3 199.0 106.4 188.1 106.5 189.8 106.6 258.0 106.7 188.0 106.8 184.4 106.9 263.8 107.0 279.8 107.1 279.8 107.2 283.0 107.3 244.5 107.4 258.1 107.6 197.3 107.7 176.9 107.8 285.2 107.9 285.3 108.0 190.9 108.1 193.1 108.2 204.0 108.3 254.3 108.4 214.4 108.5 230.7 108.6 203.5 108.7 201.3 108.8 266.3 108.9 245.7 109.0 252.1 109.1 204.9 109.2 249.7 109.4 201.2 109.5 190.9 109.6 242.2 109.7 247.0 109.8 187.0 109.9 253.8 110.0 194.5 110.1 216.2 110.2 200.4 110.3 248.2 110.4 212.4 110.5 276.5 110.6 223.2 110.7 277.2 110.8 254.2 110.9 270.2 111.1 202.9 111.2 199.1 111.3 268.7 111.4 276.7 111.5 211.6 111.6 197.4 111.7 200.3 111.8 191.5 111.9 255.9 112.0 188.9 112.1 197.0 112.2 274.8 112.3 275.9 112.4 203.8 112.5 237.9 112.6 222.3 112.7 278.5 112.9 202.1 113.0 205.6 113.1 254.8 113.2 228.9 113.3 219.2 113.4 213.2 113.5 252.3 113.6 256.4 113.7 198.8 113.8 263.1 113.9 206.8 114.0 243.2 114.1 197.5 114.2 265.6 114.3 208.5 114.4 271.6 114.5 269.1 114.7 206.6 114.8 269.2 114.9 216.3 115.0 206.7 115.1 225.1 115.2 184.5 115.3 238.3 115.4 256.2 115.5 184.5 115.6 251.2 115.7 192.3 115.8 263.8 115.9 244.3 116.0 195.6 116.1 251.2 116.2 257.8 116.4 179.8 116.5 263.7 116.6 262.6 116.7 267.1 116.8 257.6 116.9 203.0 117.0 209.2 117.1 212.3 117.2 218.1 117.3 248.7 117.4 237.4 117.5 199.7 117.6 247.3 117.7 193.0 117.8 255.7 117.9 254.7 118.0 194.4 118.2 199.2 118.3 244.3 118.4 254.7 118.5 253.5 118.6 258.6 118.7 203.7 118.8 252.9 118.9 199.8 119.0 260.4 119.1 201.7 119.2 252.9 119.3 216.5 119.4 218.5 119.5 182.3 119.6 241.5 119.7 205.6 119.8 189.2 120.0 251.4 120.1 193.3 120.2 215.7 120.3 268.4 120.4 228.2 120.5 283.6 120.6 206.3 120.7 214.1 120.8 277.2 120.9 268.2 121.0 247.6 121.1 272.9 121.2 213.5 121.3 277.6 121.4 214.2 121.5 218.9 121.7 242.8 121.8 257.6 121.9 246.6 122.0 206.4 122.1 206.1 122.2 200.3 122.3 269.0 122.4 217.9 122.5 211.7 122.6 213.2 122.7 250.5 122.8 190.7 122.9 260.1 123.0 260.0 123.1 197.9 123.2 258.3 123.3 263.8 123.5 214.7 123.6 201.0 123.7 263.9 123.8 198.4 123.9 260.5 124.0 197.7 124.1 210.8 124.2 206.5 124.3 260.3 124.4 194.8 124.5 256.1 124.6 268.3 124.7 221.6 124.8 208.0 124.9 225.3 125.0 272.0 125.2 208.6 125.3 210.7 125.4 204.8 125.5 265.4 125.6 254.8 125.7 220.8 125.8 218.4 125.9 197.7 126.0 266.3 126.1 264.0 126.2 266.0 126.3 207.2 126.4 197.7 126.5 243.3 126.6 256.0 126.7 254.1 126.8 191.6 127.0 226.0 127.1 259.5 127.2 191.8 127.3 257.6 127.4 262.1 127.5 249.5 127.6 266.5 127.7 193.9 127.8 257.0 127.9 201.8 128.0 221.8 128.1 195.1 128.2 259.6 128.3 252.8 128.4 254.4 128.5 206.0 128.6 252.2 128.8 233.2 128.9 251.8 129.0 212.1 129.1 241.6 129.2 258.2 129.3 230.0 129.4 246.2 129.5 204.2 129.6 204.7 129.7 216.3 129.8 208.0 129.9 250.1 130.0 253.4 130.1 248.6 130.2 217.4 130.3 251.1 130.4 252.1 130.6 262.4 130.7 237.4 130.8 244.0 130.9 248.3 131.0 246.5 131.1 204.0 131.2 257.2 131.3 243.2 131.4 203.4 131.5 250.1 131.6 203.4 131.7 217.5 131.8 220.7 131.9 236.6 132.0 203.1 132.1 244.9 132.3 243.4 132.4 241.8 132.5 207.7 132.6 263.4 132.7 270.2 132.8 257.4 132.9 257.1 133.0 266.4 133.1 203.4 133.2 202.4 133.3 224.8 133.4 241.6 133.5 268.0 133.6 235.0 133.7 194.4 133.8 242.0 133.9 207.9 134.1 188.0 134.2 212.5 134.3 253.1 134.4 240.6 134.5 265.4 134.6 259.2 134.7 246.7 134.8 199.1 134.9 189.5 135.0 193.5 135.1 263.8 135.2 193.9 135.3 268.1 135.4 195.7 135.5 220.1 135.6 220.7 135.8 191.6 135.9 248.0 136.0 253.8 136.1 273.5 136.2 253.8 136.3 194.9 136.4 277.3 136.5 183.5 136.6 208.5 136.7 251.9 136.8 220.3 136.9 180.1 137.0 268.3 137.1 251.4 137.2 269.7 137.3 195.4 137.4 226.3 137.6 257.2 137.7 267.0 137.8 180.0 137.9 225.4 138.0 258.2 138.1 248.2 138.2 216.7 138.3 209.6 138.4 207.5 138.5 213.9 138.6 257.1 138.7 262.8 138.8 249.0 138.9 212.2 139.0 247.2 139.1 252.1 139.2 209.9 139.4 265.9 139.5 258.5 139.6 253.7 139.7 264.2 139.8 259.9 139.9 208.4 140.0 196.3 140.1 256.5 140.2 267.8 140.3 217.6 140.4 242.3 140.5 247.0 140.6 223.3 140.7 243.8 140.8 263.6 140.9 229.6 141.1 246.6 141.2 246.1 141.3 271.3 141.4 223.2 141.5 268.2 141.6 203.0 141.7 192.3 141.8 269.4 141.9 191.1 142.0 188.7 142.1 181.6 142.2 204.6 142.3 264.3 142.4 185.4 142.5 260.4 142.6 181.5 142.7 265.9 142.9 210.0 143.0 186.3 143.1 284.0 143.2 200.8 143.3 206.7 143.4 254.2 143.5 205.2 143.6 202.2 143.7 270.7 143.8 272.3 143.9 205.6 144.0 201.8 144.1 259.3 144.2 215.0 144.3 206.3 144.4 263.5 144.5 252.2 144.7 212.8 144.8 213.3 144.9 229.1 145.0 257.1 145.1 258.5 145.2 227.0 145.3 218.0 145.4 252.8 145.5 254.2 145.6 207.7 145.7 264.7 145.8 203.2 145.9 209.8 146.0 203.7 146.1 258.6 146.2 205.8 146.3 281.4 146.5 203.2 146.6 217.5 146.7 281.4 146.8 283.7 146.9 260.0 147.0 214.9 147.1 254.7 147.2 189.0 147.3 265.0 147.4 202.7 147.5 203.3 147.6 255.2 147.7 187.9 147.8 260.4 147.9 257.2 148.0 261.9 148.2 259.5 148.3 202.8 148.4 248.2 148.5 219.1 148.6 206.3 148.7 241.2 148.8 244.6 148.9 195.5 149.0 239.9 149.1 198.8 149.2 243.0 149.3 219.2 149.4 190.1 149.5 234.8 149.6 249.4 149.7 203.0 149.8 252.5 150.0 239.5 150.1 250.7 150.2 208.6 150.3 254.0 150.4 248.1 150.5 203.4 150.6 247.7 150.7 233.3 150.8 210.1 150.9 190.6 151.0 214.4 151.1 254.6 151.2 220.2 151.3 200.7 151.4 189.7 151.5 184.3 151.7 194.9 151.8 226.1 151.9 256.2 152.0 238.2 152.1 185.6 152.2 207.3 152.3 219.2 152.4 256.7 152.5 198.6 152.6 206.7 152.7 265.0 152.8 198.2 152.9 194.6 153.0 210.0 153.1 191.6 153.2 223.0 153.3 278.8 153.5 266.2 153.6 274.7 153.7 212.5 153.8 266.8 153.9 218.6 154.0 270.4 154.1 200.0 154.2 279.0 154.3 259.0 154.4 279.6 154.5 278.6 154.6 256.0 154.7 267.0 154.8 259.6 154.9 247.0 155.0 187.1 155.1 235.2 155.3 254.7 155.4 177.7 155.5 253.2 155.6 218.1 155.7 250.6 155.8 178.7 155.9 181.5 156.0 200.8 156.1 202.9 156.2 203.2 156.3 214.3 156.4 257.9 156.5 198.8 156.6 206.0 156.7 252.4 156.8 247.0 156.9 242.9 157.1 252.6 157.2 197.6 157.3 236.6 157.4 221.4 157.5 252.5 157.6 207.9 157.7 239.2 157.8 210.8 157.9 226.8 158.0 200.9 158.1 250.6 158.2 199.8 158.3 265.8 158.4 186.5 158.5 188.4 158.6 189.2 158.8 267.8 158.9 263.0 159.0 267.4 159.1 185.4 159.2 177.5 159.3 260.8 159.4 185.5 159.5 259.6 159.6 177.9 159.7 184.0 159.8 200.3 159.9 217.8 160.0 271.3 160.1 203.3 160.2 253.0 160.3 193.0 160.4 209.1 160.6 264.3 160.7 249.8 160.8 197.8 160.9 210.8 161.0 209.8 161.1 199.6 161.2 235.4 161.3 194.1 161.4 272.6 161.5 259.6 161.6 256.9 161.7 256.2 161.8 270.3 161.9 220.7 162.0 259.8 162.1 244.7 162.2 217.1 162.4 266.2 162.5 254.3 162.6 210.4 162.7 266.1 162.8 206.2 162.9 210.2 163.0 252.4 163.1 211.8 163.2 234.3 163.3 245.7 163.4 224.6 163.5 251.4 163.6 244.3 163.7 201.0 163.8 204.2 163.9 247.9 164.1 200.7 164.2 221.5 164.3 256.5 164.4 250.8 164.5 206.3 164.6 256.0 164.7 241.2 164.8 209.0 164.9 242.9 165.0 208.1 165.1 255.5 165.2 266.7 165.3 244.1 165.4 213.3 165.5 217.8 165.6 189.7 165.7 248.4 165.9 197.3 166.0 214.2 166.1 208.1 166.2 191.0 166.3 251.5 166.4 268.3 166.5 204.5 166.6 253.8 166.7 191.4 166.8 264.6 166.9 264.9 167.0 202.9 167.1 205.1 167.2 258.4 167.3 215.0 167.4 257.9 167.6 265.1 167.7 193.2 167.8 194.5 167.9 249.6 168.0 192.4 168.1 194.4 168.2 267.6 168.3 256.7 168.4 268.5 168.5 216.4 168.6 263.3 168.7 201.2 168.8 279.9 168.9 208.4 169.0 203.2 169.1 204.6 169.2 207.7 169.4 217.1 169.5 223.2 169.6 277.2 169.7 272.3 169.8 247.9 169.9 256.7 170.0 201.6 170.1 199.0 170.2 203.2 170.3 221.0 170.4 242.7 170.5 255.3 170.6 257.4 170.7 272.4 170.8 259.6 170.9 196.1 171.0 195.5 171.2 243.8 171.3 255.8 171.4 247.8 171.5 240.3 171.6 204.5 171.7 239.3 171.8 256.3 171.9 218.6 172.0 258.9 172.1 206.4 172.2 206.1 172.3 266.4 172.4 246.5 172.5 264.6 172.6 204.0 172.7 217.3 172.8 286.7 173.0 208.4 173.1 282.1 173.2 219.6 173.3 267.2 173.4 206.4 173.5 216.3 173.6 201.5 173.7 268.5 173.8 206.4 173.9 213.9 174.0 255.6 174.1 214.2 174.2 190.1 174.3 202.4 174.4 243.8 174.5 204.3 174.7 213.3 174.8 179.2 174.9 224.0 175.0 254.3 175.1 256.9 175.2 202.1 175.3 208.8 175.4 280.9 175.5 211.1 175.6 278.2 175.7 286.4 175.8 200.5 175.9 248.3 176.0 276.3 176.1 201.5 176.2 199.6 176.3 277.2 176.5 212.5 176.6 285.5 176.7 227.7 176.8 191.7 176.9 252.8 177.0 206.6 177.1 282.7 177.2 203.7 177.3 271.4 177.4 200.6 177.5 209.0 177.6 285.2 177.7 245.5 177.8 274.8 177.9 221.0 178.0 212.6 178.2 262.4 178.3 273.9 178.4 271.5 178.5 213.7 178.6 261.5 178.7 210.4 178.8 184.9 178.9 240.4 179.0 243.2 179.1 199.2 179.2 185.2 179.3 205.0 179.4 208.2 179.5 192.8 179.6 186.9 179.7 186.9 179.8 255.1 180.0 262.4 180.1 251.4 180.2 202.9 180.3 219.3 180.4 256.9 180.5 246.7 180.6 206.1 180.7 217.3 180.8 223.3 180.9 246.1 181.0 260.7 181.1 213.4 181.2 257.7 181.3 188.8 181.4 221.2 181.5 207.5 181.6 207.0 181.8 199.5 181.9 190.1 182.0 234.5 182.1 188.5 182.2 254.8 182.3 242.4 182.4 246.7 182.5 244.8 182.6 199.0 182.7 198.3 182.8 246.9 182.9 242.8 183.0 247.6 183.1 250.8 183.2 210.3 183.3 249.7 183.4 217.3 183.6 267.0 183.7 207.0 183.8 209.1 183.9 243.5 184.0 209.0 184.1 276.5 184.2 266.0 184.3 215.4 184.4 277.3 184.5 214.8 184.6 266.7 184.7 271.7 184.8 214.2 184.9 210.7 185.0 274.8 185.1 198.3 185.3 258.8 185.4 251.8 185.5 201.7 185.6 238.1 185.7 244.7 185.8 201.2 185.9 218.9 186.0 209.0 186.1 199.4 186.2 245.3 186.3 209.4 186.4 204.8 186.5 221.7 186.6 221.4 186.7 277.8 186.8 183.0 186.9 208.7 187.1 277.4 187.2 186.3 187.3 278.6 187.4 237.0 187.5 185.6 187.6 198.1 187.7 283.3 187.8 208.3 187.9 244.7 188.0 274.5 188.1 203.3 188.2 207.2 188.3 239.5 188.4 226.1 188.5 217.0 188.6 274.0 188.8 252.4 188.9 219.3 189.0 221.0 189.1 206.0 189.2 210.1 189.3 199.7 189.4 258.6 189.5 261.2 189.6 196.1 189.7 191.2 189.8 275.7 189.9 271.1 190.0 248.6 190.1 253.1 190.2 214.8 190.3 213.0 190.4 264.3 190.6 272.1 190.7 262.7 190.8 266.5 190.9 286.2 191.0 204.6 191.1 217.9 191.2 282.8 191.3 194.5 191.4 251.4 191.5 259.4 191.6 228.6 191.7 286.0 191.8 272.2 191.9 254.5 192.0 268.0 192.1 196.1 192.2 209.5 192.4 195.3 192.5 274.7 192.6 190.5 192.7 185.7 192.8 252.2 192.9 212.5 193.0 261.5 193.1 243.7 193.2 197.2 193.3 244.3 193.4 196.1 193.5 195.2 193.6 244.5 193.7 207.8 193.8 199.3 193.9 189.7 194.1 260.0 194.2 209.9 194.3 246.5 194.4 265.0 194.5 241.7 194.6 272.7 194.7 212.5 194.8 237.7 194.9 254.5 195.0 207.4 195.1 252.2 195.2 218.0 195.3 221.1 195.4 207.4 195.5 246.1 195.6 216.8 195.7 215.0 195.9 207.8 196.0 253.9 196.1 206.7 196.2 256.9 196.3 200.8 196.4 259.1 196.5 249.8 196.6 213.8 196.7 244.2 196.8 251.1 196.9 260.6 197.0 259.5 197.1 240.5 197.2 259.2 197.3 261.9 197.4 242.7 197.5 224.6 197.7 250.0 197.8 227.4 197.9 212.4 198.0 202.0 198.1 208.8 198.2 203.4 198.3 218.5 198.4 241.8 198.5 261.1 198.6 218.7 198.7 234.1 198.8 269.5 198.9 251.6 199.0 212.5 199.1 219.6 199.2 259.8 199.3 256.4 199.5 193.5 199.6 239.5 199.7 200.0 199.8 258.9 199.9 254.3 200.0 247.9 200.1 208.9 200.2 257.9 200.3 233.9 200.4 247.7 200.5 256.6 200.6 258.6 200.7 216.4 200.8 243.4 200.9 222.5 201.0 217.6 201.2 276.2 201.3 204.2 201.4 265.9 201.5 254.6 201.6 224.5 201.7 198.5 201.8 272.1 201.9 201.0 202.0 196.2 202.1 262.7 202.2 269.6 202.3 207.6 202.4 237.9 202.5 187.6 202.6 265.2 202.7 207.1 202.8 254.6 203.0 199.8 203.1 266.1 203.2 258.9 203.3 207.8 203.4 269.9 203.5 205.5 203.6 270.9 203.7 261.4 203.8 268.6 203.9 250.7 204.0 259.9 204.1 200.2 204.2 273.1 204.3 216.6 204.4 261.1 204.5 216.8 204.7 201.2 204.8 197.5 204.9 208.9 205.0 256.7 205.1 254.4 205.2 255.0 205.3 249.2 205.4 251.7 205.5 189.7 205.6 189.2 205.7 195.1 205.8 227.2 205.9 190.5 206.0 255.4 206.1 192.4 206.2 271.7 206.3 272.5 206.5 188.8 206.6 202.1 206.7 264.3 206.8 225.2 206.9 265.6 207.0 247.0 207.1 196.6 207.2 210.8 207.3 211.6 207.4 258.1 207.5 256.3 207.6 199.4 207.7 262.1 207.8 211.7 207.9 210.6 208.0 243.4 208.1 244.2 208.3 212.0 208.4 249.2 208.5 252.3 208.6 240.9 208.7 223.3 208.8 256.4 208.9 208.2 209.0 269.5 209.1 269.8 209.2 235.8 209.3 252.9 209.4 208.5 209.5 220.3 209.6 255.8 209.7 212.4 209.8 264.3 209.9 261.7 210.1 207.8 210.2 253.5 210.3 264.8 210.4 219.1 210.5 224.8 210.6 224.3 210.7 206.0 210.8 210.3 210.9 198.5 211.0 219.9 211.1 195.7 211.2 209.1 211.3 198.0 211.4 259.9 211.5 261.7 211.6 199.4 211.8 272.2 211.9 221.9 212.0 207.3 212.1 196.9 212.2 206.8 212.3 270.0 212.4 193.1 212.5 187.5 212.6 266.7 212.7 282.2 212.8 186.6 212.9 284.9 213.0 286.9 213.1 184.6 213.2 267.8 213.3 255.6 213.4 246.4 213.6 187.4 213.7 183.8 213.8 186.6 213.9 252.1 214.0 253.5 214.1 213.5 214.2 249.9 214.3 221.4 214.4 260.9 214.5 265.1 214.6 220.0 214.7 267.3 214.8 221.5 214.9 275.5 215.0 245.4 215.1 195.8 215.2 268.5 215.4 244.0 215.5 210.6 215.6 270.0 215.7 200.7 215.8 275.6 215.9 206.9 216.0 273.6 216.1 206.2 216.2 248.0 216.3 264.6 216.4 196.7 216.5 239.5 216.6 194.6 216.7 240.5 216.8 195.1 216.9 260.1 217.1 256.9 217.2 195.8 217.3 253.0 217.4 192.7 217.5 258.4 217.6 215.7 217.7 203.1 217.8 261.8 217.9 220.0 218.0 220.3 218.1 191.5 218.2 268.9 218.3 200.8 218.4 260.4 218.5 186.9 218.6 219.5 218.7 286.5 218.9 200.7 219.0 255.1 219.1 203.1 219.2 265.0 219.3 197.5 219.4 277.1 219.5 209.0 219.6 198.2 219.7 254.9 219.8 277.3 219.9 268.8 220.0 276.7 220.1 273.3 220.2 204.4 220.3 196.4 220.4 278.0 220.6 220.5 220.7 202.0 220.8 256.3 220.9 272.9 221.0 191.9 221.1 259.7 221.2 267.5 221.3 223.4 221.4 246.8 221.5 259.1 221.6 210.9 221.7 242.7 221.8 250.5 221.9 256.0 222.0 233.9 222.1 267.1 222.2 215.4 222.4 250.0 222.5 207.7 222.6 269.2 222.7 240.1 222.8 259.7 222.9 267.1 223.0 196.4 223.1 215.4 223.2 227.4 223.3 265.0 223.4 215.3 223.5 192.3 223.6 191.2 223.7 258.5 223.8 269.2 223.9 262.7 224.0 261.7 224.2 219.2 224.3 269.3 224.4 257.2 224.5 263.1 224.6 266.1 224.7 255.0 224.8 257.7 224.9 224.3 225.0 264.7 225.1 210.1 225.2 271.3 225.3 256.8 225.4 217.7 225.5 280.6 225.6 231.4 225.7 264.4 225.8 246.2 226.0 251.7 226.1 209.0 226.2 199.3 226.3 206.2 226.4 220.1 226.5 185.4 226.6 182.2 226.7 190.9 226.8 207.5 226.9 260.2 227.0 266.2 227.1 255.1 227.2 255.8 227.3 244.8 227.4 203.3 227.5 254.2 227.7 191.8 227.8 248.3 227.9 248.0 228.0 214.0 228.1 191.0 228.2 242.6 228.3 248.6 228.4 246.6 228.5 187.9 228.6 230.6 228.7 240.8 228.8 244.1 228.9 247.0 229.0 218.3 229.1 190.8 229.2 196.4 229.3 246.3 229.5 190.5 229.6 233.2 229.7 187.4 229.8 255.7 229.9 258.1 230.0 178.9 230.1 179.3 230.2 205.3 230.3 229.1 230.4 253.8 230.5 204.8 230.6 246.9 230.7 212.7 230.8 211.7 230.9 180.1 231.0 237.6 231.2 240.3 231.3 268.0 231.4 199.2 231.5 271.4 231.6 195.3 231.7 187.6 231.8 259.2 231.9 264.5 232.0 188.8 232.1 259.3 232.2 248.2 232.3 196.5 232.4 204.6 232.5 205.6 232.6 213.9 232.7 269.4 232.8 265.9 233.0 199.4 233.1 224.4 233.2 221.2 233.3 206.4 233.4 221.8 233.5 199.3 233.6 206.7 233.7 200.3 233.8 271.3 233.9 211.1 234.0 204.3 234.1 209.8 234.2 217.2 234.3 229.7 234.4 258.6 234.5 204.6 234.6 254.8 234.8 255.3 234.9 260.6 235.0 198.1 235.1 199.6 235.2 241.6 235.3 250.1 235.4 230.5 235.5 208.7 235.6 239.2 235.7 205.9 235.8 248.7 235.9 204.7 236.0 270.7 236.1 248.1 236.2 264.4 236.3 197.6 236.4 205.7 236.6 254.2 236.7 215.9 236.8 194.7 236.9 189.2 237.0 261.8 237.1 189.8 237.2 259.4 237.3 252.0 237.4 253.5 237.5 179.1 237.6 241.0 237.7 230.5 237.8 244.3 237.9 211.8 238.0 198.4 238.1 265.5 238.3 264.7 238.4 227.1 238.5 256.3 238.6 215.7 238.7 279.8 238.8 271.9 238.9 180.2 239.0 275.4 239.1 265.6 239.2 285.3 239.3 210.3 239.4 270.2 239.5 248.9 239.6 188.9 239.7 203.7 239.8 204.0 239.9 246.7 240.1 213.3 240.2 223.0 240.3 207.7 240.4 226.3 240.5 258.1 240.6 199.5 240.7 202.5 240.8 198.9 240.9 268.9 241.0 218.5 241.1 200.1 241.2 212.9 241.3 203.5 241.4 203.6 241.5 229.6 241.6 193.5 241.8 177.6 241.9 264.1 242.0 258.3 242.1 247.2 242.2 256.6 242.3 269.4 242.4 262.3 242.5 251.0 242.6 193.9 242.7 194.2 242.8 208.8 242.9 257.2 243.0 263.9 243.1 270.2 243.2 205.1 243.3 238.0 243.4 206.7 243.6 253.9 243.7 214.2 243.8 202.6 243.9 198.2 244.0 214.0 244.1 209.9 244.2 211.0 244.3 243.4 244.4 267.1 244.5 249.2 244.6 240.2 244.7 204.0 244.8 259.5 244.9 269.2 245.0 282.5 245.1 276.7 245.2 285.6 245.4 190.5 245.5 248.1 245.6 202.0 245.7 206.1 245.8 243.2 245.9 259.6 246.0 183.9 246.1 283.9 246.2 248.6 246.3 262.9 246.4 244.2 246.5 263.4 246.6 243.8 246.7 180.8 246.8 240.7 246.9 194.6 247.1 237.0 247.2 264.4 247.3 215.6 247.4 221.5 247.5 190.1 247.6 189.5 247.7 270.2 247.8 267.6 247.9 268.9 248.0 212.2 248.1 266.8 248.2 214.3 248.3 254.1 248.4 199.1 248.5 226.7 248.6 264.5 248.7 194.4 248.9 186.6 249.0 255.7 249.1 257.6 249.2 208.3 249.3 239.8 249.4 257.2 249.5 190.0 249.6 192.8 249.7 203.1 249.8 278.9 249.9 280.8 250.0 199.9 250.1 185.7 250.2 204.5 250.3 208.1 250.4 275.0 250.5 210.1 250.7 274.1 250.8 253.7 250.9 251.1 251.0 194.8 251.1 255.8 251.2 260.8 251.3 194.9 251.4 243.3 251.5 239.8 251.6 182.8 251.7 203.0 251.8 201.8 251.9 185.8 252.0 207.3 252.1 213.9 252.2 200.2 252.3 245.4 252.5 250.4 252.6 255.0 252.7 252.6 252.8 210.7 252.9 243.6 253.0 221.3 253.1 247.3 253.2 210.2 253.3 203.6 253.4 270.5 253.5 213.9 253.6 209.7 253.7 210.1 253.8 207.6 253.9 239.6 254.0 206.2 254.2 279.9 254.3 216.6 254.4 258.5 254.5 221.6 254.6 262.0 254.7 260.5 254.8 241.1 254.9 219.9 255.0 254.0"/>
<path stroke="#c80d33" d="M43.0 235.0L43.1 244.5 43.2 221.6 43.3 240.8 43.4 221.2 43.5 219.8 43.6 219.8 43.7 232.2 43.8 224.6 44.0 232.5 44.1 238.0 44.2 214.6 44.3 239.4 44.4 241.2 44.5 216.7 44.6 240.1 44.7 243.5 44.8 243.3 44.9 219.7 45.0 226.1 45.1 232.9 45.2 237.5 45.3 235.3 45.4 217.2 45.5 241.5 45.6 241.2 45.8 239.3 45.9 242.5 46.0 216.6 46.1 213.4 46.2 220.4 46.3 217.9 46.4 235.4 46.5 239.3 46.6 236.1 46.7 221.1 46.8 236.4 46.9 236.4 47.0 220.8 47.1 218.5 47.2 242.0 47.3 214.4 47.5 215.0 47.6 238.8 47.7 238.5 47.8 217.8 47.9 235.7 48.0 218.9 48.1 215.2 48.2 225.0 48.3 236.3 48.4 215.0 48.5 222.4 48.6 240.9 48.7 216.7 48.8 243.7 48.9 220.7 49.0 236.5 49.1 235.2 49.3 238.7 49.4 222.5 49.5 225.5 49.6 236.2 49.7 223.6 49.8 223.6 49.9 221.9 50.0 223.1 50.1 222.0 50.2 235.8 50.3 224.4 50.4 235.6 50.5 221.9 50.6 226.9 50.7 216.0 50.8 220.0 51.0 214.5 51.1 220.5 51.2 225.1 51.3 230.2 51.4 213.5 51.5 240.1 51.6 244.3 51.7 213.8 51.8 213.2 51.9 240.6 52.0 235.3 52.1 216.6 52.2 225.5 52.3 223.8 52.4 225.5 52.5 225.9 52.6 224.7 52.8 219.3 52.9 234.0 53.0 223.6 53.1 237.3 53.2 234.2 53.3 239.7 53.4 221.1 53.5 240.1 53.6 218.3 53.7 238.0 53.8 247.0 53.9 243.2 54.0 244.4 54.1 242.8 54.2 214.6 54.3 248.2 54.4 249.0 54.6 242.1 54.7 238.8 54.8 227.2 54.9 241.5 55.0 226.2 55.1 238.1 55.2 238.8 55.3 220.2 55.4 238.9 55.5 218.9 55.6 223.3 55.7 221.0 55.8 233.3 55.9 235.3 56.0 236.2 56.1 235.7 56.2 218.2 56.4 220.6 56.5 238.0 56.6 217.6 56.7 237.7 56.8 240.1 56.9 235.1 57.0 235.4 57.1 226.8 57.2 239.0 57.3 223.1 57.4 226.0 57.5 237.0 57.6 225.8 57.7 224.8 57.8 236.5 57.9 239.5 58.1 238.8 58.2 233.5 58.3 234.2 58.4 216.3 58.5 214.6 58.6 219.4 58.7 239.8 58.8 239.6 58.9 235.1 59.0 233.6 59.1 243.9 59.2 217.3 59.3 217.2 59.4 223.3 59.5 243.3 59.6 243.9 59.7 233.4 59.9 245.7 60.0 220.1 60.1 233.5 60.2 238.3 60.3 239.2 60.4 221.3 60.5 234.6 60.6 217.2 60.7 239.8 60.8 224.1 60.9 217.4 61.0 238.2 61.1 216.9 61.2 233.9 61.3 219.2 61.4 237.5 61.5 222.3 61.7 238.7 61.8 235.4 61.9 238.2 62.0 219.9 62.1 235.4 62.2 221.0 62.3 235.5 62.4 233.4 62.5 234.8 62.6 235.8 62.7 242.9 62.8 221.8 62.9 236.0 63.0 244.3 63.1 242.6 63.2 244.4 63.4 238.7 63.5 239.1 63.6 234.7 63.7 220.8 63.8 218.9 63.9 217.9 64.0 234.4 64.1 216.2 64.2 216.4 64.3 235.8 64.4 217.3 64.5 237.5 64.6 218.4 64.7 233.5 64.8 221.4 64.9 216.5 65.0 223.2 65.2 225.1 65.3 221.6 65.4 234.5 65.5 234.4 65.6 222.5 65.7 241.4 65.8 215.2 65.9 219.0 66.0 243.9 66.1 222.0 66.2 239.7 66.3 222.1 66.4 221.3 66.5 235.4 66.6 236.5 66.7 239.1 66.8 237.5 67.0 239.3 67.1 240.5 67.2 240.5 67.3 236.2 67.4 240.0 67.5 224.3 67.6 247.0 67.7 246.9 67.8 220.0 67.9 242.6 68.0 215.1 68.1 241.6 68.2 230.8 68.3 237.9 68.4 230.6 68.5 232.4 68.7 238.5 68.8 225.1 68.9 221.9 69.0 235.5 69.1 220.1 69.2 220.0 69.3 224.7 69.4 220.5 69.5 224.8 69.6 238.9 69.7 214.9 69.8 243.4 69.9 214.8 70.0 235.9 70.1 212.2 70.2 240.9 70.3 224.1 70.5 218.6 70.6 219.6 70.7 221.8 70.8 245.6 70.9 239.0 71.0 220.9 71.1 219.7 71.2 220.3 71.3 247.8 71.4 244.3 71.5 219.8 71.6 236.6 71.7 224.1 71.8 223.1 71.9 233.5 72.0 223.6 72.2 223.3 72.3 222.2 72.4 233.9 72.5 233.7 72.6 233.4 72.7 219.5 72.8 228.0 72.9 225.4 73.0 222.5 73.1 216.7 73.2 231.5 73.3 242.3 73.4 223.2 73.5 242.9 73.6 222.7 73.7 216.0 73.8 216.9 74.0 220.9 74.1 226.5 74.2 243.3 74.3 237.7 74.4 239.7 74.5 219.9 74.6 210.1 74.7 241.8 74.8 241.4 74.9 209.1 75.0 212.0 75.1 239.1 75.2 223.6 75.3 238.2 75.4 221.8 75.5 240.6 75.6 236.5 75.8 217.7 75.9 217.6 76.0 222.6 76.1 236.9 76.2 234.7 76.3 227.0 76.4 215.0 76.5 230.8 76.6 234.7 76.7 222.5 76.8 238.8 76.9 237.0 77.0 214.2 77.1 216.6 77.2 211.3 77.3 221.7 77.5 235.1 77.6 238.1 77.7 233.7 77.8 236.8 77.9 235.0 78.0 236.1 78.1 219.2 78.2 225.6 78.3 236.2 78.4 239.6 78.5 218.0 78.6 217.3 78.7 228.5 78.8 216.2 78.9 240.7 79.0 243.4 79.1 238.1 79.3 237.8 79.4 220.5 79.5 239.7 79.6 246.7 79.7 240.7 79.8 240.8 79.9 244.9 80.0 246.9 80.1 240.2 80.2 244.2 80.3 245.2 80.4 244.5 80.5 218.8 80.6 217.6 80.7 226.1 80.8 245.8 80.9 233.6 81.1 240.6 81.2 220.6 81.3 213.4 81.4 239.0 81.5 219.5 81.6 234.0 81.7 217.7 81.8 243.5 81.9 242.0 82.0 242.7 82.1 219.1 82.2 231.9 82.3 222.4 82.4 249.6 82.5 222.9 82.6 216.6 82.8 244.6 82.9 245.9 83.0 221.7 83.1 216.5 83.2 244.6 83.3 243.2 83.4 246.4 83.5 242.5 83.6 223.8 83.7 240.5 83.8 219.5 83.9 234.6 84.0 224.4 84.1 238.2 84.2 223.9 84.3 223.0 84.4 222.4 84.6 221.6 84.7 243.8 84.8 218.8 84.9 234.5 85.0 218.7 85.1 223.5 85.2 239.4 85.3 219.0 85.4 234.5 85.5 222.3 85.6 218.1 85.7 244.1 85.8 222.6 85.9 236.6 86.0 236.2 86.1 219.4 86.2 233.4 86.4 221.8 86.5 242.3 86.6 238.9 86.7 216.6 86.8 240.1 86.9 223.7 87.0 237.9 87.1 218.6 87.2 218.6 87.3 240.3 87.4 240.9 87.5 238.4 87.6 215.2 87.7 239.9 87.8 213.4 87.9 235.5 88.0 233.6 88.2 211.1 88.3 233.2 88.4 214.4 88.5 236.3 88.6 245.7 88.7 243.7 88.8 239.3 88.9 223.5 89.0 236.9 89.1 211.5 89.2 215.5 89.3 219.1 89.4 216.1 89.5 213.6 89.6 216.1 89.7 216.7 89.9 215.0 90.0 217.1 90.1 242.0 90.2 235.8 90.3 224.1 90.4 220.1 90.5 242.2 90.6 226.7 90.7 218.3 90.8 233.2 90.9 224.0 91.0 235.0 91.1 218.4 91.2 219.6 91.3 234.9 91.4 231.4 91.5 234.6 91.7 234.7 91.8 230.9 91.9 237.6 92.0 234.9 92.1 225.2 92.2 220.3 92.3 224.7 92.4 219.0 92.5 219.6 92.6 230.3 92.7 232.6 92.8 223.1 92.9 213.3 93.0 237.7 93.1 213.2 93.2 238.3 93.3 212.6 93.5 212.5 93.6 211.8 93.7 237.7 93.8 242.0 93.9 248.0 94.0 233.4 94.1 233.8 94.2 247.3 94.3 246.4 94.4 210.2 94.5 210.5 94.6 235.7 94.7 213.3 94.8 221.8 94.9 209.3 95.0 212.0 95.2 210.7 95.3 210.6 95.4 235.0 95.5 230.9 95.6 232.0 95.7 239.5 95.8 218.3 95.9 220.0 96.0 217.9 96.1 219.4 96.2 219.8 96.3 234.2 96.4 241.2 96.5 226.6 96.6 221.1 96.7 239.4 96.8 213.6 97.0 244.8 97.1 226.1 97.2 246.7 97.3 237.2 97.4 237.8 97.5 242.2 97.6 242.3 97.7 245.5 97.8 239.2 97.9 243.7 98.0 219.8 98.1 240.2 98.2 217.0 98.3 216.3 98.4 223.8 98.5 237.8 98.7 214.4 98.8 219.6 98.9 219.7 99.0 240.5 99.1 222.5 99.2 223.4 99.3 222.4 99.4 222.4 99.5 221.6 99.6 226.1 99.7 221.5 99.8 243.6 99.9 240.2 100.0 231.7 100.1 242.0 100.2 220.6 100.3 213.9 100.5 238.8 100.6 213.2 100.7 232.2 100.8 218.0 100.9 236.7 101.0 234.9 101.1 231.4 101.2 217.3 101.3 235.3 101.4 215.2 101.5 219.9 101.6 216.8 101.7 234.5 101.8 217.3 101.9 235.9 102.0 235.1 102.1 224.1 102.3 240.9 102.4 224.4 102.5 222.1 102.6 223.5 102.7 225.0 102.8 238.8 102.9 222.4 103.0 248.6 103.1 244.4 103.2 215.7 103.3 216.2 103.4 237.1 103.5 228.4 103.6 224.4 103.7 219.9 103.8 217.5 104.0 240.0 104.1 238.0 104.2 238.1 104.3 235.5 104.4 218.0 104.5 220.4 104.6 235.2 104.7 220.2 104.8 217.5 104.9 218.2 105.0 217.2 105.1 217.4 105.2 217.5 105.3 235.6 105.4 220.8 105.5 220.3 105.6 242.5 105.8 241.8 105.9 220.0 106.0 221.1 106.1 222.4 106.2 239.8 106.3 215.9 106.4 240.3 106.5 242.7 106.6 225.1 106.7 233.3 106.8 239.7 106.9 238.0 107.0 238.0 107.1 224.4 107.2 222.0 107.3 243.4 107.4 219.1 107.6 237.7 107.7 219.8 107.8 221.6 107.9 224.3 108.0 218.6 108.1 214.5 108.2 247.0 108.3 247.9 108.4 219.7 108.5 218.3 108.6 211.7 108.7 238.5 108.8 213.2 108.9 213.6 109.0 246.3 109.1 237.2 109.2 237.5 109.4 236.8 109.5 237.4 109.6 238.1 109.7 237.4 109.8 236.7 109.9 239.3 110.0 224.2 110.1 239.0 110.2 226.2 110.3 240.8 110.4 226.1 110.5 239.0 110.6 226.0 110.7 223.5 110.8 241.8 110.9 224.1 111.1 224.0 111.2 240.7 111.3 214.1 111.4 244.4 111.5 223.2 111.6 245.9 111.7 221.1 111.8 221.2 111.9 220.4 112.0 214.2 112.1 241.3 112.2 247.7 112.3 232.3 112.4 224.3 112.5 245.7 112.6 216.9 112.7 216.3 112.9 220.3 113.0 215.5 113.1 217.0 113.2 240.0 113.3 214.8 113.4 210.7 113.5 235.8 113.6 211.7 113.7 222.8 113.8 213.6 113.9 213.1 114.0 231.7 114.1 213.7 114.2 213.3 114.3 217.5 114.4 231.5 114.5 234.5 114.7 235.7 114.8 245.7 114.9 218.5 115.0 214.3 115.1 214.0 115.2 245.3 115.3 236.1 115.4 217.5 115.5 218.2 115.6 219.1 115.7 218.0 115.8 233.8 115.9 220.7 116.0 222.7 116.1 237.4 116.2 232.9 116.4 223.3 116.5 227.6 116.6 240.0 116.7 239.1 116.8 238.6 116.9 240.4 117.0 242.0 117.1 239.4 117.2 239.6 117.3 238.7 117.4 223.3 117.5 233.4 117.6 222.4 117.7 219.5 117.8 234.4 117.9 221.3 118.0 240.8 118.2 242.3 118.3 223.9 118.4 240.7 118.5 222.5 118.6 215.7 118.7 237.1 118.8 214.9 118.9 233.0 119.0 235.5 119.1 234.8 119.2 224.7 119.3 235.9 119.4 221.8 119.5 240.1 119.6 243.7 119.7 242.3 119.8 220.0 120.0 239.1 120.1 245.5 120.2 222.3 120.3 216.9 120.4 215.4 120.5 216.9 120.6 226.0 120.7 231.8 120.8 237.5 120.9 222.2 121.0 213.6 121.1 238.0 121.2 232.1 121.3 237.2 121.4 240.7 121.5 217.6 121.7 210.7 121.8 226.0 121.9 214.9 122.0 241.9 122.1 238.2 122.2 215.4 122.3 219.1 122.4 239.4 122.5 219.8 122.6 236.4 122.7 240.8 122.8 221.9 122.9 234.6 123.0 217.2 123.1 238.7 123.2 244.4 123.3 214.8 123.5 222.6 123.6 232.2 123.7 239.1 123.8 237.8 123.9 243.3 124.0 243.8 124.1 239.5 124.2 218.2 124.3 240.2 124.4 221.5 124.5 218.7 124.6 219.6 124.7 240.3 124.8 216.1 124.9 225.3 125.0 217.3 125.2 239.2 125.3 226.9 125.4 218.5 125.5 248.5 125.6 219.6 125.7 247.1 125.8 218.5 125.9 236.8 126.0 235.8 126.1 220.5 126.2 221.9 126.3 236.1 126.4 219.1 126.5 218.1 126.6 212.9 126.7 235.8 126.8 215.6 127.0 216.5 127.1 217.8 127.2 242.1 127.3 241.6 127.4 217.5 127.5 220.7 127.6 221.3 127.7 222.2 127.8 219.8 127.9 237.9 128.0 221.5 128.1 236.5 128.2 220.0 128.3 220.2 128.4 216.2 128.5 237.9 128.6 217.0 128.8 224.1 128.9 211.8 129.0 217.6 129.1 234.2 129.2 234.8 129.3 214.8 129.4 216.8 129.5 238.1 129.6 243.7 129.7 224.3 129.8 221.4 129.9 236.8 130.0 221.4 130.1 239.8 130.2 228.7 130.3 223.3 130.4 221.1 130.6 244.1 130.7 222.8 130.8 236.1 130.9 218.7 131.0 240.9 131.1 241.2 131.2 245.2 131.3 216.4 131.4 216.4 131.5 232.7 131.6 245.3 131.7 225.9 131.8 215.6 131.9 241.4 132.0 215.8 132.1 235.9 132.3 233.9 132.4 219.3 132.5 227.9 132.6 217.7 132.7 211.2 132.8 244.0 132.9 213.0 133.0 236.3 133.1 237.7 133.2 237.1 133.3 221.6 133.4 217.5 133.5 234.7 133.6 220.0 133.7 217.8 133.8 227.9 133.9 238.3 134.1 219.7 134.2 235.9 134.3 218.0 134.4 234.1 134.5 234.5 134.6 235.7 134.7 236.2 134.8 223.1 134.9 215.8 135.0 234.8 135.1 241.3 135.2 241.0 135.3 238.1 135.4 218.8 135.5 219.3 135.6 219.7 135.8 235.7 135.9 219.5 136.0 221.4 136.1 242.9 136.2 231.4 136.3 234.6 136.4 239.6 136.5 235.3 136.6 234.4 136.7 211.2 136.8 212.0 136.9 225.8 137.0 213.1 137.1 245.7 137.2 232.0 137.3 238.7 137.4 240.3 137.6 239.6 137.7 241.5 137.8 237.2 137.9 219.7 138.0 237.4 138.1 221.6 138.2 221.4 138.3 227.5 138.4 225.8 138.5 222.3 138.6 235.9 138.7 233.5 138.8 235.2 138.9 238.9 139.0 223.5 139.1 220.0 139.2 228.7 139.4 245.2 139.5 219.8 139.6 222.6 139.7 220.8 139.8 226.4 139.9 243.7 140.0 233.8 140.1 219.1 140.2 219.2 140.3 224.9 140.4 242.8 140.5 219.1 140.6 238.8 140.7 221.3 140.8 235.7 140.9 219.9 141.1 222.6 141.2 223.2 141.3 233.5 141.4 220.1 141.5 232.9 141.6 217.8 141.7 220.5 141.8 235.1 141.9 235.4 142.0 232.2 142.1 220.8 142.2 220.5 142.3 233.2 142.4 223.5 142.5 234.9 142.6 223.8 142.7 222.5 142.9 224.4 143.0 234.4 143.1 233.2 143.2 237.6 143.3 239.4 143.4 233.7 143.5 231.4 143.6 221.1 143.7 245.4 143.8 240.0 143.9 239.1 144.0 237.8 144.1 244.5 144.2 241.8 144.3 218.7 144.4 217.4 144.5 220.4 144.7 239.6 144.8 218.0 144.9 238.2 145.0 221.1 145.1 239.5 145.2 236.5 145.3 239.1 145.4 239.8 145.5 238.1 145.6 239.2 145.7 225.9 145.8 234.7 145.9 213.6 146.0 216.3 146.1 235.7 146.2 237.6 146.3 224.0 146.5 224.8 146.6 213.7 146.7 224.4 146.8 211.8 146.9 221.0 147.0 214.1 147.1 240.3 147.2 224.8 147.3 216.2 147.4 215.6 147.5 240.8 147.6 215.0 147.7 245.5 147.8 221.8 147.9 215.9 148.0 222.9 148.2 219.3 148.3 244.5 148.4 221.7 148.5 241.3 148.6 235.9 148.7 222.3 148.8 237.3 148.9 219.9 149.0 242.0 149.1 236.2 149.2 216.8 149.3 214.9 149.4 215.6 149.5 236.7 149.6 236.2 149.7 237.3 149.8 226.7 150.0 247.8 150.1 225.5 150.2 224.6 150.3 241.2 150.4 222.1 150.5 210.4 150.6 219.0 150.7 238.6 150.8 217.8 150.9 226.3 151.0 211.6 151.1 216.4 151.2 220.7 151.3 238.5 151.4 226.8 151.5 236.4 151.7 222.4 151.8 244.0 151.9 243.6 152.0 215.5 152.1 240.8 152.2 220.2 152.3 238.8 152.4 238.8 152.5 218.5 152.6 237.1 152.7 222.9 152.8 242.5 152.9 241.2 153.0 237.6 153.1 225.0 153.2 220.8 153.3 220.8 153.5 234.4 153.6 227.7 153.7 221.3 153.8 233.2 153.9 238.4 154.0 231.6 154.1 215.2 154.2 242.4 154.3 214.5 154.4 238.4 154.5 240.2 154.6 225.3 154.7 238.6 154.8 242.1 154.9 213.5 155.0 231.9 155.1 221.2 155.3 217.3 155.4 235.4 155.5 215.0 155.6 232.0 155.7 234.3 155.8 215.4 155.9 231.4 156.0 221.2 156.1 220.9 156.2 237.6 156.3 241.2 156.4 239.5 156.5 215.3 156.6 232.8 156.7 219.8 156.8 230.8 156.9 239.7 157.1 224.4 157.2 219.0 157.3 221.4 157.4 236.4 157.5 219.9 157.6 242.4 157.7 226.5 157.8 242.3 157.9 234.3 158.0 216.7 158.1 215.6 158.2 232.1 158.3 233.8 158.4 236.7 158.5 219.6 158.6 224.0 158.8 216.3 158.9 237.1 159.0 220.0 159.1 234.2 159.2 215.3 159.3 234.9 159.4 224.4 159.5 242.3 159.6 236.1 159.7 218.9 159.8 224.9 159.9 249.0 160.0 243.4 160.1 223.9 160.2 222.1 160.3 218.2 160.4 245.5 160.6 249.5 160.7 217.0 160.8 217.6 160.9 238.8 161.0 233.8 161.1 217.3 161.2 242.1 161.3 240.5 161.4 218.5 161.5 214.5 161.6 235.3 161.7 242.6 161.8 236.2 161.9 232.7 162.0 216.8 162.1 221.9 162.2 238.1 162.4 237.9 162.5 246.3 162.6 215.6 162.7 217.4 162.8 215.2 162.9 214.2 163.0 243.0 163.1 224.1 163.2 223.9 163.3 237.4 163.4 217.0 163.5 216.6 163.6 222.3 163.7 237.0 163.8 216.6 163.9 234.2 164.1 236.7 164.2 216.5 164.3 237.2 164.4 236.9 164.5 231.3 164.6 236.7 164.7 238.1 164.8 220.3 164.9 221.2 165.0 239.2 165.1 218.6 165.2 214.9 165.3 240.8 165.4 216.8 165.5 232.8 165.6 238.6 165.7 236.5 165.9 217.4 166.0 231.8 166.1 212.2 166.2 232.1 166.3 235.3 166.4 214.2 166.5 218.6 166.6 222.7 166.7 225.5 166.8 222.0 166.9 219.0 167.0 243.8 167.1 244.7 167.2 243.6 167.3 245.7 167.4 217.3 167.6 218.0 167.7 242.4 167.8 239.7 167.9 219.9 168.0 247.2 168.1 218.4 168.2 236.8 168.3 221.7 168.4 226.6 168.5 213.1 168.6 239.7 168.7 212.3 168.8 231.0 168.9 225.9 169.0 234.7 169.1 240.0 169.2 241.5 169.4 225.5 169.5 216.5 169.6 238.4 169.7 210.6 169.8 236.6 169.9 215.0 170.0 238.5 170.1 239.0 170.2 225.2 170.3 209.8 170.4 217.9 170.5 220.6 170.6 215.2 170.7 215.4 170.8 214.6 170.9 237.0 171.0 242.2 171.2 222.0 171.3 241.2 171.4 221.0 171.5 236.9 171.6 238.6 171.7 210.3 171.8 222.7 171.9 246.9 172.0 214.5 172.1 222.2 172.2 234.6 172.3 240.6 172.4 235.6 172.5 222.6 172.6 226.0 172.7 221.8 172.8 237.0 173.0 237.3 173.1 237.8 173.2 237.9 173.3 220.9 173.4 246.1 173.5 219.0 173.6 219.0 173.7 248.2 173.8 246.2 173.9 240.2 174.0 219.0 174.1 242.9 174.2 247.0 174.3 219.3 174.4 217.8 174.5 230.7 174.7 221.6 174.8 220.5 174.9 233.7 175.0 234.9 175.1 240.7 175.2 220.4 175.3 215.2 175.4 242.4 175.5 238.8 175.6 218.9 175.7 220.9 175.8 216.0 175.9 221.4 176.0 242.4 176.1 231.9 176.2 238.2 176.3 219.2 176.5 216.4 176.6 235.5 176.7 218.0 176.8 238.4 176.9 236.1 177.0 243.4 177.1 241.9 177.2 244.0 177.3 217.1 177.4 235.4 177.5 219.7 177.6 234.2 177.7 221.3 177.8 219.6 177.9 224.4 178.0 223.3 178.2 226.4 178.3 241.8 178.4 209.6 178.5 244.5 178.6 215.7 178.7 219.5 178.8 219.0 178.9 214.3 179.0 218.1 179.1 238.6 179.2 215.8 179.3 225.4 179.4 232.3 179.5 215.4 179.6 215.6 179.7 236.4 179.8 230.6 180.0 219.8 180.1 236.6 180.2 234.4 180.3 221.8 180.4 235.7 180.5 221.2 180.6 223.8 180.7 220.0 180.8 213.0 180.9 215.6 181.0 241.2 181.1 240.7 181.2 241.2 181.3 217.7 181.4 240.5 181.5 217.7 181.6 238.1 181.8 215.9 181.9 212.8 182.0 217.0 182.1 241.8 182.2 233.8 182.3 243.1 182.4 218.0 182.5 218.8 182.6 220.0 182.7 226.5 182.8 220.6 182.9 222.4 183.0 236.2 183.1 237.0 183.2 217.5 183.3 237.6 183.4 241.5 183.6 239.9 183.7 225.5 183.8 219.7 183.9 238.6 184.0 234.7 184.1 222.8 184.2 236.6 184.3 238.0 184.4 233.9 184.5 223.0 184.6 216.6 184.7 239.9 184.8 241.2 184.9 220.5 185.0 221.2 185.1 223.5 185.3 215.4 185.4 216.7 185.5 237.7 185.6 216.2 185.7 213.5 185.8 238.7 185.9 221.1 186.0 235.4 186.1 224.5 186.2 223.2 186.3 222.2 186.4 220.1 186.5 221.0 186.6 232.2 186.7 238.1 186.8 218.0 186.9 218.3 187.1 234.6 187.2 219.9 187.3 234.5 187.4 213.9 187.5 235.5 187.6 216.8 187.7 218.7 187.8 219.4 187.9 210.4 188.0 214.5 188.1 245.5 188.2 209.6 188.3 237.9 188.4 241.7 188.5 245.4 188.6 246.8 188.8 212.5 188.9 212.7 189.0 243.0 189.1 225.7 189.2 232.9 189.3 221.0 189.4 237.8 189.5 220.2 189.6 238.0 189.7 242.9 189.8 225.8 189.9 222.8 190.0 220.5 190.1 224.1 190.2 219.4 190.3 236.0 190.4 238.6 190.6 221.4 190.7 233.9 190.8 219.7 190.9 236.4 191.0 241.2 191.1 239.1 191.2 218.8 191.3 214.6 191.4 240.6 191.5 216.9 191.6 219.1 191.7 237.5 191.8 216.7 191.9 234.5 192.0 215.9 192.1 237.4 192.2 236.9 192.4 241.1 192.5 242.3 192.6 223.7 192.7 237.9 192.8 244.0 192.9 228.8 193.0 223.6 193.1 224.2 193.2 222.1 193.3 240.9 193.4 242.5 193.5 240.7 193.6 217.5 193.7 220.8 193.8 218.5 193.9 216.4 194.1 224.5 194.2 218.7 194.3 239.5 194.4 234.0 194.5 218.6 194.6 219.0 194.7 240.9 194.8 241.0 194.9 224.6 195.0 243.0 195.1 243.6 195.2 233.4 195.3 235.8 195.4 240.3 195.5 225.5 195.6 238.5 195.7 234.9 195.9 239.0 196.0 239.6 196.1 238.7 196.2 232.6 196.3 214.4 196.4 231.5 196.5 215.2 196.6 234.6 196.7 223.4 196.8 224.4 196.9 214.7 197.0 236.1 197.1 238.5 197.2 224.5 197.3 234.7 197.4 218.9 197.5 238.7 197.7 221.5 197.8 246.0 197.9 245.8 198.0 222.7 198.1 224.1 198.2 219.2 198.3 239.9 198.4 232.3 198.5 221.7 198.6 219.8 198.7 233.3 198.8 239.4 198.9 216.5 199.0 215.7 199.1 237.7 199.2 241.3 199.3 239.7 199.5 219.0 199.6 213.8 199.7 216.3 199.8 244.4 199.9 242.3 200.0 232.4 200.1 215.9 200.2 243.2 200.3 232.7 200.4 220.1 200.5 224.1 200.6 233.1 200.7 222.4 200.8 231.0 200.9 217.9 201.0 237.2 201.2 219.4 201.3 236.4 201.4 232.7 201.5 224.4 201.6 236.9 201.7 222.2 201.8 236.2 201.9 224.3 202.0 225.9 202.1 236.9 202.2 221.2 202.3 235.4 202.4 220.3 202.5 236.7 202.6 222.6 202.7 227.5 202.8 237.2 203.0 224.5 203.1 219.7 203.2 227.5 203.3 237.3 203.4 221.9 203.5 222.0 203.6 218.6 203.7 241.6 203.8 218.1 203.9 244.2 204.0 241.9 204.1 215.5 204.2 233.8 204.3 232.4 204.4 220.4 204.5 217.1 204.7 234.1 204.8 240.7 204.9 240.2 205.0 236.9 205.1 217.0 205.2 216.4 205.3 222.2 205.4 238.5 205.5 238.9 205.6 239.2 205.7 240.5 205.8 222.7 205.9 212.9 206.0 232.3 206.1 236.6 206.2 227.0 206.3 235.4 206.5 237.0 206.6 231.8 206.7 220.5 206.8 242.9 206.9 232.3 207.0 223.4 207.1 218.2 207.2 221.9 207.3 221.3 207.4 237.4 207.5 220.6 207.6 243.1 207.7 219.6 207.8 237.2 207.9 240.8 208.0 218.8 208.1 242.7 208.3 223.8 208.4 239.7 208.5 220.0 208.6 215.9 208.7 216.3 208.8 221.8 208.9 222.1 209.0 231.7 209.1 226.8 209.2 238.2 209.3 236.8 209.4 235.9 209.5 223.1 209.6 215.8 209.7 215.9 209.8 238.2 209.9 223.1 210.1 218.4 210.2 219.9 210.3 239.1 210.4 215.9 210.5 235.1 210.6 234.5 210.7 226.4 210.8 215.9 210.9 232.1 211.0 220.6 211.1 218.3 211.2 235.8 211.3 237.3 211.4 234.7 211.5 242.9 211.6 245.4 211.8 221.8 211.9 212.1 212.0 223.2 212.1 218.6 212.2 216.6 212.3 245.1 212.4 212.7 212.5 243.6 212.6 220.2 212.7 242.0 212.8 221.9 212.9 236.6 213.0 238.6 213.1 224.5 213.2 233.6 213.3 223.0 213.4 223.4 213.6 226.2 213.7 238.7 213.8 222.4 213.9 234.9 214.0 222.0 214.1 239.3 214.2 222.6 214.3 241.0 214.4 232.4 214.5 237.2 214.6 222.0 214.7 221.6 214.8 223.5 214.9 242.0 215.0 226.3 215.1 240.9 215.2 221.3 215.4 216.9 215.5 217.9 215.6 232.0 215.7 240.2 215.8 245.1 215.9 237.6 216.0 243.4 216.1 243.5 216.2 211.7 216.3 223.1 216.4 216.5 216.5 220.3 216.6 215.0 216.7 211.5 216.8 234.1 216.9 214.3 217.1 237.1 217.2 234.2 217.3 221.3 217.4 248.6 217.5 241.8 217.6 237.5 217.7 241.4 217.8 222.1 217.9 248.0 218.0 215.0 218.1 234.7 218.2 223.0 218.3 216.5 218.4 238.0 218.5 235.0 218.6 214.7 218.7 233.7 218.9 214.5 219.0 223.4 219.1 243.4 219.2 238.1 219.3 219.9 219.4 226.3 219.5 224.4 219.6 244.8 219.7 220.1 219.8 216.7 219.9 216.7 220.0 220.9 220.1 245.4 220.2 238.7 220.3 246.8 220.4 212.6 220.6 211.9 220.7 219.1 220.8 222.2 220.9 232.6 221.0 223.8 221.1 243.2 221.2 218.3 221.3 221.4 221.4 221.2 221.5 225.6 221.6 224.6 221.7 238.2 221.8 242.5 221.9 224.1 222.0 222.4 222.1 222.8 222.2 226.7 222.4 221.7 222.5 234.5 222.6 233.8 222.7 221.1 222.8 234.8 222.9 232.9 223.0 234.6 223.1 219.0 223.2 234.0 223.3 236.8 223.4 218.4 223.5 248.5 223.6 242.1 223.7 225.9 223.8 225.4 223.9 217.7 224.0 225.0 224.2 246.6 224.3 225.4 224.4 219.1 224.5 228.6 224.6 237.1 224.7 223.0 224.8 237.7 224.9 221.4 225.0 235.9 225.1 238.1 225.2 238.0 225.3 220.0 225.4 243.6 225.5 220.8 225.6 223.6 225.7 239.3 225.8 219.5 226.0 222.3 226.1 226.1 226.2 221.9 226.3 236.7 226.4 239.1 226.5 239.1 226.6 236.3 226.7 215.2 226.8 233.8 226.9 220.0 227.0 234.4 227.1 221.1 227.2 246.6 227.3 216.6 227.4 239.6 227.5 223.8 227.7 220.2 227.8 219.3 227.9 243.9 228.0 236.0 228.1 221.3 228.2 246.1 228.3 223.8 228.4 240.6 228.5 246.6 228.6 221.4 228.7 244.5 228.8 238.4 228.9 237.8 229.0 216.8 229.1 222.7 229.2 239.7 229.3 220.2 229.5 225.0 229.6 224.7 229.7 218.2 229.8 225.8 229.9 238.1 230.0 234.6 230.1 237.8 230.2 234.6 230.3 240.6 230.4 233.8 230.5 216.1 230.6 221.7 230.7 216.3 230.8 236.3 230.9 220.9 231.0 239.7 231.2 244.5 231.3 214.7 231.4 242.3 231.5 233.6 231.6 240.6 231.7 248.1 231.8 216.0 231.9 214.7 232.0 211.6 232.1 236.7 232.2 242.7 232.3 236.3 232.4 220.7 232.5 209.4 232.6 210.3 232.7 220.1 232.8 210.0 233.0 216.3 233.1 233.4 233.2 215.3 233.3 222.8 233.4 244.4 233.5 220.3 233.6 240.7 233.7 244.5 233.8 222.5 233.9 243.1 234.0 241.8 234.1 221.7 234.2 221.2 234.3 239.5 234.4 220.7 234.5 215.0 234.6 217.3 234.8 236.0 234.9 242.5 235.0 242.2 235.1 217.3 235.2 237.7 235.3 220.0 235.4 241.6 235.5 218.7 235.6 241.8 235.7 239.5 235.8 223.9 235.9 241.6 236.0 228.4 236.1 225.9 236.2 242.9 236.3 233.7 236.4 224.6 236.6 213.4 236.7 225.9 236.8 217.0 236.9 235.3 237.0 236.8 237.1 237.6 237.2 238.5 237.3 216.6 237.4 239.9 237.5 239.1 237.6 232.4 237.7 220.1 237.8 220.8 237.9 219.0 238.0 237.5 238.1 237.6 238.3 224.7 238.4 218.2 238.5 218.9 238.6 241.7 238.7 244.1 238.8 217.3 238.9 218.4 239.0 224.6 239.1 240.5 239.2 218.1 239.3 216.7 239.4 233.5 239.5 232.5 239.6 232.7 239.7 236.9 239.8 222.7 239.9 227.5 240.1 223.9 240.2 221.5 240.3 225.6 240.4 230.3 240.5 221.0 240.6 249.4 240.7 221.2 240.8 240.4 240.9 241.9 241.0 228.7 241.1 223.0 241.2 224.1 241.3 237.2 241.4 220.8 241.5 234.5 241.6 223.6 241.8 221.5 241.9 229.9 242.0 243.3 242.1 236.4 242.2 219.7 242.3 244.0 242.4 220.4 242.5 242.5 242.6 222.2 242.7 244.0 242.8 234.7 242.9 224.1 243.0 220.2 243.1 225.0 243.2 242.0 243.3 220.5 243.4 241.9 243.6 234.5 243.7 220.5 243.8 245.4 243.9 214.0 244.0 243.1 244.1 240.7 244.2 234.5 244.3 223.0 244.4 233.5 244.5 216.4 244.6 246.3 244.7 222.0 244.8 241.7 244.9 223.1 245.0 219.7 245.1 243.0 245.2 214.1 245.4 244.9 245.5 235.0 245.6 239.6 245.7 239.3 245.8 231.3 245.9 224.7 246.0 217.2 246.1 218.9 246.2 236.5 246.3 222.0 246.4 227.4 246.5 240.2 246.6 218.5 246.7 220.4 246.8 224.8 246.9 225.3 247.1 219.5 247.2 224.3 247.3 218.9 247.4 235.4 247.5 242.7 247.6 240.4 247.7 236.9 247.8 236.9 247.9 242.6 248.0 238.6 248.1 238.1 248.2 222.3 248.3 219.5 248.4 237.5 248.5 239.7 248.6 236.8 248.7 231.0 248.9 238.6 249.0 236.7 249.1 233.1 249.2 232.6 249.3 236.7 249.4 220.1 249.5 233.3 249.6 222.9 249.7 235.3 249.8 235.5 249.9 237.4 250.0 226.5 250.1 221.8 250.2 236.7 250.3 232.5 250.4 218.9 250.5 218.1 250.7 234.3 250.8 217.1 250.9 246.4 251.0 221.1 251.1 244.0 251.2 218.5 251.3 245.1 251.4 240.7 251.5 217.4 251.6 217.3 251.7 239.0 251.8 223.3 251.9 246.2 252.0 217.3 252.1 236.4 252.2 211.9 252.3 223.6 252.5 219.1 252.6 244.4 252.7 239.9 252.8 235.1 252.9 233.5 253.0 223.7 253.1 215.7 253.2 244.7 253.3 223.0 253.4 220.4 253.5 213.4 253.6 223.4 253.7 212.2 253.8 243.2 253.9 243.8 254.0 242.1 254.2 237.9 254.3 224.5 254.4 215.9 254.5 220.0 254.6 235.8 254.7 219.7 254.8 215.2 254.9 237.6 255.0 223.0"/>
</g></g>
<path d="M43.00 289.70v-2.30M43.00 175.00v2.30M96.00 289.70v-2.30M96.00 175.00v2.30M149.00 289.70v-2.30M149.00 175.00v2.30M202.00 289.70v-2.30M202.00 175.00v2.30M255.00 289.70v-2.30M255.00 175.00v2.30M43.00 289.70h2.30M255.00 289.70h-2.30M43.00 261.02h2.30M255.00 261.02h-2.30M43.00 232.35h2.30M255.00 232.35h-2.30M43.00 203.67h2.30M255.00 203.67h-2.30M43.00 175.00h2.30M255.00 175.00h-2.30" stroke="#3a3a3a" stroke-width="1.0" fill="none"/>
<rect x="43.00" y="175.00" width="212.00" height="114.70" fill="none" stroke="#3a3a3a" stroke-width="1.2"/>
<g fill="#2a2a2a" stroke="#2a2a2a"><text transform="translate(43.00 302.20) scale(1.000 1)" text-anchor="middle" font-size="9.65">0</text><text transform="translate(96.00 302.20) scale(1.000 1)" text-anchor="middle" font-size="9.65">500</text><text transform="translate(149.00 302.20) scale(1.000 1)" text-anchor="middle" font-size="9.65">1000</text><text transform="translate(202.00 302.20) scale(1.000 1)" text-anchor="middle" font-size="9.65">1500</text><text transform="translate(255.00 302.20) scale(1.000 1)" text-anchor="middle" font-size="9.65">2000</text><text transform="translate(40.20 292.40) scale(1.000 1)" text-anchor="end" font-size="9.65">-0.04</text><text transform="translate(40.20 263.72) scale(1.000 1)" text-anchor="end" font-size="9.65">-0.02</text><text transform="translate(40.20 235.05) scale(1.000 1)" text-anchor="end" font-size="9.65">0</text><text transform="translate(40.20 206.37) scale(1.000 1)" text-anchor="end" font-size="9.65">0.02</text><text transform="translate(40.20 177.70) scale(1.000 1)" text-anchor="end" font-size="9.65">0.04</text></g>
<text transform="translate(149.00 313.70) scale(1.060 1)" text-anchor="middle" font-size="9.30" fill="#2a2a2a" stroke="#2a2a2a">Frame number</text>
<text transform="translate(13.70 232.65) rotate(-90) scale(1.060 1)" text-anchor="middle" font-size="9.30" fill="#2a2a2a" stroke="#2a2a2a">Interframe Disp. [mm]</text>
<text transform="translate(149.00 173.00) scale(0.915 1)" text-anchor="middle" font-size="10.50" font-weight="bold" fill="#000" stroke="#000" style="stroke-width:0.15px">Gaussian</text>
<rect x="188.20" y="262.00" width="63.80" height="24.90" fill="#fff" stroke="#3a3a3a" stroke-width="1.2"/><line x1="190.00" y1="268.60" x2="201.40" y2="268.60" stroke="#2e8ad0" stroke-width="1.3"/><line x1="190.00" y1="280.60" x2="201.40" y2="280.60" stroke="#d23a5a" stroke-width="1.3"/><text transform="translate(202.20 271.60) scale(1.100 1)" font-size="9.00" fill="#2a2a2a" stroke="#2a2a2a">DSM</text><text transform="translate(202.20 283.30) scale(1.100 1)" font-size="9.00" fill="#2a2a2a" stroke="#2a2a2a">Correlation</text>
<line x1="375.15" y1="175.00" x2="375.15" y2="289.70" stroke="#d9d9d9" stroke-width="1.0"/><line x1="428.10" y1="175.00" x2="428.10" y2="289.70" stroke="#d9d9d9" stroke-width="1.0"/><line x1="481.05" y1="175.00" x2="481.05" y2="289.70" stroke="#d9d9d9" stroke-width="1.0"/><line x1="322.20" y1="261.02" x2="534.00" y2="261.02" stroke="#d9d9d9" stroke-width="1.0"/><line x1="322.20" y1="232.35" x2="534.00" y2="232.35" stroke="#d9d9d9" stroke-width="1.0"/><line x1="322.20" y1="203.67" x2="534.00" y2="203.67" stroke="#d9d9d9" stroke-width="1.0"/>
<g clip-path="url(#cS4)"><g fill="none" stroke-width="1.0" stroke-linejoin="round">
<path stroke="#0873c6" d="M322.2 224.4L322.3 228.0 322.4 242.7 322.5 228.2 322.6 222.2 322.7 239.4 322.8 242.5 322.9 234.6 323.0 239.5 323.2 237.7 323.3 223.1 323.4 227.3 323.5 222.8 323.6 222.3 323.7 226.3 323.8 236.6 323.9 232.1 324.0 233.1 324.1 235.4 324.2 232.8 324.3 233.2 324.4 236.3 324.5 237.0 324.6 234.4 324.7 236.2 324.8 228.2 325.0 227.0 325.1 225.1 325.2 238.3 325.3 233.5 325.4 224.4 325.5 240.0 325.6 223.1 325.7 225.7 325.8 222.5 325.9 239.6 326.0 225.5 326.1 225.0 326.2 225.5 326.3 223.6 326.4 238.0 326.5 223.9 326.6 238.2 326.8 236.0 326.9 223.9 327.0 224.6 327.1 238.8 327.2 224.5 327.3 226.0 327.4 224.4 327.5 227.1 327.6 235.0 327.7 232.9 327.8 225.0 327.9 236.7 328.0 240.5 328.1 221.3 328.2 239.8 328.3 226.9 328.4 228.6 328.6 235.1 328.7 239.6 328.8 241.4 328.9 235.6 329.0 225.1 329.1 243.5 329.2 223.0 329.3 227.3 329.4 220.6 329.5 239.6 329.6 225.0 329.7 238.3 329.8 227.4 329.9 240.5 330.0 239.1 330.1 222.7 330.2 234.8 330.4 223.2 330.5 232.5 330.6 225.8 330.7 234.0 330.8 234.1 330.9 241.5 331.0 234.9 331.1 240.0 331.2 221.7 331.3 240.8 331.4 224.1 331.5 241.5 331.6 223.0 331.7 240.6 331.8 228.7 331.9 240.3 332.0 240.5 332.2 221.2 332.3 241.1 332.4 236.6 332.5 238.3 332.6 232.1 332.7 228.2 332.8 237.9 332.9 238.6 333.0 223.2 333.1 235.3 333.2 235.6 333.3 242.7 333.4 226.6 333.5 238.9 333.6 223.8 333.7 238.3 333.8 236.6 334.0 241.1 334.1 240.3 334.2 227.3 334.3 239.4 334.4 238.4 334.5 224.5 334.6 244.2 334.7 223.0 334.8 238.3 334.9 238.5 335.0 226.5 335.1 236.4 335.2 219.6 335.3 226.8 335.4 237.0 335.5 237.3 335.6 219.7 335.8 218.9 335.9 218.0 336.0 225.8 336.1 221.1 336.2 221.1 336.3 236.5 336.4 236.3 336.5 225.8 336.6 224.1 336.7 234.9 336.8 229.0 336.9 237.3 337.0 237.2 337.1 237.9 337.2 234.5 337.3 237.7 337.4 236.8 337.6 225.9 337.7 223.8 337.8 237.3 337.9 222.1 338.0 221.9 338.1 226.9 338.2 222.3 338.3 223.9 338.4 225.3 338.5 234.4 338.6 226.0 338.7 223.6 338.8 237.6 338.9 241.3 339.0 227.3 339.1 238.6 339.2 236.3 339.4 222.3 339.5 222.5 339.6 221.7 339.7 237.9 339.8 242.5 339.9 243.6 340.0 244.7 340.1 218.1 340.2 223.8 340.3 227.4 340.4 241.0 340.5 228.1 340.6 242.9 340.7 227.1 340.8 240.7 340.9 237.0 341.1 223.0 341.2 223.2 341.3 223.5 341.4 229.5 341.5 238.5 341.6 222.4 341.7 224.3 341.8 236.2 341.9 224.5 342.0 223.7 342.1 237.3 342.2 242.0 342.3 222.7 342.4 224.4 342.5 226.1 342.6 224.9 342.7 223.2 342.9 222.7 343.0 237.2 343.1 228.3 343.2 240.8 343.3 228.3 343.4 242.4 343.5 242.8 343.6 224.6 343.7 227.1 343.8 222.9 343.9 243.5 344.0 223.5 344.1 238.1 344.2 240.3 344.3 238.6 344.4 234.2 344.5 222.3 344.7 224.9 344.8 230.6 344.9 239.8 345.0 240.3 345.1 239.9 345.2 237.5 345.3 239.2 345.4 237.3 345.5 220.0 345.6 220.5 345.7 224.5 345.8 238.1 345.9 240.2 346.0 227.3 346.1 235.2 346.2 225.4 346.3 221.6 346.5 221.3 346.6 222.1 346.7 221.3 346.8 220.8 346.9 225.3 347.0 218.8 347.1 241.1 347.2 235.4 347.3 218.9 347.4 240.0 347.5 236.2 347.6 226.6 347.7 224.3 347.8 238.5 347.9 232.9 348.0 238.5 348.1 226.2 348.3 241.6 348.4 227.5 348.5 226.6 348.6 236.4 348.7 218.6 348.8 215.7 348.9 242.2 349.0 220.8 349.1 218.3 349.2 239.7 349.3 223.0 349.4 238.5 349.5 237.7 349.6 222.4 349.7 226.8 349.8 216.1 349.9 228.1 350.1 219.5 350.2 228.3 350.3 227.7 350.4 241.8 350.5 235.3 350.6 220.9 350.7 234.7 350.8 239.4 350.9 222.1 351.0 220.9 351.1 225.0 351.2 220.1 351.3 239.0 351.4 240.1 351.5 240.9 351.6 238.3 351.7 242.1 351.9 238.7 352.0 224.5 352.1 219.2 352.2 243.2 352.3 233.3 352.4 241.8 352.5 223.1 352.6 233.2 352.7 225.8 352.8 222.0 352.9 236.8 353.0 236.2 353.1 236.4 353.2 232.2 353.3 225.2 353.4 237.0 353.5 227.5 353.7 232.8 353.8 227.0 353.9 224.6 354.0 222.8 354.1 240.5 354.2 228.0 354.3 239.6 354.4 237.0 354.5 226.4 354.6 243.4 354.7 220.6 354.8 234.6 354.9 246.5 355.0 220.9 355.1 238.8 355.2 244.5 355.3 226.0 355.5 222.9 355.6 220.0 355.7 242.1 355.8 240.7 355.9 224.4 356.0 225.0 356.1 238.9 356.2 234.9 356.3 223.7 356.4 237.5 356.5 235.5 356.6 224.1 356.7 238.7 356.8 236.2 356.9 236.2 357.0 239.6 357.1 235.5 357.3 233.0 357.4 238.9 357.5 219.3 357.6 237.7 357.7 220.6 357.8 219.5 357.9 225.1 358.0 222.2 358.1 233.9 358.2 221.9 358.3 238.0 358.4 235.7 358.5 223.4 358.6 221.7 358.7 226.1 358.8 221.3 358.9 226.7 359.1 224.7 359.2 236.2 359.3 223.1 359.4 238.7 359.5 242.2 359.6 222.3 359.7 235.9 359.8 221.9 359.9 227.1 360.0 238.5 360.1 240.8 360.2 226.5 360.3 234.9 360.4 240.7 360.5 220.9 360.6 238.9 360.7 239.1 360.9 227.0 361.0 224.3 361.1 226.1 361.2 236.5 361.3 239.3 361.4 222.7 361.5 223.1 361.6 241.6 361.7 226.8 361.8 240.7 361.9 216.5 362.0 238.4 362.1 240.5 362.2 238.2 362.3 227.3 362.4 240.3 362.5 218.3 362.7 229.3 362.8 220.7 362.9 239.1 363.0 222.9 363.1 222.6 363.2 235.2 363.3 223.4 363.4 238.1 363.5 223.4 363.6 224.6 363.7 240.0 363.8 241.2 363.9 223.9 364.0 236.6 364.1 224.9 364.2 240.8 364.3 241.4 364.5 235.6 364.6 239.2 364.7 223.7 364.8 224.3 364.9 223.6 365.0 238.1 365.1 232.3 365.2 226.3 365.3 223.0 365.4 225.4 365.5 234.7 365.6 238.9 365.7 223.5 365.8 238.1 365.9 223.5 366.0 237.0 366.1 225.1 366.3 226.3 366.4 238.7 366.5 224.2 366.6 234.6 366.7 238.8 366.8 230.6 366.9 229.6 367.0 225.9 367.1 234.7 367.2 237.5 367.3 227.3 367.4 236.4 367.5 235.2 367.6 227.2 367.7 224.2 367.8 238.4 367.9 238.4 368.1 234.6 368.2 235.6 368.3 223.1 368.4 220.9 368.5 217.9 368.6 225.4 368.7 219.0 368.8 224.9 368.9 219.4 369.0 220.8 369.1 237.7 369.2 228.0 369.3 237.8 369.4 237.5 369.5 225.8 369.6 238.5 369.7 227.7 369.9 228.5 370.0 228.2 370.1 234.3 370.2 234.5 370.3 238.8 370.4 236.5 370.5 220.5 370.6 238.5 370.7 238.6 370.8 225.4 370.9 234.3 371.0 236.4 371.1 242.3 371.2 243.0 371.3 243.3 371.4 215.7 371.5 239.2 371.7 237.2 371.8 238.0 371.9 235.5 372.0 215.6 372.1 238.9 372.2 235.0 372.3 236.4 372.4 242.9 372.5 219.8 372.6 238.6 372.7 240.2 372.8 241.6 372.9 242.4 373.0 222.7 373.1 227.9 373.2 226.1 373.3 221.8 373.5 242.8 373.6 241.9 373.7 241.4 373.8 241.2 373.9 220.8 374.0 229.2 374.1 237.6 374.2 220.4 374.3 240.0 374.4 225.2 374.5 222.6 374.6 239.6 374.7 234.4 374.8 223.0 374.9 238.7 375.0 238.7 375.1 239.2 375.3 239.1 375.4 240.1 375.5 235.8 375.6 235.0 375.7 222.4 375.8 224.8 375.9 236.6 376.0 224.4 376.1 234.1 376.2 220.0 376.3 219.9 376.4 235.3 376.5 221.7 376.6 225.7 376.7 237.0 376.8 235.2 377.0 234.6 377.1 224.6 377.2 219.2 377.3 220.7 377.4 221.2 377.5 239.3 377.6 224.1 377.7 223.9 377.8 241.2 377.9 241.2 378.0 221.3 378.1 224.3 378.2 225.1 378.3 237.9 378.4 239.9 378.5 223.0 378.6 240.0 378.8 237.5 378.9 241.1 379.0 239.5 379.1 241.2 379.2 238.6 379.3 224.0 379.4 238.1 379.5 227.7 379.6 218.6 379.7 236.5 379.8 219.2 379.9 238.1 380.0 235.7 380.1 237.6 380.2 238.5 380.3 218.7 380.4 238.6 380.6 218.7 380.7 221.2 380.8 217.4 380.9 216.8 381.0 237.8 381.1 224.7 381.2 239.9 381.3 240.9 381.4 241.2 381.5 223.4 381.6 220.0 381.7 221.8 381.8 224.1 381.9 237.0 382.0 220.5 382.1 223.6 382.2 227.4 382.4 242.7 382.5 242.7 382.6 234.4 382.7 239.8 382.8 242.8 382.9 241.0 383.0 221.1 383.1 225.5 383.2 220.3 383.3 222.2 383.4 218.3 383.5 239.4 383.6 230.6 383.7 224.2 383.8 218.4 383.9 236.1 384.0 222.9 384.2 220.2 384.3 238.8 384.4 233.2 384.5 241.1 384.6 222.1 384.7 220.7 384.8 219.7 384.9 238.5 385.0 233.2 385.1 238.6 385.2 235.8 385.3 239.4 385.4 222.9 385.5 220.5 385.6 225.2 385.7 222.9 385.8 224.1 386.0 235.5 386.1 231.4 386.2 223.6 386.3 231.6 386.4 241.1 386.5 242.1 386.6 222.5 386.7 218.9 386.8 243.0 386.9 226.5 387.0 222.0 387.1 225.4 387.2 239.9 387.3 226.1 387.4 241.4 387.5 240.5 387.6 237.4 387.8 236.0 387.9 241.4 388.0 225.3 388.1 237.9 388.2 220.5 388.3 237.8 388.4 223.6 388.5 235.9 388.6 225.6 388.7 220.4 388.8 226.5 388.9 244.7 389.0 228.2 389.1 238.4 389.2 226.2 389.3 244.3 389.4 219.5 389.6 221.6 389.7 219.8 389.8 230.5 389.9 243.8 390.0 220.7 390.1 236.8 390.2 227.0 390.3 244.7 390.4 238.8 390.5 244.2 390.6 244.4 390.7 242.7 390.8 220.5 390.9 242.1 391.0 224.6 391.1 242.1 391.2 235.9 391.4 219.9 391.5 219.9 391.6 233.1 391.7 220.2 391.8 245.8 391.9 246.0 392.0 238.1 392.1 238.4 392.2 238.7 392.3 238.2 392.4 237.1 392.5 218.3 392.6 244.4 392.7 225.1 392.8 235.6 392.9 222.5 393.0 239.4 393.2 218.5 393.3 219.7 393.4 218.8 393.5 239.1 393.6 234.3 393.7 238.0 393.8 240.9 393.9 241.0 394.0 219.5 394.1 215.6 394.2 224.7 394.3 227.0 394.4 245.3 394.5 226.5 394.6 224.8 394.7 240.0 394.8 226.5 395.0 242.7 395.1 227.6 395.2 235.0 395.3 222.1 395.4 233.8 395.5 223.5 395.6 223.6 395.7 226.2 395.8 238.8 395.9 222.7 396.0 248.3 396.1 239.7 396.2 222.3 396.3 222.2 396.4 243.9 396.5 237.7 396.6 225.9 396.8 238.2 396.9 228.3 397.0 217.9 397.1 222.8 397.2 242.8 397.3 240.3 397.4 217.4 397.5 219.4 397.6 227.4 397.7 219.5 397.8 240.7 397.9 237.7 398.0 236.4 398.1 240.9 398.2 239.0 398.3 240.9 398.4 240.1 398.6 218.4 398.7 238.8 398.8 241.2 398.9 228.7 399.0 239.5 399.1 235.5 399.2 226.3 399.3 237.3 399.4 234.9 399.5 225.8 399.6 224.4 399.7 219.6 399.8 222.2 399.9 221.9 400.0 241.6 400.1 219.7 400.2 235.7 400.4 220.2 400.5 239.0 400.6 220.2 400.7 221.1 400.8 221.5 400.9 236.1 401.0 223.2 401.1 233.5 401.2 224.7 401.3 236.6 401.4 239.2 401.5 242.5 401.6 218.6 401.7 219.1 401.8 217.5 401.9 244.2 402.0 233.4 402.2 244.7 402.3 218.8 402.4 217.6 402.5 221.3 402.6 236.8 402.7 220.0 402.8 217.5 402.9 223.9 403.0 224.2 403.1 223.7 403.2 216.8 403.3 236.1 403.4 224.7 403.5 221.8 403.6 224.7 403.7 218.4 403.8 212.8 404.0 225.3 404.1 215.2 404.2 215.1 404.3 227.0 404.4 212.8 404.5 240.9 404.6 243.9 404.7 239.6 404.8 219.5 404.9 237.4 405.0 223.1 405.1 222.7 405.2 224.0 405.3 228.0 405.4 219.6 405.5 243.4 405.6 223.1 405.8 238.3 405.9 240.4 406.0 227.9 406.1 239.2 406.2 219.9 406.3 242.3 406.4 236.5 406.5 243.4 406.6 232.9 406.7 243.2 406.8 225.3 406.9 234.2 407.0 236.0 407.1 224.6 407.2 224.6 407.3 240.1 407.4 236.8 407.6 234.0 407.7 238.9 407.8 239.1 407.9 223.1 408.0 223.3 408.1 224.4 408.2 223.9 408.3 220.0 408.4 222.0 408.5 236.3 408.6 242.6 408.7 218.4 408.8 241.8 408.9 243.9 409.0 240.0 409.1 234.1 409.2 239.7 409.4 219.1 409.5 235.2 409.6 218.2 409.7 245.7 409.8 221.0 409.9 244.9 410.0 219.8 410.1 219.7 410.2 229.6 410.3 220.7 410.4 222.6 410.5 240.0 410.6 238.5 410.7 227.1 410.8 237.3 410.9 237.9 411.1 222.0 411.2 236.1 411.3 236.7 411.4 237.7 411.5 239.0 411.6 239.1 411.7 243.1 411.8 234.1 411.9 219.2 412.0 223.5 412.1 218.2 412.2 219.8 412.3 218.2 412.4 225.0 412.5 226.0 412.6 219.4 412.7 241.7 412.9 239.7 413.0 239.1 413.1 234.8 413.2 233.7 413.3 241.7 413.4 224.8 413.5 238.7 413.6 225.9 413.7 242.6 413.8 236.8 413.9 235.9 414.0 236.9 414.1 219.9 414.2 241.7 414.3 219.8 414.4 234.1 414.5 240.9 414.7 221.7 414.8 240.5 414.9 242.4 415.0 227.1 415.1 240.9 415.2 223.7 415.3 224.7 415.4 239.2 415.5 238.6 415.6 248.1 415.7 241.4 415.8 214.7 415.9 213.4 416.0 251.6 416.1 251.3 416.2 251.7 416.3 249.0 416.5 214.5 416.6 236.6 416.7 218.4 416.8 235.9 416.9 213.3 417.0 242.3 417.1 235.1 417.2 223.7 417.3 238.3 417.4 214.6 417.5 243.9 417.6 240.9 417.7 238.3 417.8 215.7 417.9 212.5 418.0 247.2 418.1 237.8 418.3 216.2 418.4 222.3 418.5 245.9 418.6 247.5 418.7 216.8 418.8 218.0 418.9 225.7 419.0 244.2 419.1 234.0 419.2 219.5 419.3 246.0 419.4 231.5 419.5 243.4 419.6 226.0 419.7 236.5 419.8 247.0 419.9 225.8 420.1 244.1 420.2 219.9 420.3 221.3 420.4 222.7 420.5 225.8 420.6 221.0 420.7 223.1 420.8 237.9 420.9 240.4 421.0 237.3 421.1 220.9 421.2 223.1 421.3 224.6 421.4 224.2 421.5 238.2 421.6 238.5 421.7 233.8 421.9 233.7 422.0 222.6 422.1 222.5 422.2 238.4 422.3 221.4 422.4 216.1 422.5 217.7 422.6 239.1 422.7 232.1 422.8 225.0 422.9 220.3 423.0 240.2 423.1 235.6 423.2 244.5 423.3 244.0 423.4 242.9 423.5 217.3 423.7 240.5 423.8 219.6 423.9 219.1 424.0 222.5 424.1 222.9 424.2 239.2 424.3 215.5 424.4 216.7 424.5 237.0 424.6 222.3 424.7 241.9 424.8 225.1 424.9 221.4 425.0 242.2 425.1 225.5 425.2 219.6 425.3 225.9 425.5 222.1 425.6 221.3 425.7 214.9 425.8 237.6 425.9 225.4 426.0 221.9 426.1 215.9 426.2 235.9 426.3 236.4 426.4 236.5 426.5 239.1 426.6 215.0 426.7 239.9 426.8 234.8 426.9 243.3 427.0 239.8 427.1 223.8 427.3 222.2 427.4 240.3 427.5 242.4 427.6 224.8 427.7 237.1 427.8 225.3 427.9 225.5 428.0 237.4 428.1 223.5 428.2 225.2 428.3 241.2 428.4 239.8 428.5 225.4 428.6 222.3 428.7 226.6 428.8 225.9 428.9 242.3 429.1 219.4 429.2 238.2 429.3 227.4 429.4 238.6 429.5 238.7 429.6 228.9 429.7 217.4 429.8 218.3 429.9 244.7 430.0 241.7 430.1 247.9 430.2 213.7 430.3 247.4 430.4 222.1 430.5 241.7 430.6 215.9 430.7 236.4 430.9 240.2 431.0 219.3 431.1 238.4 431.2 217.2 431.3 215.8 431.4 225.1 431.5 217.7 431.6 240.0 431.7 241.1 431.8 242.5 431.9 219.2 432.0 239.8 432.1 220.3 432.2 216.7 432.3 226.2 432.4 218.1 432.5 217.7 432.7 214.5 432.8 240.6 432.9 215.2 433.0 215.9 433.1 234.6 433.2 221.7 433.3 234.6 433.4 238.5 433.5 237.8 433.6 225.8 433.7 249.7 433.8 251.6 433.9 223.5 434.0 249.1 434.1 234.9 434.2 241.8 434.3 223.7 434.5 220.5 434.6 222.1 434.7 240.9 434.8 225.1 434.9 239.2 435.0 236.2 435.1 236.2 435.2 221.5 435.3 237.3 435.4 223.4 435.5 236.5 435.6 214.8 435.7 240.0 435.8 217.3 435.9 225.6 436.0 238.5 436.1 222.1 436.3 224.4 436.4 224.1 436.5 221.4 436.6 223.0 436.7 221.1 436.8 229.5 436.9 243.4 437.0 242.8 437.1 238.8 437.2 238.8 437.3 227.5 437.4 219.6 437.5 227.0 437.6 244.9 437.7 224.4 437.8 225.6 437.9 211.3 438.1 218.1 438.2 217.1 438.3 229.9 438.4 243.7 438.5 223.9 438.6 242.5 438.7 217.3 438.8 215.6 438.9 245.2 439.0 248.1 439.1 220.3 439.2 242.5 439.3 237.2 439.4 225.2 439.5 243.4 439.6 224.4 439.7 245.2 439.9 234.4 440.0 245.5 440.1 213.2 440.2 241.8 440.3 218.3 440.4 247.3 440.5 214.9 440.6 233.2 440.7 224.3 440.8 246.5 440.9 217.4 441.0 213.7 441.1 212.7 441.2 242.2 441.3 223.0 441.4 240.9 441.5 215.5 441.7 224.6 441.8 241.2 441.9 238.2 442.0 241.1 442.1 240.5 442.2 238.7 442.3 226.4 442.4 240.7 442.5 239.7 442.6 238.5 442.7 220.1 442.8 238.9 442.9 238.8 443.0 240.5 443.1 214.7 443.2 240.1 443.3 241.1 443.5 239.3 443.6 217.4 443.7 216.9 443.8 239.3 443.9 220.5 444.0 245.9 444.1 217.8 444.2 242.7 444.3 237.0 444.4 242.9 444.5 223.9 444.6 215.3 444.7 215.7 444.8 225.7 444.9 242.6 445.0 227.2 445.1 222.8 445.3 244.9 445.4 222.7 445.5 223.6 445.6 244.8 445.7 225.0 445.8 223.7 445.9 224.3 446.0 244.5 446.1 243.8 446.2 246.7 446.3 225.4 446.4 213.8 446.5 219.9 446.6 212.8 446.7 226.2 446.8 249.0 447.0 241.3 447.1 218.1 447.2 241.3 447.3 219.3 447.4 241.2 447.5 218.0 447.6 245.5 447.7 244.2 447.8 244.4 447.9 219.0 448.0 224.6 448.1 220.9 448.2 220.2 448.3 245.2 448.4 240.3 448.5 243.7 448.6 218.1 448.8 244.2 448.9 224.6 449.0 244.7 449.1 215.1 449.2 218.6 449.3 221.9 449.4 239.8 449.5 220.6 449.6 233.7 449.7 213.3 449.8 227.0 449.9 218.3 450.0 233.6 450.1 219.8 450.2 237.2 450.3 244.5 450.4 231.9 450.6 215.7 450.7 246.9 450.8 239.3 450.9 227.3 451.0 217.0 451.1 215.3 451.2 220.6 451.3 239.1 451.4 244.0 451.5 237.0 451.6 234.1 451.7 215.9 451.8 240.8 451.9 239.7 452.0 212.7 452.1 219.6 452.2 236.4 452.4 239.7 452.5 216.0 452.6 233.7 452.7 212.1 452.8 217.3 452.9 237.9 453.0 241.6 453.1 226.2 453.2 233.5 453.3 242.5 453.4 244.0 453.5 237.7 453.6 244.4 453.7 244.8 453.8 240.3 453.9 241.6 454.0 220.1 454.2 241.9 454.3 224.4 454.4 222.4 454.5 219.4 454.6 218.7 454.7 231.6 454.8 220.9 454.9 242.6 455.0 236.4 455.1 217.4 455.2 238.5 455.3 238.8 455.4 214.2 455.5 215.8 455.6 232.2 455.7 216.2 455.8 210.9 456.0 213.7 456.1 236.6 456.2 222.3 456.3 213.2 456.4 211.5 456.5 250.7 456.6 217.8 456.7 218.7 456.8 224.6 456.9 238.1 457.0 223.6 457.1 239.8 457.2 233.4 457.3 219.6 457.4 238.1 457.5 237.3 457.6 236.1 457.8 239.4 457.9 237.0 458.0 240.7 458.1 215.5 458.2 222.4 458.3 239.4 458.4 243.2 458.5 241.8 458.6 242.9 458.7 215.5 458.8 223.0 458.9 214.2 459.0 239.9 459.1 227.7 459.2 215.7 459.3 219.5 459.4 229.4 459.6 224.4 459.7 233.6 459.8 233.9 459.9 233.0 460.0 237.2 460.1 223.8 460.2 241.1 460.3 242.1 460.4 215.7 460.5 233.6 460.6 223.0 460.7 225.9 460.8 226.6 460.9 228.5 461.0 227.1 461.1 242.4 461.2 239.9 461.4 224.3 461.5 226.2 461.6 240.8 461.7 236.0 461.8 242.3 461.9 228.6 462.0 243.0 462.1 219.9 462.2 219.5 462.3 224.0 462.4 241.8 462.5 236.6 462.6 216.8 462.7 220.7 462.8 221.6 462.9 236.6 463.0 223.3 463.2 240.2 463.3 240.9 463.4 221.3 463.5 238.2 463.6 222.3 463.7 242.5 463.8 241.7 463.9 237.2 464.0 243.6 464.1 240.0 464.2 219.2 464.3 231.6 464.4 220.2 464.5 223.1 464.6 243.8 464.7 245.6 464.8 241.0 465.0 219.0 465.1 246.4 465.2 222.9 465.3 246.7 465.4 222.3 465.5 221.3 465.6 224.7 465.7 219.1 465.8 245.2 465.9 237.5 466.0 236.8 466.1 241.9 466.2 219.6 466.3 218.6 466.4 220.7 466.5 240.7 466.6 219.3 466.8 218.1 466.9 236.1 467.0 241.9 467.1 222.5 467.2 222.6 467.3 241.9 467.4 219.0 467.5 236.6 467.6 227.4 467.7 227.9 467.8 219.4 467.9 231.3 468.0 221.3 468.1 224.9 468.2 217.6 468.3 242.0 468.4 242.5 468.6 235.7 468.7 238.5 468.8 231.6 468.9 232.0 469.0 229.7 469.1 242.5 469.2 237.1 469.3 221.8 469.4 217.6 469.5 220.3 469.6 242.6 469.7 218.1 469.8 246.1 469.9 238.0 470.0 229.3 470.1 236.6 470.2 243.6 470.4 221.7 470.5 223.4 470.6 217.3 470.7 220.8 470.8 248.3 470.9 240.5 471.0 244.3 471.1 244.9 471.2 243.0 471.3 222.4 471.4 242.0 471.5 244.0 471.6 247.4 471.7 218.7 471.8 224.6 471.9 233.8 472.0 240.4 472.2 223.0 472.3 220.7 472.4 239.1 472.5 221.1 472.6 234.4 472.7 220.2 472.8 221.0 472.9 223.4 473.0 230.2 473.1 224.5 473.2 238.6 473.3 234.0 473.4 225.6 473.5 221.7 473.6 222.4 473.7 236.4 473.8 240.5 474.0 220.4 474.1 236.6 474.2 220.3 474.3 225.0 474.4 220.0 474.5 238.2 474.6 222.3 474.7 241.3 474.8 219.0 474.9 236.9 475.0 241.6 475.1 222.3 475.2 228.9 475.3 219.1 475.4 243.9 475.5 239.5 475.6 243.6 475.8 225.7 475.9 220.7 476.0 222.5 476.1 243.3 476.2 220.5 476.3 235.4 476.4 220.6 476.5 219.3 476.6 242.8 476.7 221.0 476.8 229.7 476.9 222.2 477.0 241.0 477.1 225.7 477.2 225.0 477.3 242.4 477.4 241.1 477.6 242.2 477.7 242.0 477.8 224.9 477.9 222.0 478.0 231.9 478.1 249.6 478.2 222.3 478.3 251.2 478.4 249.0 478.5 248.8 478.6 217.8 478.7 216.7 478.8 220.8 478.9 221.7 479.0 221.7 479.1 248.3 479.2 239.4 479.4 244.0 479.5 221.1 479.6 249.4 479.7 221.4 479.8 248.9 479.9 218.3 480.0 251.1 480.1 250.7 480.2 222.2 480.3 218.1 480.4 216.5 480.5 221.7 480.6 228.4 480.7 224.7 480.8 225.2 480.9 217.8 481.0 216.3 481.2 241.2 481.3 241.7 481.4 232.9 481.5 228.6 481.6 223.3 481.7 225.1 481.8 226.2 481.9 240.7 482.0 235.6 482.1 222.9 482.2 225.0 482.3 228.3 482.4 242.0 482.5 228.5 482.6 221.6 482.7 242.3 482.9 241.3 483.0 220.3 483.1 216.5 483.2 227.5 483.3 248.4 483.4 212.9 483.5 242.7 483.6 239.1 483.7 214.8 483.8 223.4 483.9 215.5 484.0 236.0 484.1 221.8 484.2 240.5 484.3 241.3 484.4 238.8 484.5 237.5 484.7 239.0 484.8 223.1 484.9 220.0 485.0 238.7 485.1 235.1 485.2 223.3 485.3 226.2 485.4 242.4 485.5 217.8 485.6 241.1 485.7 243.5 485.8 219.5 485.9 243.1 486.0 235.1 486.1 235.7 486.2 239.7 486.3 225.6 486.5 220.8 486.6 243.3 486.7 237.8 486.8 223.9 486.9 234.9 487.0 223.1 487.1 220.6 487.2 222.6 487.3 244.9 487.4 220.4 487.5 221.1 487.6 237.1 487.7 246.3 487.8 220.8 487.9 221.7 488.0 238.1 488.1 220.3 488.3 223.0 488.4 240.8 488.5 226.3 488.6 227.2 488.7 221.5 488.8 224.4 488.9 236.8 489.0 218.5 489.1 213.2 489.2 212.3 489.3 210.8 489.4 239.1 489.5 242.1 489.6 246.4 489.7 240.2 489.8 215.4 489.9 244.3 490.1 217.6 490.2 225.9 490.3 248.0 490.4 221.1 490.5 250.1 490.6 242.2 490.7 246.6 490.8 240.0 490.9 240.1 491.0 242.2 491.1 226.6 491.2 248.1 491.3 219.5 491.4 213.5 491.5 227.3 491.6 233.4 491.7 221.2 491.9 238.2 492.0 214.0 492.1 216.5 492.2 241.6 492.3 242.1 492.4 217.1 492.5 227.4 492.6 221.9 492.7 238.4 492.8 241.9 492.9 240.8 493.0 236.9 493.1 222.7 493.2 216.0 493.3 241.0 493.4 240.8 493.5 243.2 493.7 238.4 493.8 237.6 493.9 215.6 494.0 231.4 494.1 240.5 494.2 221.1 494.3 221.8 494.4 222.8 494.5 238.1 494.6 240.7 494.7 242.4 494.8 231.7 494.9 222.1 495.0 221.0 495.1 224.4 495.2 225.6 495.3 224.8 495.5 238.7 495.6 243.0 495.7 220.9 495.8 218.9 495.9 244.7 496.0 250.4 496.1 220.0 496.2 212.3 496.3 249.1 496.4 212.5 496.5 251.1 496.6 240.3 496.7 216.9 496.8 214.3 496.9 247.1 497.0 243.1 497.1 246.8 497.3 246.1 497.4 227.5 497.5 243.9 497.6 247.2 497.7 243.8 497.8 243.3 497.9 247.8 498.0 217.7 498.1 215.5 498.2 218.5 498.3 218.4 498.4 221.4 498.5 220.6 498.6 242.3 498.7 226.0 498.8 238.3 498.9 247.3 499.1 223.2 499.2 239.4 499.3 229.3 499.4 242.7 499.5 218.7 499.6 227.2 499.7 247.7 499.8 241.2 499.9 217.7 500.0 247.2 500.1 218.9 500.2 240.4 500.3 219.5 500.4 221.3 500.5 223.7 500.6 221.6 500.7 218.0 500.9 236.3 501.0 235.9 501.1 240.2 501.2 240.1 501.3 236.1 501.4 240.3 501.5 215.4 501.6 234.5 501.7 238.6 501.8 215.9 501.9 246.8 502.0 243.5 502.1 216.2 502.2 224.8 502.3 232.6 502.4 238.6 502.5 233.1 502.7 238.4 502.8 214.8 502.9 213.5 503.0 235.7 503.1 240.5 503.2 212.9 503.3 237.2 503.4 219.1 503.5 244.7 503.6 241.4 503.7 215.0 503.8 244.1 503.9 216.7 504.0 214.3 504.1 241.8 504.2 243.2 504.3 221.5 504.5 235.1 504.6 220.7 504.7 220.9 504.8 235.1 504.9 219.5 505.0 240.8 505.1 219.6 505.2 242.0 505.3 222.4 505.4 242.7 505.5 219.1 505.6 241.1 505.7 238.4 505.8 244.0 505.9 222.6 506.0 232.4 506.1 242.8 506.3 241.9 506.4 225.0 506.5 215.6 506.6 235.6 506.7 239.8 506.8 213.9 506.9 240.2 507.0 225.6 507.1 240.1 507.2 235.2 507.3 217.9 507.4 225.7 507.5 248.1 507.6 225.1 507.7 246.6 507.8 250.1 507.9 250.0 508.1 221.4 508.2 217.7 508.3 239.9 508.4 240.3 508.5 229.0 508.6 234.9 508.7 219.0 508.8 218.5 508.9 236.1 509.0 225.7 509.1 244.8 509.2 221.3 509.3 223.8 509.4 221.9 509.5 221.8 509.6 224.1 509.7 247.3 509.9 212.9 510.0 210.8 510.1 217.6 510.2 224.5 510.3 241.1 510.4 233.9 510.5 215.9 510.6 238.2 510.7 238.5 510.8 240.3 510.9 241.6 511.0 239.2 511.1 242.8 511.2 211.6 511.3 241.5 511.4 251.0 511.5 251.6 511.7 240.6 511.8 218.2 511.9 225.3 512.0 216.1 512.1 216.7 512.2 225.3 512.3 248.3 512.4 251.4 512.5 224.1 512.6 217.2 512.7 216.8 512.8 243.7 512.9 223.0 513.0 244.2 513.1 242.1 513.2 242.2 513.3 213.9 513.5 237.4 513.6 223.8 513.7 236.8 513.8 240.2 513.9 243.7 514.0 239.4 514.1 217.4 514.2 215.3 514.3 215.9 514.4 244.8 514.5 218.1 514.6 238.2 514.7 240.7 514.8 242.3 514.9 238.9 515.0 235.3 515.1 219.3 515.3 220.0 515.4 219.4 515.5 232.4 515.6 218.2 515.7 240.2 515.8 236.5 515.9 228.3 516.0 223.5 516.1 240.3 516.2 241.2 516.3 220.7 516.4 240.8 516.5 243.1 516.6 241.0 516.7 228.3 516.8 220.3 517.0 242.4 517.1 236.3 517.2 243.3 517.3 245.4 517.4 244.7 517.5 242.1 517.6 221.5 517.7 215.1 517.8 245.3 517.9 234.7 518.0 237.6 518.1 241.0 518.2 237.3 518.3 229.6 518.4 226.8 518.5 221.4 518.6 241.0 518.8 216.7 518.9 218.7 519.0 239.9 519.1 221.9 519.2 245.1 519.3 224.4 519.4 219.7 519.5 244.3 519.6 217.4 519.7 223.0 519.8 225.1 519.9 220.0 520.0 235.2 520.1 246.0 520.2 237.2 520.3 227.6 520.4 240.7 520.6 246.1 520.7 223.5 520.8 218.8 520.9 247.1 521.0 237.4 521.1 217.7 521.2 224.5 521.3 224.8 521.4 219.5 521.5 240.0 521.6 242.3 521.7 243.0 521.8 227.3 521.9 241.5 522.0 237.7 522.1 227.8 522.2 223.8 522.4 239.0 522.5 219.6 522.6 236.9 522.7 220.6 522.8 241.5 522.9 219.9 523.0 222.3 523.1 239.8 523.2 241.5 523.3 243.1 523.4 232.3 523.5 216.1 523.6 244.1 523.7 240.7 523.8 219.7 523.9 241.7 524.0 242.4 524.2 218.5 524.3 221.9 524.4 221.4 524.5 217.2 524.6 229.6 524.7 247.3 524.8 241.3 524.9 242.9 525.0 241.1 525.1 221.0 525.2 228.7 525.3 239.3 525.4 220.0 525.5 219.2 525.6 233.2 525.7 220.8 525.8 240.0 526.0 217.5 526.1 234.5 526.2 238.1 526.3 219.9 526.4 220.9 526.5 241.5 526.6 243.7 526.7 239.8 526.8 240.8 526.9 243.5 527.0 216.3 527.1 226.3 527.2 248.1 527.3 222.4 527.4 248.3 527.5 228.8 527.6 247.2 527.8 224.5 527.9 241.7 528.0 235.9 528.1 246.1 528.2 228.4 528.3 217.8 528.4 223.1 528.5 241.2 528.6 221.6 528.7 218.4 528.8 238.9 528.9 237.4 529.0 216.1 529.1 241.0 529.2 219.3 529.3 222.8 529.4 238.3 529.6 222.7 529.7 224.3 529.8 241.8 529.9 239.2 530.0 239.9 530.1 235.7 530.2 242.1 530.3 246.4 530.4 234.9 530.5 223.7 530.6 239.5 530.7 239.2 530.8 247.0 530.9 221.5 531.0 217.1 531.1 241.2 531.2 212.7 531.4 223.5 531.5 216.3 531.6 237.9 531.7 238.6 531.8 240.5 531.9 233.7 532.0 223.0 532.1 226.0 532.2 222.9 532.3 240.7 532.4 219.4 532.5 236.1 532.6 234.8 532.7 222.4 532.8 237.0 532.9 225.2 533.0 242.2 533.2 241.1 533.3 243.8 533.4 217.4 533.5 243.1 533.6 217.8 533.7 216.9 533.8 220.3 533.9 239.4 534.0 241.7"/>
<path stroke="#c80d33" d="M322.2 235.5L322.3 235.5 322.4 232.1 322.5 233.6 322.6 235.4 322.7 227.0 322.8 228.5 322.9 227.6 323.0 227.5 323.2 227.1 323.3 226.6 323.4 235.9 323.5 232.5 323.6 231.0 323.7 231.1 323.8 230.7 323.9 228.5 324.0 227.2 324.1 232.5 324.2 231.0 324.3 232.2 324.4 232.1 324.5 226.6 324.6 227.2 324.7 225.6 324.8 231.5 325.0 233.3 325.1 232.1 325.2 231.5 325.3 227.9 325.4 231.3 325.5 226.6 325.6 227.8 325.7 227.1 325.8 227.7 325.9 231.5 326.0 227.1 326.1 230.6 326.2 231.9 326.3 225.6 326.4 228.8 326.5 228.2 326.6 227.8 326.8 225.1 326.9 232.1 327.0 231.7 327.1 232.3 327.2 226.7 327.3 230.1 327.4 224.2 327.5 228.6 327.6 231.5 327.7 231.3 327.8 232.4 327.9 227.0 328.0 230.4 328.1 227.0 328.2 227.4 328.3 227.7 328.4 232.2 328.6 228.3 328.7 231.8 328.8 232.4 328.9 226.5 329.0 226.8 329.1 225.9 329.2 231.2 329.3 226.3 329.4 233.3 329.5 227.4 329.6 230.5 329.7 226.1 329.8 227.2 329.9 233.3 330.0 227.1 330.1 227.0 330.2 228.0 330.4 233.6 330.5 233.5 330.6 228.0 330.7 230.9 330.8 230.4 330.9 227.5 331.0 230.3 331.1 231.0 331.2 226.6 331.3 231.3 331.4 227.3 331.5 227.9 331.6 229.9 331.7 231.5 331.8 223.6 331.9 231.5 332.0 232.6 332.2 233.1 332.3 223.8 332.4 232.6 332.5 227.4 332.6 232.8 332.7 227.7 332.8 225.4 332.9 226.4 333.0 231.7 333.1 232.3 333.2 226.1 333.3 231.0 333.4 231.9 333.5 231.8 333.6 231.0 333.7 231.2 333.8 225.0 334.0 223.7 334.1 226.9 334.2 225.3 334.3 224.9 334.4 231.9 334.5 231.7 334.6 225.0 334.7 231.6 334.8 231.3 334.9 226.7 335.0 227.8 335.1 230.2 335.2 231.3 335.3 235.9 335.4 228.3 335.5 232.4 335.6 228.1 335.8 225.5 335.9 233.7 336.0 231.2 336.1 228.1 336.2 232.4 336.3 227.6 336.4 227.4 336.5 236.3 336.6 227.2 336.7 225.9 336.8 225.3 336.9 228.0 337.0 232.8 337.1 232.0 337.2 230.5 337.3 229.1 337.4 224.4 337.6 228.4 337.7 232.0 337.8 231.3 337.9 227.3 338.0 227.3 338.1 229.0 338.2 227.8 338.3 228.6 338.4 229.2 338.5 228.3 338.6 232.9 338.7 228.6 338.8 232.3 338.9 231.9 339.0 225.6 339.1 231.9 339.2 225.6 339.4 232.7 339.5 231.1 339.6 232.6 339.7 232.0 339.8 232.8 339.9 227.2 340.0 230.5 340.1 232.3 340.2 232.4 340.3 231.6 340.4 232.5 340.5 232.6 340.6 231.6 340.7 231.8 340.8 233.6 340.9 230.8 341.1 227.1 341.2 225.7 341.3 232.2 341.4 226.2 341.5 225.7 341.6 233.3 341.7 232.8 341.8 231.5 341.9 225.9 342.0 227.3 342.1 227.0 342.2 232.4 342.3 231.7 342.4 227.3 342.5 233.2 342.6 229.8 342.7 226.5 342.9 228.4 343.0 226.2 343.1 232.4 343.2 232.3 343.3 231.2 343.4 231.2 343.5 232.9 343.6 232.9 343.7 226.3 343.8 226.6 343.9 228.3 344.0 228.4 344.1 230.3 344.2 231.9 344.3 232.7 344.4 224.7 344.5 232.7 344.7 230.8 344.8 231.0 344.9 225.4 345.0 233.1 345.1 225.5 345.2 226.2 345.3 225.7 345.4 233.1 345.5 232.2 345.6 225.8 345.7 231.6 345.8 233.0 345.9 227.1 346.0 228.2 346.1 227.6 346.2 229.0 346.3 233.1 346.5 227.1 346.6 226.9 346.7 230.2 346.8 233.6 346.9 226.4 347.0 231.6 347.1 226.4 347.2 226.6 347.3 223.9 347.4 232.4 347.5 230.0 347.6 224.7 347.7 223.5 347.8 231.7 347.9 233.2 348.0 230.0 348.1 224.0 348.3 231.2 348.4 223.9 348.5 224.3 348.6 231.9 348.7 231.2 348.8 224.2 348.9 233.3 349.0 224.3 349.1 224.4 349.2 227.5 349.3 227.2 349.4 227.7 349.5 231.5 349.6 231.8 349.7 227.2 349.8 235.2 349.9 235.6 350.1 232.1 350.2 234.3 350.3 226.3 350.4 228.3 350.5 234.6 350.6 231.5 350.7 228.8 350.8 227.4 350.9 225.2 351.0 231.8 351.1 232.0 351.2 226.0 351.3 233.8 351.4 233.5 351.5 225.4 351.6 226.3 351.7 233.4 351.9 233.2 352.0 233.9 352.1 225.0 352.2 232.6 352.3 227.1 352.4 224.9 352.5 232.2 352.6 232.8 352.7 226.9 352.8 227.4 352.9 227.7 353.0 231.9 353.1 225.5 353.2 232.9 353.3 228.2 353.4 227.0 353.5 226.5 353.7 235.0 353.8 228.4 353.9 234.8 354.0 233.1 354.1 232.1 354.2 230.1 354.3 232.2 354.4 231.0 354.5 224.5 354.6 227.0 354.7 223.7 354.8 225.7 354.9 225.1 355.0 231.8 355.1 232.2 355.2 228.0 355.3 232.7 355.5 222.8 355.6 232.5 355.7 233.4 355.8 223.9 355.9 223.6 356.0 231.8 356.1 223.4 356.2 231.9 356.3 225.7 356.4 223.8 356.5 223.3 356.6 227.3 356.7 223.5 356.8 223.6 356.9 233.5 357.0 232.5 357.1 231.9 357.3 225.4 357.4 231.1 357.5 224.7 357.6 231.4 357.7 225.3 357.8 224.9 357.9 231.6 358.0 225.8 358.1 225.3 358.2 226.0 358.3 233.2 358.4 233.1 358.5 225.0 358.6 232.4 358.7 233.4 358.8 227.6 358.9 232.5 359.1 232.4 359.2 231.6 359.3 225.7 359.4 231.9 359.5 227.1 359.6 232.2 359.7 231.5 359.8 227.9 359.9 225.9 360.0 232.9 360.1 225.2 360.2 231.5 360.3 232.8 360.4 230.5 360.5 227.5 360.6 234.3 360.7 233.0 360.9 226.9 361.0 234.0 361.1 234.5 361.2 226.3 361.3 226.5 361.4 226.3 361.5 233.3 361.6 234.3 361.7 231.5 361.8 225.3 361.9 229.6 362.0 224.9 362.1 224.9 362.2 232.8 362.3 224.2 362.4 225.2 362.5 233.0 362.7 232.9 362.8 230.6 362.9 228.2 363.0 228.9 363.1 227.0 363.2 227.7 363.3 234.4 363.4 228.9 363.5 233.2 363.6 233.5 363.7 232.9 363.8 227.5 363.9 234.2 364.0 227.1 364.1 235.2 364.2 226.0 364.3 236.0 364.5 225.6 364.6 232.1 364.7 235.3 364.8 226.5 364.9 233.9 365.0 224.5 365.1 233.7 365.2 225.3 365.3 225.6 365.4 232.6 365.5 232.5 365.6 230.9 365.7 225.2 365.8 230.5 365.9 227.6 366.0 226.5 366.1 224.8 366.3 224.5 366.4 231.7 366.5 230.7 366.6 232.6 366.7 232.2 366.8 231.0 366.9 231.6 367.0 231.2 367.1 230.9 367.2 231.5 367.3 225.4 367.4 227.8 367.5 224.8 367.6 225.6 367.7 225.3 367.8 231.8 367.9 226.7 368.1 225.2 368.2 228.2 368.3 224.6 368.4 225.7 368.5 232.8 368.6 232.5 368.7 233.4 368.8 233.8 368.9 228.2 369.0 231.9 369.1 232.2 369.2 228.9 369.3 230.1 369.4 225.9 369.5 228.1 369.6 232.7 369.7 226.9 369.9 232.1 370.0 226.7 370.1 232.8 370.2 228.0 370.3 226.2 370.4 226.5 370.5 232.2 370.6 228.2 370.7 230.5 370.8 232.2 370.9 225.7 371.0 230.4 371.1 232.1 371.2 228.3 371.3 225.9 371.4 232.5 371.5 232.6 371.7 231.5 371.8 231.7 371.9 226.1 372.0 226.1 372.1 231.4 372.2 226.1 372.3 230.6 372.4 231.5 372.5 226.7 372.6 229.4 372.7 231.9 372.8 230.5 372.9 226.7 373.0 226.2 373.1 231.3 373.2 231.1 373.3 226.8 373.5 225.6 373.6 228.2 373.7 225.5 373.8 225.7 373.9 232.4 374.0 232.1 374.1 232.4 374.2 231.8 374.3 231.4 374.4 230.3 374.5 226.9 374.6 231.9 374.7 227.6 374.8 226.1 374.9 228.2 375.0 230.9 375.1 232.3 375.3 233.0 375.4 232.4 375.5 226.5 375.6 227.8 375.7 232.3 375.8 228.9 375.9 231.8 376.0 227.1 376.1 232.2 376.2 232.9 376.3 227.6 376.4 229.0 376.5 232.1 376.6 225.9 376.7 231.0 376.8 231.2 377.0 231.8 377.1 230.5 377.2 230.9 377.3 227.6 377.4 227.9 377.5 226.9 377.6 232.2 377.7 227.9 377.8 230.9 377.9 231.8 378.0 226.9 378.1 230.5 378.2 227.6 378.3 228.4 378.4 233.2 378.5 227.8 378.6 226.5 378.8 232.0 378.9 227.1 379.0 226.6 379.1 232.0 379.2 227.9 379.3 232.0 379.4 232.7 379.5 226.4 379.6 227.5 379.7 227.7 379.8 228.3 379.9 226.8 380.0 233.5 380.1 226.1 380.2 233.4 380.3 227.9 380.4 225.9 380.6 232.5 380.7 227.8 380.8 224.8 380.9 225.9 381.0 228.5 381.1 232.1 381.2 225.5 381.3 224.9 381.4 230.6 381.5 231.9 381.6 233.0 381.7 225.9 381.8 227.2 381.9 233.4 382.0 233.4 382.1 233.2 382.2 230.5 382.4 235.0 382.5 226.3 382.6 225.7 382.7 234.1 382.8 233.7 382.9 233.4 383.0 228.7 383.1 232.8 383.2 231.5 383.3 232.8 383.4 227.7 383.5 233.0 383.6 228.4 383.7 227.6 383.8 232.3 383.9 232.6 384.0 226.7 384.2 227.4 384.3 232.9 384.4 232.3 384.5 227.9 384.6 232.0 384.7 230.7 384.8 232.1 384.9 232.6 385.0 230.4 385.1 232.6 385.2 225.4 385.3 230.3 385.4 227.1 385.5 232.4 385.6 232.5 385.7 225.0 385.8 226.5 386.0 230.6 386.1 232.3 386.2 226.1 386.3 231.3 386.4 226.8 386.5 230.3 386.6 226.5 386.7 231.8 386.8 232.7 386.9 228.2 387.0 227.5 387.1 228.8 387.2 227.5 387.3 232.0 387.4 231.8 387.5 231.4 387.6 231.6 387.8 226.0 387.9 235.8 388.0 233.0 388.1 227.0 388.2 235.3 388.3 227.5 388.4 226.7 388.5 226.8 388.6 227.6 388.7 227.6 388.8 228.6 388.9 226.3 389.0 232.4 389.1 227.6 389.2 235.0 389.3 228.1 389.4 228.0 389.6 232.8 389.7 226.0 389.8 226.2 389.9 226.8 390.0 226.5 390.1 227.2 390.2 231.0 390.3 233.6 390.4 225.8 390.5 232.9 390.6 234.4 390.7 226.8 390.8 233.5 390.9 226.6 391.0 224.5 391.1 234.6 391.2 234.7 391.4 233.3 391.5 230.6 391.6 233.6 391.7 234.4 391.8 232.4 391.9 234.1 392.0 226.1 392.1 232.6 392.2 232.9 392.3 232.7 392.4 233.2 392.5 225.4 392.6 226.8 392.7 232.3 392.8 230.4 392.9 227.2 393.0 227.5 393.2 231.6 393.3 231.3 393.4 232.4 393.5 226.7 393.6 233.5 393.7 226.0 393.8 226.9 393.9 232.3 394.0 229.1 394.1 231.8 394.2 226.9 394.3 226.2 394.4 232.3 394.5 226.5 394.6 233.6 394.7 231.0 394.8 231.6 395.0 233.1 395.1 232.7 395.2 225.5 395.3 224.5 395.4 225.4 395.5 225.0 395.6 231.6 395.7 232.2 395.8 226.0 395.9 232.4 396.0 226.2 396.1 225.8 396.2 226.2 396.3 226.7 396.4 226.0 396.5 233.1 396.6 226.4 396.8 226.6 396.9 231.8 397.0 231.9 397.1 231.3 397.2 232.1 397.3 231.9 397.4 229.8 397.5 231.9 397.6 230.9 397.7 231.6 397.8 227.4 397.9 233.1 398.0 227.8 398.1 233.0 398.2 233.7 398.3 226.2 398.4 225.3 398.6 225.0 398.7 231.3 398.8 234.0 398.9 233.3 399.0 230.5 399.1 227.1 399.2 226.8 399.3 233.2 399.4 227.5 399.5 232.6 399.6 231.6 399.7 232.0 399.8 231.8 399.9 226.4 400.0 231.2 400.1 230.9 400.2 227.3 400.4 232.9 400.5 232.1 400.6 232.1 400.7 225.9 400.8 231.6 400.9 229.9 401.0 231.3 401.1 224.9 401.2 230.7 401.3 232.1 401.4 227.5 401.5 226.7 401.6 231.6 401.7 228.4 401.8 231.7 401.9 231.6 402.0 226.6 402.2 232.5 402.3 228.4 402.4 231.6 402.5 233.6 402.6 229.8 402.7 226.1 402.8 231.5 402.9 226.2 403.0 229.0 403.1 232.6 403.2 226.6 403.3 226.3 403.4 227.7 403.5 230.9 403.6 227.3 403.7 227.1 403.8 231.0 404.0 231.6 404.1 230.9 404.2 227.0 404.3 226.9 404.4 230.7 404.5 227.5 404.6 226.0 404.7 230.9 404.8 228.1 404.9 233.3 405.0 226.0 405.1 228.0 405.2 227.2 405.3 228.8 405.4 226.4 405.5 232.9 405.6 229.7 405.8 231.9 405.9 233.9 406.0 234.5 406.1 225.3 406.2 225.3 406.3 234.0 406.4 225.4 406.5 226.0 406.6 233.0 406.7 228.1 406.8 234.5 406.9 227.7 407.0 234.4 407.1 234.5 407.2 225.6 407.3 225.8 407.4 235.8 407.6 225.5 407.7 227.5 407.8 226.2 407.9 225.6 408.0 225.9 408.1 232.7 408.2 226.9 408.3 225.9 408.4 226.0 408.5 231.5 408.6 227.6 408.7 226.1 408.8 231.8 408.9 226.2 409.0 231.3 409.1 227.1 409.2 233.3 409.4 228.3 409.5 227.7 409.6 233.0 409.7 225.9 409.8 226.3 409.9 229.8 410.0 227.1 410.1 227.1 410.2 226.9 410.3 232.8 410.4 228.3 410.5 226.6 410.6 226.8 410.7 227.5 410.8 232.4 410.9 226.7 411.1 231.4 411.2 233.6 411.3 225.8 411.4 226.9 411.5 225.4 411.6 231.9 411.7 233.1 411.8 231.7 411.9 228.0 412.0 231.4 412.1 225.4 412.2 226.2 412.3 225.8 412.4 227.5 412.5 226.1 412.6 232.0 412.7 226.4 412.9 231.2 413.0 232.2 413.1 230.1 413.2 226.7 413.3 231.9 413.4 231.2 413.5 225.7 413.6 230.9 413.7 225.6 413.8 227.2 413.9 226.5 414.0 231.4 414.1 231.5 414.2 228.3 414.3 231.7 414.4 233.5 414.5 228.3 414.7 227.1 414.8 227.5 414.9 227.7 415.0 227.5 415.1 228.8 415.2 232.9 415.3 234.1 415.4 233.6 415.5 225.1 415.6 225.5 415.7 231.6 415.8 233.3 415.9 228.1 416.0 233.9 416.1 227.7 416.2 228.1 416.3 228.8 416.5 229.9 416.6 227.0 416.7 227.0 416.8 232.6 416.9 230.1 417.0 231.0 417.1 229.9 417.2 230.7 417.3 233.1 417.4 232.7 417.5 231.7 417.6 230.3 417.7 227.7 417.8 231.1 417.9 231.6 418.0 226.3 418.1 226.7 418.3 231.7 418.4 232.4 418.5 230.8 418.6 225.4 418.7 224.8 418.8 234.1 418.9 232.4 419.0 233.3 419.1 223.4 419.2 234.2 419.3 231.9 419.4 227.2 419.5 231.9 419.6 228.5 419.7 227.6 419.8 231.0 419.9 230.9 420.1 227.7 420.2 227.9 420.3 231.2 420.4 232.7 420.5 232.1 420.6 232.6 420.7 232.6 420.8 231.3 420.9 232.0 421.0 222.3 421.1 232.6 421.2 232.1 421.3 224.7 421.4 233.2 421.5 233.0 421.6 225.5 421.7 223.1 421.9 222.6 422.0 232.3 422.1 231.0 422.2 233.3 422.3 225.0 422.4 233.1 422.5 232.1 422.6 233.0 422.7 227.1 422.8 232.6 422.9 233.0 423.0 226.6 423.1 233.2 423.2 230.6 423.3 232.0 423.4 230.1 423.5 224.3 423.7 228.3 423.8 227.2 423.9 226.5 424.0 235.6 424.1 235.4 424.2 225.8 424.3 233.6 424.4 226.5 424.5 225.7 424.6 234.1 424.7 226.3 424.8 227.1 424.9 223.6 425.0 225.7 425.1 223.7 425.2 223.1 425.3 229.9 425.5 223.9 425.6 224.5 425.7 224.0 425.8 233.4 425.9 225.3 426.0 231.4 426.1 233.1 426.2 233.7 426.3 232.3 426.4 227.3 426.5 233.9 426.6 233.9 426.7 226.3 426.8 233.8 426.9 233.3 427.0 226.1 427.1 226.0 427.3 226.4 427.4 234.1 427.5 225.0 427.6 234.0 427.7 225.3 427.8 224.4 427.9 231.9 428.0 223.4 428.1 233.3 428.2 227.5 428.3 232.8 428.4 227.7 428.5 226.5 428.6 231.8 428.7 227.7 428.8 228.3 428.9 232.4 429.1 232.8 429.2 227.2 429.3 232.5 429.4 232.3 429.5 226.4 429.6 226.4 429.7 226.4 429.8 231.5 429.9 231.8 430.0 230.0 430.1 228.0 430.2 226.4 430.3 227.7 430.4 226.5 430.5 227.3 430.6 232.8 430.7 226.8 430.9 231.9 431.0 228.4 431.1 231.5 431.2 227.4 431.3 226.4 431.4 228.0 431.5 226.4 431.6 231.1 431.7 230.4 431.8 228.7 431.9 226.6 432.0 231.3 432.1 226.3 432.2 227.0 432.3 232.3 432.4 233.5 432.5 233.5 432.7 232.2 432.8 231.7 432.9 226.2 433.0 226.3 433.1 228.1 433.2 227.3 433.3 232.3 433.4 233.2 433.5 228.1 433.6 228.1 433.7 233.2 433.8 233.4 433.9 226.8 434.0 231.5 434.1 226.6 434.2 230.3 434.3 231.4 434.5 233.2 434.6 227.7 434.7 233.4 434.8 230.5 434.9 226.5 435.0 225.8 435.1 225.1 435.2 226.3 435.3 225.5 435.4 230.2 435.5 231.3 435.6 228.4 435.7 225.7 435.8 227.6 435.9 228.3 436.0 225.9 436.1 231.5 436.3 225.9 436.4 232.6 436.5 232.4 436.6 226.0 436.7 224.6 436.8 233.5 436.9 233.6 437.0 223.6 437.1 223.6 437.2 232.1 437.3 231.4 437.4 232.2 437.5 228.1 437.6 226.5 437.7 225.2 437.8 227.5 437.9 231.7 438.1 228.2 438.2 225.9 438.3 225.8 438.4 227.0 438.5 230.4 438.6 231.3 438.7 226.4 438.8 225.6 438.9 226.0 439.0 226.7 439.1 228.6 439.2 232.2 439.3 227.3 439.4 233.4 439.5 231.1 439.6 227.3 439.7 232.1 439.9 230.7 440.0 233.2 440.1 224.5 440.2 226.5 440.3 232.8 440.4 225.1 440.5 232.4 440.6 227.7 440.7 233.2 440.8 232.0 440.9 226.1 441.0 224.8 441.1 225.9 441.2 227.1 441.3 228.4 441.4 226.7 441.5 234.3 441.7 235.0 441.8 233.0 441.9 232.2 442.0 225.8 442.1 226.7 442.2 225.9 442.3 228.5 442.4 227.1 442.5 226.2 442.6 226.6 442.7 230.7 442.8 230.9 442.9 231.9 443.0 231.1 443.1 227.6 443.2 227.5 443.3 226.7 443.5 232.0 443.6 229.1 443.7 226.8 443.8 227.8 443.9 233.6 444.0 232.8 444.1 226.4 444.2 225.6 444.3 233.4 444.4 226.6 444.5 231.2 444.6 233.0 444.7 233.8 444.8 232.4 444.9 227.9 445.0 232.2 445.1 228.4 445.3 233.7 445.4 231.8 445.5 233.7 445.6 230.5 445.7 231.8 445.8 230.7 445.9 232.1 446.0 224.3 446.1 226.7 446.2 231.4 446.3 229.7 446.4 228.7 446.5 232.2 446.6 224.6 446.7 226.8 446.8 231.6 447.0 232.4 447.1 223.5 447.2 225.2 447.3 232.1 447.4 233.0 447.5 226.0 447.6 231.5 447.7 226.0 447.8 231.6 447.9 225.9 448.0 230.8 448.1 225.1 448.2 227.3 448.3 229.8 448.4 233.0 448.5 227.7 448.6 225.2 448.8 232.4 448.9 227.0 449.0 226.4 449.1 230.9 449.2 226.4 449.3 230.8 449.4 228.5 449.5 229.1 449.6 231.6 449.7 231.9 449.8 232.4 449.9 233.5 450.0 234.8 450.1 226.5 450.2 235.2 450.3 232.5 450.4 228.0 450.6 232.5 450.7 227.1 450.8 235.0 450.9 233.9 451.0 225.6 451.1 225.3 451.2 225.0 451.3 231.2 451.4 232.2 451.5 228.0 451.6 229.6 451.7 233.9 451.8 235.4 451.9 235.1 452.0 234.7 452.1 224.9 452.2 224.9 452.4 225.8 452.5 233.6 452.6 222.8 452.7 232.1 452.8 234.1 452.9 234.1 453.0 234.3 453.1 225.7 453.2 232.9 453.3 225.6 453.4 227.9 453.5 232.8 453.6 227.9 453.7 226.5 453.8 234.3 453.9 227.5 454.0 225.9 454.2 227.1 454.3 228.2 454.4 230.7 454.5 227.6 454.6 226.7 454.7 226.6 454.8 231.1 454.9 229.0 455.0 230.1 455.1 229.1 455.2 230.7 455.3 226.1 455.4 230.8 455.5 227.8 455.6 227.1 455.7 228.6 455.8 225.6 456.0 230.4 456.1 225.8 456.2 227.5 456.3 226.3 456.4 232.7 456.5 233.8 456.6 234.4 456.7 228.0 456.8 233.3 456.9 234.6 457.0 231.5 457.1 233.7 457.2 231.5 457.3 232.3 457.4 233.2 457.5 225.3 457.6 232.0 457.8 225.3 457.9 232.9 458.0 225.6 458.1 227.5 458.2 225.1 458.3 233.5 458.4 226.6 458.5 228.8 458.6 232.6 458.7 226.6 458.8 225.1 458.9 229.9 459.0 226.7 459.1 227.0 459.2 231.0 459.3 224.9 459.4 225.5 459.6 226.2 459.7 228.5 459.8 235.7 459.9 224.4 460.0 232.1 460.1 224.2 460.2 233.4 460.3 224.6 460.4 226.9 460.5 226.8 460.6 232.4 460.7 227.6 460.8 234.0 460.9 227.1 461.0 227.9 461.1 233.5 461.2 228.1 461.4 226.2 461.5 225.9 461.6 232.2 461.7 232.5 461.8 232.9 461.9 229.8 462.0 224.3 462.1 229.7 462.2 231.9 462.3 226.1 462.4 232.2 462.5 224.9 462.6 232.8 462.7 232.7 462.8 232.2 462.9 229.7 463.0 232.1 463.2 228.7 463.3 225.2 463.4 226.5 463.5 226.9 463.6 232.4 463.7 227.2 463.8 228.0 463.9 232.2 464.0 226.9 464.1 231.9 464.2 227.6 464.3 230.1 464.4 231.9 464.5 230.5 464.6 227.3 464.7 225.1 464.8 231.2 465.0 233.3 465.1 233.5 465.2 223.5 465.3 231.7 465.4 231.4 465.5 225.6 465.6 233.1 465.7 233.1 465.8 226.1 465.9 232.8 466.0 234.0 466.1 231.7 466.2 233.4 466.3 233.4 466.4 231.8 466.5 225.9 466.6 224.6 466.8 224.9 466.9 232.4 467.0 228.1 467.1 234.5 467.2 225.7 467.3 233.0 467.4 234.8 467.5 224.6 467.6 224.2 467.7 227.7 467.8 232.1 467.9 234.4 468.0 233.8 468.1 226.2 468.2 233.8 468.3 228.4 468.4 232.7 468.6 227.3 468.7 232.6 468.8 232.0 468.9 229.8 469.0 227.8 469.1 226.8 469.2 233.6 469.3 231.9 469.4 230.7 469.5 227.4 469.6 233.4 469.7 225.8 469.8 234.5 469.9 224.9 470.0 228.4 470.1 227.0 470.2 231.7 470.4 224.6 470.5 226.5 470.6 230.1 470.7 225.9 470.8 224.7 470.9 232.3 471.0 227.7 471.1 226.3 471.2 225.8 471.3 225.4 471.4 229.7 471.5 225.5 471.6 231.5 471.7 235.4 471.8 224.9 471.9 232.7 472.0 234.2 472.2 228.6 472.3 233.1 472.4 228.8 472.5 227.4 472.6 231.5 472.7 232.3 472.8 228.8 472.9 226.8 473.0 227.0 473.1 227.5 473.2 230.7 473.3 232.0 473.4 232.5 473.5 233.4 473.6 226.9 473.7 231.2 473.8 232.0 474.0 232.7 474.1 232.4 474.2 225.8 474.3 227.5 474.4 231.7 474.5 226.4 474.6 232.3 474.7 222.9 474.8 230.0 474.9 224.6 475.0 234.2 475.1 233.0 475.2 224.1 475.3 226.6 475.4 224.0 475.5 223.1 475.6 234.7 475.8 232.4 475.9 229.5 476.0 226.2 476.1 232.3 476.2 225.1 476.3 224.1 476.4 225.3 476.5 226.9 476.6 226.0 476.7 225.4 476.8 222.4 476.9 224.2 477.0 232.5 477.1 223.7 477.2 229.6 477.3 226.9 477.4 233.3 477.6 226.9 477.7 227.0 477.8 232.3 477.9 227.4 478.0 227.0 478.1 233.2 478.2 233.2 478.3 231.8 478.4 227.4 478.5 233.3 478.6 230.8 478.7 225.0 478.8 224.7 478.9 230.7 479.0 232.0 479.1 224.6 479.2 227.4 479.4 231.3 479.5 232.5 479.6 226.5 479.7 226.4 479.8 234.7 479.9 233.5 480.0 225.9 480.1 234.6 480.2 225.9 480.3 233.1 480.4 225.9 480.5 226.4 480.6 234.0 480.7 230.9 480.8 226.3 480.9 226.0 481.0 226.3 481.2 231.6 481.3 232.7 481.4 227.1 481.5 228.2 481.6 225.7 481.7 226.0 481.8 227.0 481.9 230.7 482.0 225.8 482.1 232.0 482.2 231.6 482.3 225.6 482.4 228.8 482.5 234.0 482.6 226.8 482.7 225.6 482.9 234.0 483.0 234.7 483.1 234.5 483.2 231.8 483.3 223.3 483.4 231.3 483.5 233.2 483.6 232.1 483.7 229.8 483.8 224.9 483.9 232.5 484.0 225.0 484.1 223.3 484.2 232.5 484.3 232.2 484.4 231.9 484.5 226.8 484.7 226.7 484.8 231.1 484.9 232.5 485.0 227.2 485.1 231.9 485.2 227.5 485.3 227.9 485.4 227.1 485.5 234.0 485.6 228.4 485.7 235.5 485.8 225.0 485.9 234.2 486.0 226.8 486.1 226.6 486.2 231.1 486.3 225.5 486.5 235.4 486.6 228.0 486.7 226.3 486.8 231.1 486.9 234.8 487.0 231.9 487.1 225.8 487.2 231.9 487.3 222.4 487.4 226.3 487.5 231.4 487.6 222.4 487.7 229.0 487.8 231.8 487.9 226.9 488.0 234.3 488.1 227.1 488.3 234.5 488.4 235.0 488.5 232.9 488.6 234.6 488.7 231.1 488.8 233.9 488.9 228.2 489.0 226.6 489.1 231.3 489.2 233.5 489.3 228.7 489.4 227.7 489.5 231.0 489.6 228.2 489.7 233.9 489.8 226.1 489.9 227.5 490.1 231.3 490.2 227.1 490.3 227.4 490.4 232.4 490.5 232.8 490.6 225.8 490.7 230.8 490.8 227.1 490.9 226.3 491.0 231.4 491.1 226.0 491.2 229.0 491.3 232.0 491.4 225.4 491.5 226.8 491.6 231.9 491.7 224.8 491.9 225.5 492.0 227.6 492.1 225.6 492.2 231.9 492.3 231.5 492.4 223.2 492.5 232.4 492.6 232.4 492.7 228.0 492.8 232.4 492.9 230.8 493.0 232.8 493.1 225.4 493.2 227.5 493.3 233.1 493.4 232.6 493.5 226.3 493.7 227.8 493.8 225.4 493.9 226.6 494.0 224.0 494.1 230.9 494.2 231.8 494.3 226.7 494.4 225.4 494.5 230.9 494.6 225.7 494.7 230.5 494.8 226.5 494.9 224.5 495.0 230.6 495.1 226.8 495.2 232.7 495.3 228.2 495.5 226.4 495.6 233.2 495.7 232.8 495.8 231.6 495.9 227.6 496.0 226.4 496.1 230.7 496.2 225.4 496.3 230.5 496.4 225.1 496.5 225.1 496.6 232.2 496.7 233.0 496.8 226.7 496.9 227.4 497.0 232.7 497.1 233.5 497.3 232.2 497.4 233.6 497.5 233.4 497.6 233.0 497.7 228.5 497.8 224.8 497.9 224.5 498.0 233.5 498.1 232.5 498.2 224.2 498.3 225.5 498.4 227.3 498.5 233.0 498.6 233.1 498.7 226.4 498.8 233.5 498.9 225.1 499.1 231.3 499.2 226.2 499.3 230.6 499.4 231.6 499.5 231.5 499.6 231.1 499.7 228.5 499.8 233.3 499.9 231.6 500.0 227.0 500.1 231.7 500.2 230.5 500.3 225.8 500.4 225.4 500.5 230.7 500.6 231.2 500.7 228.6 500.9 225.8 501.0 231.6 501.1 225.5 501.2 231.4 501.3 225.3 501.4 232.7 501.5 231.1 501.6 230.8 501.7 227.3 501.8 232.3 501.9 226.6 502.0 227.8 502.1 231.6 502.2 233.4 502.3 227.0 502.4 228.5 502.5 233.3 502.7 229.1 502.8 232.7 502.9 227.5 503.0 226.1 503.1 234.2 503.2 234.6 503.3 226.1 503.4 232.8 503.5 233.8 503.6 234.2 503.7 225.3 503.8 234.7 503.9 232.4 504.0 231.9 504.1 222.4 504.2 227.2 504.3 222.6 504.5 223.7 504.6 233.8 504.7 232.4 504.8 224.3 504.9 224.6 505.0 223.7 505.1 224.6 505.2 231.9 505.3 224.6 505.4 224.4 505.5 225.6 505.6 225.2 505.7 226.0 505.8 231.4 505.9 225.0 506.0 232.0 506.1 229.0 506.3 234.2 506.4 231.0 506.5 225.4 506.6 226.0 506.7 224.9 506.8 225.0 506.9 224.5 507.0 234.2 507.1 224.2 507.2 223.0 507.3 232.0 507.4 231.3 507.5 227.7 507.6 228.0 507.7 230.8 507.8 225.8 507.9 226.8 508.1 225.7 508.2 232.7 508.3 232.2 508.4 226.7 508.5 232.5 508.6 230.1 508.7 234.6 508.8 226.7 508.9 224.9 509.0 230.8 509.1 226.3 509.2 226.5 509.3 226.5 509.4 225.4 509.5 233.7 509.6 227.2 509.7 228.3 509.9 226.4 510.0 230.8 510.1 231.4 510.2 232.7 510.3 230.5 510.4 233.0 510.5 225.6 510.6 232.9 510.7 225.0 510.8 227.2 510.9 225.3 511.0 227.4 511.1 231.8 511.2 228.4 511.3 230.6 511.4 230.7 511.5 231.6 511.7 231.2 511.8 228.1 511.9 230.2 512.0 227.2 512.1 231.6 512.2 231.2 512.3 231.9 512.4 227.1 512.5 226.4 512.6 234.6 512.7 227.5 512.8 233.4 512.9 232.7 513.0 225.8 513.1 232.4 513.2 234.7 513.3 233.3 513.5 233.4 513.6 232.5 513.7 224.9 513.8 224.7 513.9 232.0 514.0 232.1 514.1 232.5 514.2 231.5 514.3 224.6 514.4 231.2 514.5 227.0 514.6 232.4 514.7 232.1 514.8 231.5 514.9 225.6 515.0 231.7 515.1 225.3 515.3 225.1 515.4 225.3 515.5 223.1 515.6 232.5 515.7 232.1 515.8 223.7 515.9 233.1 516.0 225.1 516.1 223.1 516.2 228.0 516.3 232.2 516.4 231.2 516.5 223.1 516.6 232.4 516.7 225.6 516.8 233.6 517.0 234.1 517.1 228.4 517.2 224.8 517.3 233.7 517.4 231.6 517.5 231.0 517.6 225.9 517.7 231.5 517.8 233.1 517.9 226.1 518.0 226.0 518.1 226.5 518.2 232.0 518.3 231.2 518.4 224.9 518.5 222.6 518.6 222.9 518.8 233.0 518.9 230.3 519.0 231.7 519.1 224.7 519.2 222.7 519.3 225.1 519.4 222.5 519.5 234.2 519.6 233.9 519.7 230.2 519.8 234.1 519.9 233.0 520.0 232.9 520.1 224.3 520.2 223.7 520.3 231.5 520.4 223.8 520.6 232.0 520.7 231.5 520.8 232.7 520.9 232.0 521.0 223.5 521.1 223.9 521.2 234.3 521.3 225.6 521.4 225.9 521.5 233.1 521.6 226.8 521.7 233.0 521.8 225.5 521.9 233.4 522.0 225.6 522.1 233.1 522.2 233.6 522.4 232.2 522.5 233.8 522.6 224.4 522.7 226.3 522.8 225.2 522.9 224.8 523.0 232.2 523.1 225.6 523.2 232.7 523.3 227.3 523.4 230.6 523.5 230.6 523.6 226.0 523.7 232.8 523.8 232.4 523.9 233.6 524.0 231.1 524.2 233.3 524.3 232.7 524.4 231.6 524.5 226.4 524.6 231.2 524.7 225.3 524.8 234.5 524.9 227.5 525.0 234.2 525.1 234.7 525.2 226.9 525.3 234.5 525.4 225.1 525.5 236.1 525.6 227.3 525.7 226.1 525.8 225.7 526.0 236.2 526.1 225.8 526.2 226.0 526.3 228.9 526.4 228.0 526.5 227.5 526.6 232.9 526.7 231.0 526.8 226.9 526.9 232.3 527.0 228.7 527.1 232.2 527.2 227.6 527.3 226.7 527.4 232.1 527.5 228.1 527.6 227.2 527.8 230.0 527.9 227.5 528.0 226.9 528.1 227.0 528.2 232.2 528.3 231.7 528.4 226.8 528.5 226.8 528.6 225.4 528.7 232.5 528.8 234.0 528.9 232.9 529.0 226.1 529.1 232.5 529.2 234.4 529.3 227.2 529.4 232.7 529.6 225.7 529.7 226.1 529.8 230.4 529.9 232.6 530.0 228.5 530.1 232.8 530.2 232.0 530.3 232.2 530.4 225.6 530.5 225.5 530.6 231.1 530.7 232.4 530.8 232.3 530.9 232.4 531.0 228.1 531.1 226.1 531.2 233.6 531.4 225.1 531.5 224.9 531.6 232.6 531.7 227.8 531.8 224.9 531.9 230.8 532.0 233.9 532.1 231.3 532.2 227.5 532.3 225.2 532.4 225.2 532.5 227.8 532.6 227.2 532.7 229.1 532.8 234.6 532.9 233.8 533.0 230.8 533.2 233.8 533.3 233.3 533.4 231.1 533.5 230.6 533.6 226.8 533.7 227.5 533.8 233.9 533.9 226.4 534.0 233.3"/>
</g></g>
<path d="M322.20 289.70v-2.30M322.20 175.00v2.30M375.15 289.70v-2.30M375.15 175.00v2.30M428.10 289.70v-2.30M428.10 175.00v2.30M481.05 289.70v-2.30M481.05 175.00v2.30M534.00 289.70v-2.30M534.00 175.00v2.30M322.20 289.70h2.30M534.00 289.70h-2.30M322.20 261.02h2.30M534.00 261.02h-2.30M322.20 232.35h2.30M534.00 232.35h-2.30M322.20 203.67h2.30M534.00 203.67h-2.30M322.20 175.00h2.30M534.00 175.00h-2.30" stroke="#3a3a3a" stroke-width="1.0" fill="none"/>
<rect x="322.20" y="175.00" width="211.80" height="114.70" fill="none" stroke="#3a3a3a" stroke-width="1.2"/>
<g fill="#2a2a2a" stroke="#2a2a2a"><text transform="translate(322.20 302.20) scale(1.000 1)" text-anchor="middle" font-size="9.65">0</text><text transform="translate(375.15 302.20) scale(1.000 1)" text-anchor="middle" font-size="9.65">500</text><text transform="translate(428.10 302.20) scale(1.000 1)" text-anchor="middle" font-size="9.65">1000</text><text transform="translate(481.05 302.20) scale(1.000 1)" text-anchor="middle" font-size="9.65">1500</text><text transform="translate(534.00 302.20) scale(1.000 1)" text-anchor="middle" font-size="9.65">2000</text><text transform="translate(319.40 292.40) scale(1.000 1)" text-anchor="end" font-size="9.65">-0.04</text><text transform="translate(319.40 263.72) scale(1.000 1)" text-anchor="end" font-size="9.65">-0.02</text><text transform="translate(319.40 235.05) scale(1.000 1)" text-anchor="end" font-size="9.65">0</text><text transform="translate(319.40 206.37) scale(1.000 1)" text-anchor="end" font-size="9.65">0.02</text><text transform="translate(319.40 177.70) scale(1.000 1)" text-anchor="end" font-size="9.65">0.04</text></g>
<text transform="translate(428.10 313.70) scale(1.060 1)" text-anchor="middle" font-size="9.30" fill="#2a2a2a" stroke="#2a2a2a">Frame number</text>
<text transform="translate(292.90 232.65) rotate(-90) scale(1.060 1)" text-anchor="middle" font-size="9.30" fill="#2a2a2a" stroke="#2a2a2a">Interframe Disp. [mm]</text>
<text transform="translate(428.10 173.00) scale(0.915 1)" text-anchor="middle" font-size="10.50" font-weight="bold" fill="#000" stroke="#000" style="stroke-width:0.15px">Mule</text>
<rect x="467.20" y="262.00" width="63.80" height="24.90" fill="#fff" stroke="#3a3a3a" stroke-width="1.2"/><line x1="469.00" y1="268.60" x2="480.40" y2="268.60" stroke="#2e8ad0" stroke-width="1.3"/><line x1="469.00" y1="280.60" x2="480.40" y2="280.60" stroke="#d23a5a" stroke-width="1.3"/><text transform="translate(481.20 271.60) scale(1.100 1)" font-size="9.00" fill="#2a2a2a" stroke="#2a2a2a">DSM</text><text transform="translate(481.20 283.30) scale(1.100 1)" font-size="9.00" fill="#2a2a2a" stroke="#2a2a2a">Correlation</text>
<rect x="57" y="24" width="13" height="13" fill="#050505"/>
<circle cx="339.6" cy="30.1" r="6.3" fill="#050505"/>
<rect x="52.6" y="179.4" width="19.4" height="20.2" fill="#fff"/><circle cx="63.6" cy="189.3" r="8.0" fill="url(#gblob)"/>
<g fill="#111"><circle cx="337.6" cy="181.9" r="1.0"/><path d="M337.0 183.0 L338.1 182.9 L338.4 185.5 L339.2 187.3 L339.8 188.4 L341.8 188.2 L343.1 186.6 L343.4 185.8 L344.0 186.3 L345.6 187.3 L346.6 189.3 L346.0 189.9 L344.6 189.4 L343.2 190.6 L342.4 192.2 L342.1 196.9 L341.3 196.9 L341.1 193.3 L340.8 193.3 L340.7 196.6 L340.0 196.6 L339.8 192.9 L336.9 192.9 L336.8 196.6 L336.0 196.6 L335.8 193.6 L335.4 196.3 L334.6 196.3 L334.4 192.6 L333.8 192.3 L333.9 190.0 L334.4 188.9 L336.6 188.5 L336.8 186.0 Z"/></g>
</svg></body></html>
